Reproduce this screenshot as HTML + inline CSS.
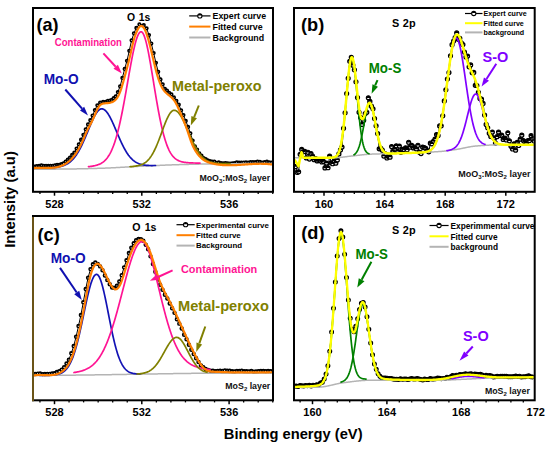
<!DOCTYPE html>
<html><head><meta charset="utf-8"><style>
html,body{margin:0;padding:0;background:#fff;width:550px;height:449px;overflow:hidden}
svg{display:block}
text{font-family:"Liberation Sans",sans-serif;font-weight:bold}
</style></head><body>
<svg width="550" height="449" viewBox="0 0 550 449">
<rect width="550" height="449" fill="#fff"/>
<clipPath id="ca"><rect x="34" y="9" width="238" height="181.8"/></clipPath>
<g clip-path="url(#ca)">
<path d="M34.35,166.69 L36.70,166.10 L39.07,165.92 L41.42,165.33 L43.73,165.85 L46.03,165.87 L48.29,165.97 L50.52,165.76 L52.73,165.80 L54.92,165.42 L57.08,164.77 L59.22,164.85 L61.36,164.06 L63.49,163.28 L65.63,161.48 L67.77,159.71 L69.94,157.65 L72.12,154.89 L74.33,152.67 L76.56,148.49 L78.80,144.30 L81.06,139.72 L83.36,134.86 L85.69,129.27 L88.02,124.42 L90.29,120.21 L92.56,115.57 L94.89,110.03 L97.34,105.32 L100.13,102.66 L103.07,101.88 L105.60,101.95 L107.85,100.77 L109.92,100.60 L111.85,99.88 L113.71,98.19 L115.70,96.28 L117.85,92.07 L120.09,86.30 L122.37,77.95 L124.66,68.89 L126.96,60.86 L129.25,50.81 L131.56,40.32 L133.92,33.29 L136.36,27.88 L139.41,24.26 L143.78,25.08 L146.60,28.31 L149.00,35.05 L151.34,43.60 L153.65,52.99 L155.95,62.82 L158.23,71.87 L160.50,79.47 L162.72,84.36 L164.88,88.79 L166.98,90.54 L169.13,92.82 L171.44,94.27 L173.91,97.46 L176.40,100.77 L178.80,104.66 L181.14,110.36 L183.45,115.07 L185.76,120.88 L188.09,126.89 L190.40,133.24 L192.68,140.51 L194.92,146.47 L197.12,149.61 L199.31,153.38 L201.47,155.57 L203.58,158.06 L205.68,159.12 L207.77,160.25 L209.90,161.04 L212.07,161.54 L214.29,161.55 L216.52,162.81 L218.75,162.32 L220.99,163.06 L223.23,163.36 L225.48,163.04 L227.73,163.40 L229.99,163.71 L232.25,163.32 L234.52,162.99 L236.80,162.27 L239.08,162.72 L241.37,162.69 L243.67,162.55 L245.97,162.25 L248.27,162.49 L250.58,162.06 L252.90,162.06 L255.22,162.19 L257.55,161.65 L259.89,161.78 L262.23,162.53 L264.57,162.20 L266.93,161.68 L269.28,162.23 L271.61,162.69" fill="none" stroke="#000" stroke-width="1.0" stroke-linejoin="round" stroke-linecap="round" />
<g fill="#fff" stroke="#000" stroke-width="1.6"><circle cx="34.35" cy="166.69" r="1.3"/><circle cx="36.70" cy="166.10" r="1.3"/><circle cx="39.07" cy="165.92" r="1.3"/><circle cx="41.42" cy="165.33" r="1.3"/><circle cx="43.73" cy="165.85" r="1.3"/><circle cx="46.03" cy="165.87" r="1.3"/><circle cx="48.29" cy="165.97" r="1.3"/><circle cx="50.52" cy="165.76" r="1.3"/><circle cx="52.73" cy="165.80" r="1.3"/><circle cx="54.92" cy="165.42" r="1.3"/><circle cx="57.08" cy="164.77" r="1.3"/><circle cx="59.22" cy="164.85" r="1.3"/><circle cx="61.36" cy="164.06" r="1.3"/><circle cx="63.49" cy="163.28" r="1.3"/><circle cx="65.63" cy="161.48" r="1.3"/><circle cx="67.77" cy="159.71" r="1.3"/><circle cx="69.94" cy="157.65" r="1.3"/><circle cx="72.12" cy="154.89" r="1.3"/><circle cx="74.33" cy="152.67" r="1.3"/><circle cx="76.56" cy="148.49" r="1.3"/><circle cx="78.80" cy="144.30" r="1.3"/><circle cx="81.06" cy="139.72" r="1.3"/><circle cx="83.36" cy="134.86" r="1.3"/><circle cx="85.69" cy="129.27" r="1.3"/><circle cx="88.02" cy="124.42" r="1.3"/><circle cx="90.29" cy="120.21" r="1.3"/><circle cx="92.56" cy="115.57" r="1.3"/><circle cx="94.89" cy="110.03" r="1.3"/><circle cx="97.34" cy="105.32" r="1.3"/><circle cx="100.13" cy="102.66" r="1.3"/><circle cx="103.07" cy="101.88" r="1.3"/><circle cx="105.60" cy="101.95" r="1.3"/><circle cx="107.85" cy="100.77" r="1.3"/><circle cx="109.92" cy="100.60" r="1.3"/><circle cx="111.85" cy="99.88" r="1.3"/><circle cx="113.71" cy="98.19" r="1.3"/><circle cx="115.70" cy="96.28" r="1.3"/><circle cx="117.85" cy="92.07" r="1.3"/><circle cx="120.09" cy="86.30" r="1.3"/><circle cx="122.37" cy="77.95" r="1.3"/><circle cx="124.66" cy="68.89" r="1.3"/><circle cx="126.96" cy="60.86" r="1.3"/><circle cx="129.25" cy="50.81" r="1.3"/><circle cx="131.56" cy="40.32" r="1.3"/><circle cx="133.92" cy="33.29" r="1.3"/><circle cx="136.36" cy="27.88" r="1.3"/><circle cx="139.41" cy="24.26" r="1.3"/><circle cx="143.78" cy="25.08" r="1.3"/><circle cx="146.60" cy="28.31" r="1.3"/><circle cx="149.00" cy="35.05" r="1.3"/><circle cx="151.34" cy="43.60" r="1.3"/><circle cx="153.65" cy="52.99" r="1.3"/><circle cx="155.95" cy="62.82" r="1.3"/><circle cx="158.23" cy="71.87" r="1.3"/><circle cx="160.50" cy="79.47" r="1.3"/><circle cx="162.72" cy="84.36" r="1.3"/><circle cx="164.88" cy="88.79" r="1.3"/><circle cx="166.98" cy="90.54" r="1.3"/><circle cx="169.13" cy="92.82" r="1.3"/><circle cx="171.44" cy="94.27" r="1.3"/><circle cx="173.91" cy="97.46" r="1.3"/><circle cx="176.40" cy="100.77" r="1.3"/><circle cx="178.80" cy="104.66" r="1.3"/><circle cx="181.14" cy="110.36" r="1.3"/><circle cx="183.45" cy="115.07" r="1.3"/><circle cx="185.76" cy="120.88" r="1.3"/><circle cx="188.09" cy="126.89" r="1.3"/><circle cx="190.40" cy="133.24" r="1.3"/><circle cx="192.68" cy="140.51" r="1.3"/><circle cx="194.92" cy="146.47" r="1.3"/><circle cx="197.12" cy="149.61" r="1.3"/><circle cx="199.31" cy="153.38" r="1.3"/><circle cx="201.47" cy="155.57" r="1.3"/><circle cx="203.58" cy="158.06" r="1.3"/><circle cx="205.68" cy="159.12" r="1.3"/><circle cx="207.77" cy="160.25" r="1.3"/><circle cx="209.90" cy="161.04" r="1.3"/><circle cx="212.07" cy="161.54" r="1.3"/><circle cx="214.29" cy="161.55" r="1.3"/><circle cx="216.52" cy="162.81" r="1.3"/><circle cx="218.75" cy="162.32" r="1.3"/><circle cx="220.99" cy="163.06" r="1.3"/><circle cx="223.23" cy="163.36" r="1.3"/><circle cx="225.48" cy="163.04" r="1.3"/><circle cx="227.73" cy="163.40" r="1.3"/><circle cx="229.99" cy="163.71" r="1.3"/><circle cx="232.25" cy="163.32" r="1.3"/><circle cx="234.52" cy="162.99" r="1.3"/><circle cx="236.80" cy="162.27" r="1.3"/><circle cx="239.08" cy="162.72" r="1.3"/><circle cx="241.37" cy="162.69" r="1.3"/><circle cx="243.67" cy="162.55" r="1.3"/><circle cx="245.97" cy="162.25" r="1.3"/><circle cx="248.27" cy="162.49" r="1.3"/><circle cx="250.58" cy="162.06" r="1.3"/><circle cx="252.90" cy="162.06" r="1.3"/><circle cx="255.22" cy="162.19" r="1.3"/><circle cx="257.55" cy="161.65" r="1.3"/><circle cx="259.89" cy="161.78" r="1.3"/><circle cx="262.23" cy="162.53" r="1.3"/><circle cx="264.57" cy="162.20" r="1.3"/><circle cx="266.93" cy="161.68" r="1.3"/><circle cx="269.28" cy="162.23" r="1.3"/><circle cx="271.61" cy="162.69" r="1.3"/></g>
<g fill="#000"><path d="M33.09,166.39 A1.3,1.3 0 0 1 35.62,166.39 Z"/><path d="M35.43,165.80 A1.3,1.3 0 0 1 37.96,165.80 Z"/><path d="M37.81,165.62 A1.3,1.3 0 0 1 40.34,165.62 Z"/><path d="M40.15,165.03 A1.3,1.3 0 0 1 42.68,165.03 Z"/><path d="M42.47,165.55 A1.3,1.3 0 0 1 45.00,165.55 Z"/><path d="M44.76,165.57 A1.3,1.3 0 0 1 47.29,165.57 Z"/><path d="M47.02,165.67 A1.3,1.3 0 0 1 49.55,165.67 Z"/><path d="M49.26,165.46 A1.3,1.3 0 0 1 51.79,165.46 Z"/><path d="M51.47,165.50 A1.3,1.3 0 0 1 54.00,165.50 Z"/><path d="M53.65,165.12 A1.3,1.3 0 0 1 56.18,165.12 Z"/><path d="M55.81,164.47 A1.3,1.3 0 0 1 58.34,164.47 Z"/><path d="M57.96,164.55 A1.3,1.3 0 0 1 60.49,164.55 Z"/><path d="M60.09,163.76 A1.3,1.3 0 0 1 62.62,163.76 Z"/><path d="M62.22,162.98 A1.3,1.3 0 0 1 64.75,162.98 Z"/><path d="M64.36,161.18 A1.3,1.3 0 0 1 66.89,161.18 Z"/><path d="M66.51,159.41 A1.3,1.3 0 0 1 69.04,159.41 Z"/><path d="M68.67,157.35 A1.3,1.3 0 0 1 71.20,157.35 Z"/><path d="M70.86,154.59 A1.3,1.3 0 0 1 73.39,154.59 Z"/><path d="M73.06,152.37 A1.3,1.3 0 0 1 75.59,152.37 Z"/><path d="M75.29,148.19 A1.3,1.3 0 0 1 77.82,148.19 Z"/><path d="M77.53,144.00 A1.3,1.3 0 0 1 80.06,144.00 Z"/><path d="M79.80,139.42 A1.3,1.3 0 0 1 82.33,139.42 Z"/><path d="M82.09,134.56 A1.3,1.3 0 0 1 84.62,134.56 Z"/><path d="M84.42,128.97 A1.3,1.3 0 0 1 86.95,128.97 Z"/><path d="M86.75,124.12 A1.3,1.3 0 0 1 89.28,124.12 Z"/><path d="M89.03,119.91 A1.3,1.3 0 0 1 91.56,119.91 Z"/><path d="M91.30,115.27 A1.3,1.3 0 0 1 93.83,115.27 Z"/><path d="M93.62,109.73 A1.3,1.3 0 0 1 96.15,109.73 Z"/><path d="M96.08,105.02 A1.3,1.3 0 0 1 98.61,105.02 Z"/><path d="M98.87,102.36 A1.3,1.3 0 0 1 101.40,102.36 Z"/><path d="M101.81,101.58 A1.3,1.3 0 0 1 104.34,101.58 Z"/><path d="M104.34,101.65 A1.3,1.3 0 0 1 106.87,101.65 Z"/><path d="M106.58,100.47 A1.3,1.3 0 0 1 109.11,100.47 Z"/><path d="M108.65,100.30 A1.3,1.3 0 0 1 111.18,100.30 Z"/><path d="M110.58,99.58 A1.3,1.3 0 0 1 113.11,99.58 Z"/><path d="M112.45,97.89 A1.3,1.3 0 0 1 114.98,97.89 Z"/><path d="M114.43,95.98 A1.3,1.3 0 0 1 116.96,95.98 Z"/><path d="M116.58,91.77 A1.3,1.3 0 0 1 119.11,91.77 Z"/><path d="M118.82,86.00 A1.3,1.3 0 0 1 121.35,86.00 Z"/><path d="M121.10,77.65 A1.3,1.3 0 0 1 123.63,77.65 Z"/><path d="M123.40,68.59 A1.3,1.3 0 0 1 125.93,68.59 Z"/><path d="M125.69,60.56 A1.3,1.3 0 0 1 128.22,60.56 Z"/><path d="M127.98,50.51 A1.3,1.3 0 0 1 130.51,50.51 Z"/><path d="M130.30,40.02 A1.3,1.3 0 0 1 132.83,40.02 Z"/><path d="M132.65,32.99 A1.3,1.3 0 0 1 135.18,32.99 Z"/><path d="M135.09,27.58 A1.3,1.3 0 0 1 137.62,27.58 Z"/><path d="M138.14,23.96 A1.3,1.3 0 0 1 140.67,23.96 Z"/><path d="M142.51,24.78 A1.3,1.3 0 0 1 145.04,24.78 Z"/><path d="M145.33,28.01 A1.3,1.3 0 0 1 147.86,28.01 Z"/><path d="M147.74,34.75 A1.3,1.3 0 0 1 150.27,34.75 Z"/><path d="M150.07,43.30 A1.3,1.3 0 0 1 152.60,43.30 Z"/><path d="M152.38,52.69 A1.3,1.3 0 0 1 154.91,52.69 Z"/><path d="M154.68,62.52 A1.3,1.3 0 0 1 157.21,62.52 Z"/><path d="M156.97,71.57 A1.3,1.3 0 0 1 159.50,71.57 Z"/><path d="M159.23,79.17 A1.3,1.3 0 0 1 161.76,79.17 Z"/><path d="M161.46,84.06 A1.3,1.3 0 0 1 163.99,84.06 Z"/><path d="M163.62,88.49 A1.3,1.3 0 0 1 166.15,88.49 Z"/><path d="M165.72,90.24 A1.3,1.3 0 0 1 168.25,90.24 Z"/><path d="M167.86,92.52 A1.3,1.3 0 0 1 170.39,92.52 Z"/><path d="M170.18,93.97 A1.3,1.3 0 0 1 172.70,93.97 Z"/><path d="M172.65,97.16 A1.3,1.3 0 0 1 175.18,97.16 Z"/><path d="M175.13,100.47 A1.3,1.3 0 0 1 177.66,100.47 Z"/><path d="M177.53,104.36 A1.3,1.3 0 0 1 180.06,104.36 Z"/><path d="M179.87,110.06 A1.3,1.3 0 0 1 182.40,110.06 Z"/><path d="M182.19,114.77 A1.3,1.3 0 0 1 184.72,114.77 Z"/><path d="M184.50,120.58 A1.3,1.3 0 0 1 187.03,120.58 Z"/><path d="M186.82,126.59 A1.3,1.3 0 0 1 189.35,126.59 Z"/><path d="M189.13,132.94 A1.3,1.3 0 0 1 191.66,132.94 Z"/><path d="M191.42,140.21 A1.3,1.3 0 0 1 193.95,140.21 Z"/><path d="M193.66,146.17 A1.3,1.3 0 0 1 196.19,146.17 Z"/><path d="M195.86,149.31 A1.3,1.3 0 0 1 198.39,149.31 Z"/><path d="M198.05,153.08 A1.3,1.3 0 0 1 200.58,153.08 Z"/><path d="M200.20,155.27 A1.3,1.3 0 0 1 202.73,155.27 Z"/><path d="M202.32,157.76 A1.3,1.3 0 0 1 204.85,157.76 Z"/><path d="M204.41,158.82 A1.3,1.3 0 0 1 206.94,158.82 Z"/><path d="M206.51,159.95 A1.3,1.3 0 0 1 209.04,159.95 Z"/><path d="M208.63,160.74 A1.3,1.3 0 0 1 211.16,160.74 Z"/><path d="M210.81,161.24 A1.3,1.3 0 0 1 213.34,161.24 Z"/><path d="M213.02,161.25 A1.3,1.3 0 0 1 215.55,161.25 Z"/><path d="M215.25,162.51 A1.3,1.3 0 0 1 217.78,162.51 Z"/><path d="M217.48,162.02 A1.3,1.3 0 0 1 220.01,162.02 Z"/><path d="M219.72,162.76 A1.3,1.3 0 0 1 222.25,162.76 Z"/><path d="M221.96,163.06 A1.3,1.3 0 0 1 224.49,163.06 Z"/><path d="M224.21,162.74 A1.3,1.3 0 0 1 226.74,162.74 Z"/><path d="M226.47,163.10 A1.3,1.3 0 0 1 228.99,163.10 Z"/><path d="M228.72,163.41 A1.3,1.3 0 0 1 231.25,163.41 Z"/><path d="M230.99,163.02 A1.3,1.3 0 0 1 233.52,163.02 Z"/><path d="M233.26,162.69 A1.3,1.3 0 0 1 235.79,162.69 Z"/><path d="M235.54,161.97 A1.3,1.3 0 0 1 238.07,161.97 Z"/><path d="M237.82,162.42 A1.3,1.3 0 0 1 240.35,162.42 Z"/><path d="M240.11,162.39 A1.3,1.3 0 0 1 242.64,162.39 Z"/><path d="M242.40,162.25 A1.3,1.3 0 0 1 244.93,162.25 Z"/><path d="M244.70,161.95 A1.3,1.3 0 0 1 247.23,161.95 Z"/><path d="M247.01,162.19 A1.3,1.3 0 0 1 249.54,162.19 Z"/><path d="M249.32,161.76 A1.3,1.3 0 0 1 251.85,161.76 Z"/><path d="M251.64,161.76 A1.3,1.3 0 0 1 254.17,161.76 Z"/><path d="M253.96,161.89 A1.3,1.3 0 0 1 256.49,161.89 Z"/><path d="M256.29,161.35 A1.3,1.3 0 0 1 258.82,161.35 Z"/><path d="M258.62,161.48 A1.3,1.3 0 0 1 261.15,161.48 Z"/><path d="M260.96,162.23 A1.3,1.3 0 0 1 263.49,162.23 Z"/><path d="M263.31,161.90 A1.3,1.3 0 0 1 265.84,161.90 Z"/><path d="M265.66,161.38 A1.3,1.3 0 0 1 268.19,161.38 Z"/><path d="M268.02,161.93 A1.3,1.3 0 0 1 270.55,161.93 Z"/><path d="M270.35,162.39 A1.3,1.3 0 0 1 272.88,162.39 Z"/></g>
<path d="M34.00,169.20 L34.50,169.20 L35.00,169.20 L35.50,169.20 L36.00,169.20 L36.50,169.20 L37.00,169.20 L37.50,169.20 L38.00,169.20 L38.50,169.19 L39.00,169.19 L39.50,169.19 L40.00,169.19 L40.50,169.19 L41.00,169.19 L41.50,169.19 L42.00,169.19 L42.50,169.18 L43.00,169.18 L43.50,169.18 L44.00,169.18 L44.50,169.18 L45.00,169.18 L45.50,169.17 L46.00,169.17 L46.50,169.17 L47.00,169.17 L47.50,169.17 L48.00,169.16 L48.50,169.16 L49.00,169.16 L49.50,169.16 L50.00,169.15 L50.50,169.15 L51.00,169.15 L51.50,169.15 L52.00,169.14 L52.50,169.14 L53.00,169.14 L53.50,169.14 L54.00,169.13 L54.50,169.13 L55.00,169.13 L55.50,169.13 L56.00,169.12 L56.50,169.12 L57.00,169.12 L57.50,169.11 L58.00,169.11 L58.50,169.11 L59.00,169.11 L59.50,169.10 L60.00,169.10 L60.50,169.10 L61.00,169.09 L61.50,169.09 L62.00,169.09 L62.50,169.08 L63.00,169.08 L63.50,169.07 L64.00,169.07 L64.50,169.06 L65.00,169.06 L65.50,169.05 L66.00,169.05 L66.50,169.04 L67.00,169.04 L67.50,169.03 L68.00,169.02 L68.50,169.02 L69.00,169.01 L69.50,169.00 L70.00,168.99 L70.50,168.99 L71.00,168.98 L71.50,168.97 L72.00,168.96 L72.50,168.96 L73.00,168.95 L73.50,168.94 L74.00,168.93 L74.50,168.92 L75.00,168.91 L75.50,168.90 L76.00,168.89 L76.50,168.88 L77.00,168.87 L77.50,168.86 L78.00,168.85 L78.50,168.84 L79.00,168.83 L79.50,168.82 L80.00,168.81 L80.50,168.80 L81.00,168.79 L81.50,168.78 L82.00,168.77 L82.50,168.76 L83.00,168.75 L83.50,168.73 L84.00,168.72 L84.50,168.71 L85.00,168.70 L85.50,168.69 L86.00,168.68 L86.50,168.66 L87.00,168.65 L87.50,168.64 L88.00,168.63 L88.50,168.61 L89.00,168.60 L89.50,168.59 L90.00,168.57 L90.50,168.56 L91.00,168.55 L91.50,168.54 L92.00,168.52 L92.50,168.51 L93.00,168.50 L93.50,168.48 L94.00,168.47 L94.50,168.45 L95.00,168.44 L95.50,168.43 L96.00,168.41 L96.50,168.40 L97.00,168.38 L97.50,168.37 L98.00,168.36 L98.50,168.34 L99.00,168.33 L99.50,168.31 L100.00,168.30 L100.50,168.29 L101.00,168.27 L101.50,168.25 L102.00,168.24 L102.50,168.22 L103.00,168.20 L103.50,168.19 L104.00,168.17 L104.50,168.15 L105.00,168.13 L105.50,168.11 L106.00,168.09 L106.50,168.07 L107.00,168.05 L107.50,168.03 L108.00,168.00 L108.50,167.98 L109.00,167.96 L109.50,167.94 L110.00,167.91 L110.50,167.89 L111.00,167.87 L111.50,167.84 L112.00,167.82 L112.50,167.79 L113.00,167.77 L113.50,167.74 L114.00,167.71 L114.50,167.69 L115.00,167.66 L115.50,167.63 L116.00,167.61 L116.50,167.58 L117.00,167.55 L117.50,167.53 L118.00,167.50 L118.50,167.47 L119.00,167.44 L119.50,167.42 L120.00,167.39 L120.50,167.36 L121.00,167.33 L121.50,167.30 L122.00,167.27 L122.50,167.24 L123.00,167.22 L123.50,167.19 L124.00,167.16 L124.50,167.13 L125.00,167.10 L125.50,167.07 L126.00,167.04 L126.50,167.02 L127.00,166.99 L127.50,166.96 L128.00,166.93 L128.50,166.90 L129.00,166.87 L129.50,166.85 L130.00,166.82 L130.50,166.79 L131.00,166.76 L131.50,166.73 L132.00,166.71 L132.50,166.68 L133.00,166.65 L133.50,166.63 L134.00,166.60 L134.50,166.57 L135.00,166.55 L135.50,166.52 L136.00,166.49 L136.50,166.47 L137.00,166.44 L137.50,166.42 L138.00,166.39 L138.50,166.37 L139.00,166.35 L139.50,166.32 L140.00,166.30 L140.50,166.28 L141.00,166.25 L141.50,166.23 L142.00,166.21 L142.50,166.18 L143.00,166.16 L143.50,166.14 L144.00,166.11 L144.50,166.09 L145.00,166.07 L145.50,166.04 L146.00,166.02 L146.50,165.99 L147.00,165.97 L147.50,165.95 L148.00,165.92 L148.50,165.90 L149.00,165.87 L149.50,165.85 L150.00,165.83 L150.50,165.80 L151.00,165.78 L151.50,165.76 L152.00,165.73 L152.50,165.71 L153.00,165.68 L153.50,165.66 L154.00,165.64 L154.50,165.61 L155.00,165.59 L155.50,165.56 L156.00,165.54 L156.50,165.52 L157.00,165.49 L157.50,165.47 L158.00,165.45 L158.50,165.42 L159.00,165.40 L159.50,165.38 L160.00,165.36 L160.50,165.33 L161.00,165.31 L161.50,165.29 L162.00,165.27 L162.50,165.24 L163.00,165.22 L163.50,165.20 L164.00,165.18 L164.50,165.16 L165.00,165.14 L165.50,165.11 L166.00,165.09 L166.50,165.07 L167.00,165.05 L167.50,165.03 L168.00,165.01 L168.50,164.99 L169.00,164.97 L169.50,164.95 L170.00,164.93 L170.50,164.91 L171.00,164.89 L171.50,164.88 L172.00,164.86 L172.50,164.84 L173.00,164.82 L173.50,164.80 L174.00,164.79 L174.50,164.77 L175.00,164.75 L175.50,164.74 L176.00,164.72 L176.50,164.70 L177.00,164.69 L177.50,164.67 L178.00,164.66 L178.50,164.64 L179.00,164.63 L179.50,164.61 L180.00,164.60 L180.50,164.59 L181.00,164.57 L181.50,164.56 L182.00,164.55 L182.50,164.53 L183.00,164.52 L183.50,164.51 L184.00,164.49 L184.50,164.48 L185.00,164.47 L185.50,164.45 L186.00,164.44 L186.50,164.43 L187.00,164.41 L187.50,164.40 L188.00,164.39 L188.50,164.38 L189.00,164.36 L189.50,164.35 L190.00,164.34 L190.50,164.33 L191.00,164.31 L191.50,164.30 L192.00,164.29 L192.50,164.28 L193.00,164.27 L193.50,164.25 L194.00,164.24 L194.50,164.23 L195.00,164.22 L195.50,164.21 L196.00,164.20 L196.50,164.18 L197.00,164.17 L197.50,164.16 L198.00,164.15 L198.50,164.14 L199.00,164.13 L199.50,164.12 L200.00,164.11 L200.50,164.10 L201.00,164.09 L201.50,164.08 L202.00,164.07 L202.50,164.06 L203.00,164.05 L203.50,164.04 L204.00,164.03 L204.50,164.02 L205.00,164.01 L205.50,164.00 L206.00,163.99 L206.50,163.98 L207.00,163.97 L207.50,163.97 L208.00,163.96 L208.50,163.95 L209.00,163.94 L209.50,163.93 L210.00,163.92 L210.50,163.92 L211.00,163.91 L211.50,163.90 L212.00,163.89 L212.50,163.89 L213.00,163.88 L213.50,163.87 L214.00,163.87 L214.50,163.86 L215.00,163.85 L215.50,163.85 L216.00,163.84 L216.50,163.84 L217.00,163.83 L217.50,163.82 L218.00,163.82 L218.50,163.81 L219.00,163.81 L219.50,163.80 L220.00,163.80 L220.50,163.80 L221.00,163.79 L221.50,163.79 L222.00,163.78 L222.50,163.78 L223.00,163.77 L223.50,163.77 L224.00,163.76 L224.50,163.76 L225.00,163.76 L225.50,163.75 L226.00,163.75 L226.50,163.74 L227.00,163.74 L227.50,163.73 L228.00,163.73 L228.50,163.73 L229.00,163.72 L229.50,163.72 L230.00,163.71 L230.50,163.71 L231.00,163.71 L231.50,163.70 L232.00,163.70 L232.50,163.69 L233.00,163.69 L233.50,163.69 L234.00,163.68 L234.50,163.68 L235.00,163.67 L235.50,163.67 L236.00,163.67 L236.50,163.66 L237.00,163.66 L237.50,163.65 L238.00,163.65 L238.50,163.65 L239.00,163.64 L239.50,163.64 L240.00,163.64 L240.50,163.63 L241.00,163.63 L241.50,163.63 L242.00,163.62 L242.50,163.62 L243.00,163.62 L243.50,163.61 L244.00,163.61 L244.50,163.61 L245.00,163.60 L245.50,163.60 L246.00,163.60 L246.50,163.59 L247.00,163.59 L247.50,163.59 L248.00,163.58 L248.50,163.58 L249.00,163.58 L249.50,163.57 L250.00,163.57 L250.50,163.57 L251.00,163.57 L251.50,163.56 L252.00,163.56 L252.50,163.56 L253.00,163.56 L253.50,163.55 L254.00,163.55 L254.50,163.55 L255.00,163.55 L255.50,163.54 L256.00,163.54 L256.50,163.54 L257.00,163.54 L257.50,163.54 L258.00,163.53 L258.50,163.53 L259.00,163.53 L259.50,163.53 L260.00,163.53 L260.50,163.52 L261.00,163.52 L261.50,163.52 L262.00,163.52 L262.50,163.52 L263.00,163.52 L263.50,163.51 L264.00,163.51 L264.50,163.51 L265.00,163.51 L265.50,163.51 L266.00,163.51 L266.50,163.51 L267.00,163.51 L267.50,163.51 L268.00,163.50 L268.50,163.50 L269.00,163.50 L269.50,163.50 L270.00,163.50 L270.50,163.50 L271.00,163.50 L271.50,163.50 L272.00,163.50 L272.50,163.50" fill="none" stroke="#b4b4b4" stroke-width="1.5" stroke-linejoin="round" stroke-linecap="round" />
<path d="M46.00,168.13 L46.50,168.10 L47.00,168.08 L47.50,168.06 L48.00,168.03 L48.50,168.00 L49.00,167.97 L49.50,167.94 L50.00,167.91 L50.50,167.88 L51.00,167.84 L51.50,167.81 L52.00,167.77 L52.50,167.72 L53.00,167.68 L53.50,167.63 L54.00,167.58 L54.50,167.53 L55.00,167.47 L55.50,167.41 L56.00,167.35 L56.50,167.28 L57.00,167.21 L57.50,167.13 L58.00,167.05 L58.50,166.96 L59.00,166.86 L59.50,166.76 L60.00,166.65 L60.50,166.53 L61.00,166.41 L61.50,166.28 L62.00,166.13 L62.50,165.98 L63.00,165.81 L63.50,165.64 L64.00,165.45 L64.50,165.25 L65.00,165.04 L65.50,164.81 L66.00,164.57 L66.50,164.31 L67.00,164.03 L67.50,163.74 L68.00,163.43 L68.50,163.10 L69.00,162.76 L69.50,162.39 L70.00,162.00 L70.50,161.58 L71.00,161.15 L71.50,160.69 L72.00,160.21 L72.50,159.70 L73.00,159.16 L73.50,158.60 L74.00,158.02 L74.50,157.40 L75.00,156.76 L75.50,156.09 L76.00,155.39 L76.50,154.66 L77.00,153.90 L77.50,153.12 L78.00,152.30 L78.50,151.46 L79.00,150.58 L79.50,149.68 L80.00,148.75 L80.50,147.79 L81.00,146.81 L81.50,145.79 L82.00,144.76 L82.50,143.70 L83.00,142.61 L83.50,141.51 L84.00,140.38 L84.50,139.24 L85.00,138.08 L85.50,136.90 L86.00,135.72 L86.50,134.52 L87.00,133.31 L87.50,132.10 L88.00,130.89 L88.50,129.67 L89.00,128.46 L89.50,127.25 L90.00,126.06 L90.50,124.87 L91.00,123.70 L91.50,122.55 L92.00,121.42 L92.50,120.31 L93.00,119.24 L93.50,118.20 L94.00,117.19 L94.50,116.23 L95.00,115.31 L95.50,114.44 L96.00,113.62 L96.50,112.85 L97.00,112.15 L97.50,111.50 L98.00,110.92 L98.50,110.41 L99.00,109.96 L99.50,109.59 L100.00,109.30 L100.50,109.07 L101.00,108.93 L101.50,108.86 L102.00,108.86 L102.50,108.93 L103.00,109.06 L103.50,109.26 L104.00,109.53 L104.50,109.86 L105.00,110.25 L105.50,110.70 L106.00,111.21 L106.50,111.78 L107.00,112.40 L107.50,113.08 L108.00,113.81 L108.50,114.59 L109.00,115.41 L109.50,116.28 L110.00,117.19 L110.50,118.14 L111.00,119.12 L111.50,120.14 L112.00,121.18 L112.50,122.26 L113.00,123.35 L113.50,124.47 L114.00,125.61 L114.50,126.76 L115.00,127.92 L115.50,129.08 L116.00,130.26 L116.50,131.44 L117.00,132.61 L117.50,133.79 L118.00,134.96 L118.50,136.12 L119.00,137.27 L119.50,138.41 L120.00,139.54 L120.50,140.65 L121.00,141.74 L121.50,142.81 L122.00,143.87 L122.50,144.89 L123.00,145.90 L123.50,146.88 L124.00,147.83 L124.50,148.76 L125.00,149.66 L125.50,150.53 L126.00,151.37 L126.50,152.18 L127.00,152.97 L127.50,153.72 L128.00,154.44 L128.50,155.14 L129.00,155.80 L129.50,156.44 L130.00,157.05 L130.50,157.62 L131.00,158.18 L131.50,158.70 L132.00,159.20 L132.50,159.67 L133.00,160.11 L133.50,160.53 L134.00,160.93 L134.50,161.30 L135.00,161.65 L135.50,161.98 L136.00,162.29 L136.50,162.58 L137.00,162.85 L137.50,163.10 L138.00,163.33 L138.50,163.55 L139.00,163.75 L139.50,163.94 L140.00,164.11 L140.50,164.27 L141.00,164.41 L141.50,164.55 L142.00,164.67 L142.50,164.78 L143.00,164.88 L143.50,164.97 L144.00,165.05 L144.50,165.12 L145.00,165.19 L145.50,165.25 L146.00,165.30 L146.50,165.34 L147.00,165.38 L147.50,165.41 L148.00,165.44 L148.50,165.47 L149.00,165.49 L149.50,165.50 L150.00,165.51 L150.50,165.52 L151.00,165.53 L151.50,165.53 L152.00,165.53 L152.50,165.53 L153.00,165.52 L153.50,165.52 L154.00,165.51 L154.50,165.50 L155.00,165.49 L155.50,165.48" fill="none" stroke="#1212b4" stroke-width="1.7" stroke-linejoin="round" stroke-linecap="round" />
<path d="M88.50,166.70 L89.00,166.64 L89.50,166.58 L90.00,166.51 L90.50,166.44 L91.00,166.37 L91.50,166.29 L92.00,166.21 L92.50,166.13 L93.00,166.04 L93.50,165.94 L94.00,165.84 L94.50,165.73 L95.00,165.62 L95.50,165.49 L96.00,165.36 L96.50,165.22 L97.00,165.07 L97.50,164.91 L98.00,164.74 L98.50,164.55 L99.00,164.35 L99.50,164.14 L100.00,163.91 L100.50,163.66 L101.00,163.39 L101.50,163.10 L102.00,162.80 L102.50,162.47 L103.00,162.11 L103.50,161.73 L104.00,161.32 L104.50,160.88 L105.00,160.41 L105.50,159.91 L106.00,159.37 L106.50,158.79 L107.00,158.18 L107.50,157.52 L108.00,156.82 L108.50,156.08 L109.00,155.29 L109.50,154.45 L110.00,153.56 L110.50,152.62 L111.00,151.62 L111.50,150.56 L112.00,149.45 L112.50,148.27 L113.00,147.03 L113.50,145.73 L114.00,144.36 L114.50,142.92 L115.00,141.42 L115.50,139.85 L116.00,138.20 L116.50,136.49 L117.00,134.70 L117.50,132.84 L118.00,130.91 L118.50,128.91 L119.00,126.84 L119.50,124.70 L120.00,122.49 L120.50,120.21 L121.00,117.87 L121.50,115.46 L122.00,113.00 L122.50,110.48 L123.00,107.90 L123.50,105.27 L124.00,102.60 L124.50,99.88 L125.00,97.13 L125.50,94.34 L126.00,91.53 L126.50,88.70 L127.00,85.85 L127.50,82.99 L128.00,80.13 L128.50,77.28 L129.00,74.44 L129.50,71.63 L130.00,68.84 L130.50,66.08 L131.00,63.38 L131.50,60.73 L132.00,58.14 L132.50,55.62 L133.00,53.18 L133.50,50.83 L134.00,48.58 L134.50,46.44 L135.00,44.42 L135.50,42.51 L136.00,40.74 L136.50,39.11 L137.00,37.63 L137.50,36.30 L138.00,35.13 L138.50,34.13 L139.00,33.30 L139.50,32.64 L140.00,32.16 L140.50,31.87 L141.00,31.75 L141.50,31.84 L142.00,32.13 L142.50,32.64 L143.00,33.35 L143.50,34.26 L144.00,35.37 L144.50,36.67 L145.00,38.16 L145.50,39.82 L146.00,41.65 L146.50,43.63 L147.00,45.76 L147.50,48.03 L148.00,50.43 L148.50,52.94 L149.00,55.55 L149.50,58.26 L150.00,61.05 L150.50,63.91 L151.00,66.83 L151.50,69.80 L152.00,72.81 L152.50,75.85 L153.00,78.90 L153.50,81.96 L154.00,85.03 L154.50,88.08 L155.00,91.12 L155.50,94.13 L156.00,97.10 L156.50,100.04 L157.00,102.93 L157.50,105.76 L158.00,108.54 L158.50,111.26 L159.00,113.91 L159.50,116.48 L160.00,118.99 L160.50,121.41 L161.00,123.75 L161.50,126.02 L162.00,128.20 L162.50,130.29 L163.00,132.30 L163.50,134.23 L164.00,136.06 L164.50,137.82 L165.00,139.49 L165.50,141.08 L166.00,142.59 L166.50,144.02 L167.00,145.37 L167.50,146.64 L168.00,147.84 L168.50,148.97 L169.00,150.03 L169.50,151.03 L170.00,151.96 L170.50,152.83 L171.00,153.64 L171.50,154.40 L172.00,155.11 L172.50,155.76 L173.00,156.37 L173.50,156.93 L174.00,157.45 L174.50,157.93 L175.00,158.37 L175.50,158.78 L176.00,159.16 L176.50,159.50 L177.00,159.82 L177.50,160.11 L178.00,160.38 L178.50,160.62 L179.00,160.85 L179.50,161.05 L180.00,161.24 L180.50,161.41 L181.00,161.56 L181.50,161.70 L182.00,161.83 L182.50,161.95 L183.00,162.05 L183.50,162.15 L184.00,162.24 L184.50,162.32 L185.00,162.39 L185.50,162.46 L186.00,162.52 L186.50,162.57 L187.00,162.62 L187.50,162.66 L188.00,162.70 L188.50,162.74 L189.00,162.77 L189.50,162.81 L190.00,162.83 L190.50,162.86 L191.00,162.88 L191.50,162.90 L192.00,162.92 L192.50,162.94 L193.00,162.96 L193.50,162.98 L194.00,162.99 L194.50,163.00 L195.00,163.02 L195.50,163.03 L196.00,163.04 L196.50,163.05 L197.00,163.06 L197.50,163.07 L198.00,163.07 L198.50,163.08 L199.00,163.09 L199.50,163.09 L200.00,163.10" fill="none" stroke="#ff1493" stroke-width="1.7" stroke-linejoin="round" stroke-linecap="round" />
<path d="M130.00,166.73 L130.50,166.69 L131.00,166.64 L131.50,166.60 L132.00,166.55 L132.50,166.50 L133.00,166.44 L133.50,166.39 L134.00,166.33 L134.50,166.26 L135.00,166.19 L135.50,166.12 L136.00,166.04 L136.50,165.95 L137.00,165.86 L137.50,165.76 L138.00,165.65 L138.50,165.54 L139.00,165.41 L139.50,165.27 L140.00,165.12 L140.50,164.96 L141.00,164.78 L141.50,164.59 L142.00,164.38 L142.50,164.16 L143.00,163.91 L143.50,163.65 L144.00,163.36 L144.50,163.06 L145.00,162.72 L145.50,162.37 L146.00,161.98 L146.50,161.57 L147.00,161.13 L147.50,160.66 L148.00,160.15 L148.50,159.62 L149.00,159.05 L149.50,158.44 L150.00,157.80 L150.50,157.11 L151.00,156.40 L151.50,155.64 L152.00,154.84 L152.50,154.00 L153.00,153.12 L153.50,152.21 L154.00,151.25 L154.50,150.25 L155.00,149.22 L155.50,148.14 L156.00,147.03 L156.50,145.89 L157.00,144.71 L157.50,143.50 L158.00,142.26 L158.50,140.99 L159.00,139.70 L159.50,138.39 L160.00,137.06 L160.50,135.71 L161.00,134.36 L161.50,133.00 L162.00,131.63 L162.50,130.27 L163.00,128.92 L163.50,127.57 L164.00,126.24 L164.50,124.94 L165.00,123.66 L165.50,122.41 L166.00,121.19 L166.50,120.02 L167.00,118.90 L167.50,117.82 L168.00,116.80 L168.50,115.84 L169.00,114.95 L169.50,114.12 L170.00,113.37 L170.50,112.69 L171.00,112.09 L171.50,111.58 L172.00,111.14 L172.50,110.80 L173.00,110.54 L173.50,110.37 L174.00,110.29 L174.50,110.29 L175.00,110.36 L175.50,110.51 L176.00,110.72 L176.50,111.00 L177.00,111.34 L177.50,111.75 L178.00,112.23 L178.50,112.76 L179.00,113.36 L179.50,114.01 L180.00,114.72 L180.50,115.48 L181.00,116.29 L181.50,117.15 L182.00,118.05 L182.50,118.99 L183.00,119.97 L183.50,120.99 L184.00,122.03 L184.50,123.10 L185.00,124.19 L185.50,125.31 L186.00,126.44 L186.50,127.58 L187.00,128.74 L187.50,129.90 L188.00,131.06 L188.50,132.23 L189.00,133.40 L189.50,134.55 L190.00,135.71 L190.50,136.85 L191.00,137.98 L191.50,139.09 L192.00,140.18 L192.50,141.26 L193.00,142.32 L193.50,143.35 L194.00,144.36 L194.50,145.34 L195.00,146.30 L195.50,147.22 L196.00,148.12 L196.50,148.99 L197.00,149.83 L197.50,150.64 L198.00,151.42 L198.50,152.17 L199.00,152.89 L199.50,153.57 L200.00,154.23 L200.50,154.86 L201.00,155.45 L201.50,156.02 L202.00,156.56 L202.50,157.07 L203.00,157.55 L203.50,158.00 L204.00,158.43 L204.50,158.84 L205.00,159.22 L205.50,159.57 L206.00,159.91 L206.50,160.22 L207.00,160.51 L207.50,160.78 L208.00,161.03 L208.50,161.27 L209.00,161.49 L209.50,161.69 L210.00,161.88 L210.50,162.05 L211.00,162.21 L211.50,162.35 L212.00,162.49 L212.50,162.61 L213.00,162.72 L213.50,162.83 L214.00,162.92 L214.50,163.01 L215.00,163.08 L215.50,163.15 L216.00,163.22 L216.50,163.28 L217.00,163.33 L217.50,163.37 L218.00,163.42 L218.50,163.45 L219.00,163.49 L219.50,163.52 L220.00,163.54 L220.50,163.57 L221.00,163.59 L221.50,163.61 L222.00,163.62 L222.50,163.64 L223.00,163.65 L223.50,163.66 L224.00,163.67 L224.50,163.68 L225.00,163.68 L225.50,163.69 L226.00,163.69 L226.50,163.69 L227.00,163.69 L227.50,163.70 L228.00,163.70 L228.50,163.70 L229.00,163.70 L229.50,163.70 L230.00,163.69" fill="none" stroke="#808000" stroke-width="1.7" stroke-linejoin="round" stroke-linecap="round" />
<path d="M34.00,168.10 L34.50,168.04 L35.00,167.99 L35.50,167.95 L36.00,167.91 L36.50,167.88 L37.00,167.86 L37.50,167.83 L38.00,167.82 L38.50,167.80 L39.00,167.79 L39.50,167.79 L40.00,167.79 L40.50,167.79 L41.00,167.79 L41.50,167.79 L42.00,167.80 L42.50,167.81 L43.00,167.82 L43.50,167.83 L44.00,167.84 L44.50,167.85 L45.00,167.86 L45.50,167.87 L46.00,167.88 L46.50,167.88 L47.00,167.89 L47.50,167.89 L48.00,167.89 L48.50,167.89 L49.00,167.89 L49.50,167.88 L50.00,167.87 L50.50,167.85 L51.00,167.83 L51.50,167.81 L52.00,167.78 L52.50,167.74 L53.00,167.70 L53.50,167.65 L54.00,167.60 L54.50,167.54 L55.00,167.47 L55.50,167.40 L56.00,167.32 L56.50,167.22 L57.00,167.13 L57.50,167.02 L58.00,166.90 L58.50,166.77 L59.00,166.64 L59.50,166.49 L60.00,166.33 L60.50,166.16 L61.00,165.98 L61.50,165.79 L62.00,165.59 L62.50,165.37 L63.00,165.15 L63.50,164.91 L64.00,164.65 L64.50,164.38 L65.00,164.10 L65.50,163.81 L66.00,163.49 L66.50,163.17 L67.00,162.83 L67.50,162.47 L68.00,162.09 L68.50,161.70 L69.00,161.29 L69.50,160.86 L70.00,160.41 L70.50,159.94 L71.00,159.45 L71.50,158.93 L72.00,158.40 L72.50,157.85 L73.00,157.27 L73.50,156.67 L74.00,156.04 L74.50,155.39 L75.00,154.72 L75.50,154.02 L76.00,153.29 L76.50,152.54 L77.00,151.76 L77.50,150.96 L78.00,150.12 L78.50,149.26 L79.00,148.36 L79.50,147.44 L80.00,146.49 L80.50,145.50 L81.00,144.48 L81.50,143.44 L82.00,142.35 L82.50,141.24 L83.00,140.10 L83.50,138.94 L84.00,137.76 L84.50,136.58 L85.00,135.41 L85.50,134.24 L86.00,133.09 L86.50,131.96 L87.00,130.87 L87.50,129.81 L88.00,128.80 L88.50,127.83 L89.00,126.89 L89.50,125.97 L90.00,125.06 L90.50,124.14 L91.00,123.21 L91.50,122.25 L92.00,121.25 L92.50,120.21 L93.00,119.13 L93.50,118.00 L94.00,116.85 L94.50,115.69 L95.00,114.52 L95.50,113.36 L96.00,112.22 L96.50,111.12 L97.00,110.06 L97.50,109.05 L98.00,108.11 L98.50,107.25 L99.00,106.48 L99.50,105.81 L100.00,105.25 L100.50,104.79 L101.00,104.42 L101.50,104.13 L102.00,103.90 L102.50,103.73 L103.00,103.61 L103.50,103.51 L104.00,103.44 L104.50,103.37 L105.00,103.32 L105.50,103.27 L106.00,103.23 L106.50,103.18 L107.00,103.14 L107.50,103.09 L108.00,103.04 L108.50,102.97 L109.00,102.90 L109.50,102.82 L110.00,102.72 L110.50,102.60 L111.00,102.46 L111.50,102.31 L112.00,102.12 L112.50,101.91 L113.00,101.67 L113.50,101.40 L114.00,101.08 L114.50,100.72 L115.00,100.31 L115.50,99.84 L116.00,99.31 L116.50,98.71 L117.00,98.03 L117.50,97.28 L118.00,96.44 L118.50,95.51 L119.00,94.48 L119.50,93.35 L120.00,92.11 L120.50,90.77 L121.00,89.34 L121.50,87.82 L122.00,86.22 L122.50,84.55 L123.00,82.82 L123.50,81.05 L124.00,79.23 L124.50,77.39 L125.00,75.52 L125.50,73.63 L126.00,71.75 L126.50,69.87 L127.00,67.99 L127.50,66.12 L128.00,64.22 L128.50,62.30 L129.00,60.33 L129.50,58.31 L130.00,56.22 L130.50,54.05 L131.00,51.80 L131.50,49.52 L132.00,47.26 L132.50,45.04 L133.00,42.92 L133.50,40.94 L134.00,39.13 L134.50,37.50 L135.00,36.01 L135.50,34.64 L136.00,33.38 L136.50,32.19 L137.00,31.07 L137.50,30.00 L138.00,29.01 L138.50,28.13 L139.00,27.38 L139.50,26.79 L140.00,26.36 L140.50,26.09 L141.00,25.96 L141.50,25.99 L142.00,26.16 L142.50,26.47 L143.00,26.92 L143.50,27.50 L144.00,28.22 L144.50,29.06 L145.00,30.03 L145.50,31.13 L146.00,32.34 L146.50,33.67 L147.00,35.11 L147.50,36.66 L148.00,38.31 L148.50,40.05 L149.00,41.88 L149.50,43.78 L150.00,45.74 L150.50,47.75 L151.00,49.81 L151.50,51.91 L152.00,54.02 L152.50,56.15 L153.00,58.29 L153.50,60.41 L154.00,62.52 L154.50,64.60 L155.00,66.64 L155.50,68.63 L156.00,70.56 L156.50,72.41 L157.00,74.19 L157.50,75.89 L158.00,77.51 L158.50,79.05 L159.00,80.51 L159.50,81.89 L160.00,83.18 L160.50,84.38 L161.00,85.50 L161.50,86.53 L162.00,87.47 L162.50,88.34 L163.00,89.15 L163.50,89.88 L164.00,90.56 L164.50,91.19 L165.00,91.77 L165.50,92.30 L166.00,92.80 L166.50,93.27 L167.00,93.71 L167.50,94.13 L168.00,94.53 L168.50,94.93 L169.00,95.32 L169.50,95.72 L170.00,96.12 L170.50,96.53 L171.00,96.96 L171.50,97.41 L172.00,97.90 L172.50,98.42 L173.00,98.97 L173.50,99.58 L174.00,100.23 L174.50,100.94 L175.00,101.71 L175.50,102.54 L176.00,103.43 L176.50,104.37 L177.00,105.36 L177.50,106.39 L178.00,107.45 L178.50,108.55 L179.00,109.67 L179.50,110.82 L180.00,111.98 L180.50,113.16 L181.00,114.34 L181.50,115.53 L182.00,116.72 L182.50,117.91 L183.00,119.11 L183.50,120.32 L184.00,121.54 L184.50,122.79 L185.00,124.05 L185.50,125.35 L186.00,126.67 L186.50,128.03 L187.00,129.43 L187.50,130.88 L188.00,132.36 L188.50,133.87 L189.00,135.39 L189.50,136.92 L190.00,138.42 L190.50,139.89 L191.00,141.32 L191.50,142.68 L192.00,143.96 L192.50,145.16 L193.00,146.27 L193.50,147.31 L194.00,148.29 L194.50,149.20 L195.00,150.08 L195.50,150.91 L196.00,151.70 L196.50,152.46 L197.00,153.18 L197.50,153.87 L198.00,154.53 L198.50,155.15 L199.00,155.74 L199.50,156.31 L200.00,156.84 L200.50,157.34 L201.00,157.82 L201.50,158.27 L202.00,158.70 L202.50,159.10 L203.00,159.48 L203.50,159.83 L204.00,160.17 L204.50,160.48 L205.00,160.78 L205.50,161.05 L206.00,161.31 L206.50,161.55 L207.00,161.78 L207.50,161.99 L208.00,162.19 L208.50,162.37 L209.00,162.55 L209.50,162.71 L210.00,162.87 L210.50,163.01 L211.00,163.15 L211.50,163.28 L212.00,163.40 L212.50,163.52 L213.00,163.64 L213.50,163.75 L214.00,163.85 L214.50,163.96 L215.00,164.05 L215.50,164.15 L216.00,164.23 L216.50,164.32 L217.00,164.40 L217.50,164.47 L218.00,164.55 L218.50,164.61 L219.00,164.68 L219.50,164.74 L220.00,164.79 L220.50,164.85 L221.00,164.90 L221.50,164.94 L222.00,164.99 L222.50,165.03 L223.00,165.06 L223.50,165.09 L224.00,165.12 L224.50,165.15 L225.00,165.17 L225.50,165.19 L226.00,165.21 L226.50,165.23 L227.00,165.24 L227.50,165.25 L228.00,165.26 L228.50,165.26 L229.00,165.27 L229.50,165.27 L230.00,165.26 L230.50,165.26 L231.00,165.25 L231.50,165.24 L232.00,165.23 L232.50,165.22 L233.00,165.21 L233.50,165.19 L234.00,165.17 L234.50,165.16 L235.00,165.13 L235.50,165.11 L236.00,165.09 L236.50,165.06 L237.00,165.04 L237.50,165.01 L238.00,164.98 L238.50,164.95 L239.00,164.92 L239.50,164.89 L240.00,164.86 L240.50,164.83 L241.00,164.80 L241.50,164.76 L242.00,164.73 L242.50,164.69 L243.00,164.66 L243.50,164.62 L244.00,164.59 L244.50,164.55 L245.00,164.52 L245.50,164.48 L246.00,164.44 L246.50,164.41 L247.00,164.37 L247.50,164.34 L248.00,164.30 L248.50,164.27 L249.00,164.24 L249.50,164.20 L250.00,164.17 L250.50,164.14 L251.00,164.11 L251.50,164.08 L252.00,164.05 L252.50,164.02 L253.00,163.99 L253.50,163.97 L254.00,163.94 L254.50,163.92 L255.00,163.90 L255.50,163.88 L256.00,163.86 L256.50,163.84 L257.00,163.82 L257.50,163.81 L258.00,163.80 L258.50,163.79 L259.00,163.78 L259.50,163.77 L260.00,163.77 L260.50,163.77 L261.00,163.77 L261.50,163.77 L262.00,163.78 L262.50,163.78 L263.00,163.79 L263.50,163.81 L264.00,163.82 L264.50,163.84 L265.00,163.86 L265.50,163.88 L266.00,163.91 L266.50,163.94 L267.00,163.97 L267.50,164.01 L268.00,164.05 L268.50,164.09 L269.00,164.14 L269.50,164.19 L270.00,164.24 L270.50,164.30 L271.00,164.36 L271.50,164.42 L272.00,164.49 L272.50,164.56" fill="none" stroke="#ff7f00" stroke-width="2.2" stroke-linejoin="round" stroke-linecap="round" />
</g>
<rect x="33.0" y="8.0" width="240" height="183.8" fill="none" stroke="#000" stroke-width="2"/>
<line x1="39.95" y1="191.8" x2="39.95" y2="193.9" stroke="#000" stroke-width="1.3"/>
<line x1="54.50" y1="191.8" x2="54.50" y2="195.70000000000002" stroke="#000" stroke-width="1.5"/>
<line x1="69.05" y1="191.8" x2="69.05" y2="193.9" stroke="#000" stroke-width="1.3"/>
<line x1="83.60" y1="191.8" x2="83.60" y2="193.9" stroke="#000" stroke-width="1.3"/>
<line x1="98.15" y1="191.8" x2="98.15" y2="193.9" stroke="#000" stroke-width="1.3"/>
<line x1="112.70" y1="191.8" x2="112.70" y2="193.9" stroke="#000" stroke-width="1.3"/>
<line x1="127.25" y1="191.8" x2="127.25" y2="193.9" stroke="#000" stroke-width="1.3"/>
<line x1="141.80" y1="191.8" x2="141.80" y2="195.70000000000002" stroke="#000" stroke-width="1.5"/>
<line x1="156.35" y1="191.8" x2="156.35" y2="193.9" stroke="#000" stroke-width="1.3"/>
<line x1="170.90" y1="191.8" x2="170.90" y2="193.9" stroke="#000" stroke-width="1.3"/>
<line x1="185.45" y1="191.8" x2="185.45" y2="193.9" stroke="#000" stroke-width="1.3"/>
<line x1="200.00" y1="191.8" x2="200.00" y2="193.9" stroke="#000" stroke-width="1.3"/>
<line x1="214.55" y1="191.8" x2="214.55" y2="193.9" stroke="#000" stroke-width="1.3"/>
<line x1="229.10" y1="191.8" x2="229.10" y2="195.70000000000002" stroke="#000" stroke-width="1.5"/>
<line x1="243.65" y1="191.8" x2="243.65" y2="193.9" stroke="#000" stroke-width="1.3"/>
<line x1="258.20" y1="191.8" x2="258.20" y2="193.9" stroke="#000" stroke-width="1.3"/>
<line x1="272.75" y1="191.8" x2="272.75" y2="193.9" stroke="#000" stroke-width="1.3"/>
<text x="54.5" y="207.5" font-size="11" fill="#000" text-anchor="middle" >528</text>
<text x="141.8" y="207.5" font-size="11" fill="#000" text-anchor="middle" >532</text>
<text x="229.1" y="207.5" font-size="11" fill="#000" text-anchor="middle" >536</text>
<clipPath id="cc"><rect x="34" y="217" width="238" height="182.3"/></clipPath>
<g clip-path="url(#cc)">
<path d="M32.90,374.49 L35.30,373.90 L37.70,373.61 L40.10,373.59 L42.50,374.10 L44.90,374.09 L47.30,373.87 L49.70,373.87 L52.10,373.51 L54.50,373.32 L56.90,372.04 L59.30,371.17 L61.70,369.60 L64.10,367.14 L66.50,363.49 L68.90,359.71 L71.30,353.23 L73.70,346.08 L76.10,336.73 L78.50,326.03 L80.90,314.96 L83.30,302.20 L85.70,289.05 L88.10,277.68 L90.50,269.12 L92.90,264.19 L95.30,262.49 L97.70,263.87 L100.10,266.38 L102.50,270.19 L104.90,275.43 L107.30,280.04 L109.70,284.28 L112.10,287.53 L114.50,287.93 L116.90,285.77 L119.30,281.57 L121.70,275.13 L124.10,267.35 L126.50,260.24 L128.90,253.02 L131.30,247.82 L133.70,243.32 L136.10,240.14 L138.50,239.03 L140.90,239.17 L143.30,240.66 L145.70,244.78 L148.10,249.28 L150.50,256.36 L152.90,263.93 L155.30,271.78 L157.70,278.54 L160.10,284.72 L162.50,289.77 L164.90,294.67 L167.30,298.56 L169.70,303.43 L172.10,308.15 L174.50,312.85 L176.90,319.20 L179.30,323.64 L181.70,328.52 L184.10,334.68 L186.50,339.15 L188.90,344.68 L191.30,349.73 L193.70,353.93 L196.10,358.29 L198.50,362.06 L200.90,365.36 L203.30,367.32 L205.70,368.96 L208.10,370.07 L210.50,370.75 L212.90,370.76 L215.30,371.20 L217.70,370.99 L220.10,370.71 L222.50,370.91 L224.90,370.41 L227.30,370.79 L229.70,370.82 L232.10,371.25 L234.50,371.40 L236.90,371.06 L239.30,371.07 L241.70,370.80 L244.10,371.23 L246.50,371.34 L248.90,371.39 L251.30,371.01 L253.70,371.83 L256.10,371.57 L258.50,371.16 L260.90,371.00 L263.30,371.04 L265.70,371.15 L268.10,371.06 L270.50,371.17" fill="none" stroke="#000" stroke-width="1.0" stroke-linejoin="round" stroke-linecap="round" />
<g fill="#fff" stroke="#000" stroke-width="1.45"><circle cx="32.90" cy="374.49" r="1.5"/><circle cx="35.30" cy="373.90" r="1.5"/><circle cx="37.70" cy="373.61" r="1.5"/><circle cx="40.10" cy="373.59" r="1.5"/><circle cx="42.50" cy="374.10" r="1.5"/><circle cx="44.90" cy="374.09" r="1.5"/><circle cx="47.30" cy="373.87" r="1.5"/><circle cx="49.70" cy="373.87" r="1.5"/><circle cx="52.10" cy="373.51" r="1.5"/><circle cx="54.50" cy="373.32" r="1.5"/><circle cx="56.90" cy="372.04" r="1.5"/><circle cx="59.30" cy="371.17" r="1.5"/><circle cx="61.70" cy="369.60" r="1.5"/><circle cx="64.10" cy="367.14" r="1.5"/><circle cx="66.50" cy="363.49" r="1.5"/><circle cx="68.90" cy="359.71" r="1.5"/><circle cx="71.30" cy="353.23" r="1.5"/><circle cx="73.70" cy="346.08" r="1.5"/><circle cx="76.10" cy="336.73" r="1.5"/><circle cx="78.50" cy="326.03" r="1.5"/><circle cx="80.90" cy="314.96" r="1.5"/><circle cx="83.30" cy="302.20" r="1.5"/><circle cx="85.70" cy="289.05" r="1.5"/><circle cx="88.10" cy="277.68" r="1.5"/><circle cx="90.50" cy="269.12" r="1.5"/><circle cx="92.90" cy="264.19" r="1.5"/><circle cx="95.30" cy="262.49" r="1.5"/><circle cx="97.70" cy="263.87" r="1.5"/><circle cx="100.10" cy="266.38" r="1.5"/><circle cx="102.50" cy="270.19" r="1.5"/><circle cx="104.90" cy="275.43" r="1.5"/><circle cx="107.30" cy="280.04" r="1.5"/><circle cx="109.70" cy="284.28" r="1.5"/><circle cx="112.10" cy="287.53" r="1.5"/><circle cx="114.50" cy="287.93" r="1.5"/><circle cx="116.90" cy="285.77" r="1.5"/><circle cx="119.30" cy="281.57" r="1.5"/><circle cx="121.70" cy="275.13" r="1.5"/><circle cx="124.10" cy="267.35" r="1.5"/><circle cx="126.50" cy="260.24" r="1.5"/><circle cx="128.90" cy="253.02" r="1.5"/><circle cx="131.30" cy="247.82" r="1.5"/><circle cx="133.70" cy="243.32" r="1.5"/><circle cx="136.10" cy="240.14" r="1.5"/><circle cx="138.50" cy="239.03" r="1.5"/><circle cx="140.90" cy="239.17" r="1.5"/><circle cx="143.30" cy="240.66" r="1.5"/><circle cx="145.70" cy="244.78" r="1.5"/><circle cx="148.10" cy="249.28" r="1.5"/><circle cx="150.50" cy="256.36" r="1.5"/><circle cx="152.90" cy="263.93" r="1.5"/><circle cx="155.30" cy="271.78" r="1.5"/><circle cx="157.70" cy="278.54" r="1.5"/><circle cx="160.10" cy="284.72" r="1.5"/><circle cx="162.50" cy="289.77" r="1.5"/><circle cx="164.90" cy="294.67" r="1.5"/><circle cx="167.30" cy="298.56" r="1.5"/><circle cx="169.70" cy="303.43" r="1.5"/><circle cx="172.10" cy="308.15" r="1.5"/><circle cx="174.50" cy="312.85" r="1.5"/><circle cx="176.90" cy="319.20" r="1.5"/><circle cx="179.30" cy="323.64" r="1.5"/><circle cx="181.70" cy="328.52" r="1.5"/><circle cx="184.10" cy="334.68" r="1.5"/><circle cx="186.50" cy="339.15" r="1.5"/><circle cx="188.90" cy="344.68" r="1.5"/><circle cx="191.30" cy="349.73" r="1.5"/><circle cx="193.70" cy="353.93" r="1.5"/><circle cx="196.10" cy="358.29" r="1.5"/><circle cx="198.50" cy="362.06" r="1.5"/><circle cx="200.90" cy="365.36" r="1.5"/><circle cx="203.30" cy="367.32" r="1.5"/><circle cx="205.70" cy="368.96" r="1.5"/><circle cx="208.10" cy="370.07" r="1.5"/><circle cx="210.50" cy="370.75" r="1.5"/><circle cx="212.90" cy="370.76" r="1.5"/><circle cx="215.30" cy="371.20" r="1.5"/><circle cx="217.70" cy="370.99" r="1.5"/><circle cx="220.10" cy="370.71" r="1.5"/><circle cx="222.50" cy="370.91" r="1.5"/><circle cx="224.90" cy="370.41" r="1.5"/><circle cx="227.30" cy="370.79" r="1.5"/><circle cx="229.70" cy="370.82" r="1.5"/><circle cx="232.10" cy="371.25" r="1.5"/><circle cx="234.50" cy="371.40" r="1.5"/><circle cx="236.90" cy="371.06" r="1.5"/><circle cx="239.30" cy="371.07" r="1.5"/><circle cx="241.70" cy="370.80" r="1.5"/><circle cx="244.10" cy="371.23" r="1.5"/><circle cx="246.50" cy="371.34" r="1.5"/><circle cx="248.90" cy="371.39" r="1.5"/><circle cx="251.30" cy="371.01" r="1.5"/><circle cx="253.70" cy="371.83" r="1.5"/><circle cx="256.10" cy="371.57" r="1.5"/><circle cx="258.50" cy="371.16" r="1.5"/><circle cx="260.90" cy="371.00" r="1.5"/><circle cx="263.30" cy="371.04" r="1.5"/><circle cx="265.70" cy="371.15" r="1.5"/><circle cx="268.10" cy="371.06" r="1.5"/><circle cx="270.50" cy="371.17" r="1.5"/></g>
<g fill="#000"><path d="M31.43,374.19 A1.5,1.5 0 0 1 34.37,374.19 Z"/><path d="M33.83,373.60 A1.5,1.5 0 0 1 36.77,373.60 Z"/><path d="M36.23,373.31 A1.5,1.5 0 0 1 39.17,373.31 Z"/><path d="M38.63,373.29 A1.5,1.5 0 0 1 41.57,373.29 Z"/><path d="M41.03,373.80 A1.5,1.5 0 0 1 43.97,373.80 Z"/><path d="M43.43,373.79 A1.5,1.5 0 0 1 46.37,373.79 Z"/><path d="M45.83,373.57 A1.5,1.5 0 0 1 48.77,373.57 Z"/><path d="M48.23,373.57 A1.5,1.5 0 0 1 51.17,373.57 Z"/><path d="M50.63,373.21 A1.5,1.5 0 0 1 53.57,373.21 Z"/><path d="M53.03,373.02 A1.5,1.5 0 0 1 55.97,373.02 Z"/><path d="M55.43,371.74 A1.5,1.5 0 0 1 58.37,371.74 Z"/><path d="M57.83,370.87 A1.5,1.5 0 0 1 60.77,370.87 Z"/><path d="M60.23,369.30 A1.5,1.5 0 0 1 63.17,369.30 Z"/><path d="M62.63,366.84 A1.5,1.5 0 0 1 65.57,366.84 Z"/><path d="M65.03,363.19 A1.5,1.5 0 0 1 67.97,363.19 Z"/><path d="M67.43,359.41 A1.5,1.5 0 0 1 70.37,359.41 Z"/><path d="M69.83,352.93 A1.5,1.5 0 0 1 72.77,352.93 Z"/><path d="M72.23,345.78 A1.5,1.5 0 0 1 75.17,345.78 Z"/><path d="M74.63,336.43 A1.5,1.5 0 0 1 77.57,336.43 Z"/><path d="M77.03,325.73 A1.5,1.5 0 0 1 79.97,325.73 Z"/><path d="M79.43,314.66 A1.5,1.5 0 0 1 82.37,314.66 Z"/><path d="M81.83,301.90 A1.5,1.5 0 0 1 84.77,301.90 Z"/><path d="M84.23,288.75 A1.5,1.5 0 0 1 87.17,288.75 Z"/><path d="M86.63,277.38 A1.5,1.5 0 0 1 89.57,277.38 Z"/><path d="M89.03,268.82 A1.5,1.5 0 0 1 91.97,268.82 Z"/><path d="M91.43,263.89 A1.5,1.5 0 0 1 94.37,263.89 Z"/><path d="M93.83,262.19 A1.5,1.5 0 0 1 96.77,262.19 Z"/><path d="M96.23,263.57 A1.5,1.5 0 0 1 99.17,263.57 Z"/><path d="M98.63,266.08 A1.5,1.5 0 0 1 101.57,266.08 Z"/><path d="M101.03,269.89 A1.5,1.5 0 0 1 103.97,269.89 Z"/><path d="M103.43,275.13 A1.5,1.5 0 0 1 106.37,275.13 Z"/><path d="M105.83,279.74 A1.5,1.5 0 0 1 108.77,279.74 Z"/><path d="M108.23,283.98 A1.5,1.5 0 0 1 111.17,283.98 Z"/><path d="M110.63,287.23 A1.5,1.5 0 0 1 113.57,287.23 Z"/><path d="M113.03,287.63 A1.5,1.5 0 0 1 115.97,287.63 Z"/><path d="M115.43,285.47 A1.5,1.5 0 0 1 118.37,285.47 Z"/><path d="M117.83,281.27 A1.5,1.5 0 0 1 120.77,281.27 Z"/><path d="M120.23,274.83 A1.5,1.5 0 0 1 123.17,274.83 Z"/><path d="M122.63,267.05 A1.5,1.5 0 0 1 125.57,267.05 Z"/><path d="M125.03,259.94 A1.5,1.5 0 0 1 127.97,259.94 Z"/><path d="M127.43,252.72 A1.5,1.5 0 0 1 130.37,252.72 Z"/><path d="M129.83,247.52 A1.5,1.5 0 0 1 132.77,247.52 Z"/><path d="M132.23,243.02 A1.5,1.5 0 0 1 135.17,243.02 Z"/><path d="M134.63,239.84 A1.5,1.5 0 0 1 137.57,239.84 Z"/><path d="M137.03,238.73 A1.5,1.5 0 0 1 139.97,238.73 Z"/><path d="M139.43,238.87 A1.5,1.5 0 0 1 142.37,238.87 Z"/><path d="M141.83,240.36 A1.5,1.5 0 0 1 144.77,240.36 Z"/><path d="M144.23,244.48 A1.5,1.5 0 0 1 147.17,244.48 Z"/><path d="M146.63,248.98 A1.5,1.5 0 0 1 149.57,248.98 Z"/><path d="M149.03,256.06 A1.5,1.5 0 0 1 151.97,256.06 Z"/><path d="M151.43,263.63 A1.5,1.5 0 0 1 154.37,263.63 Z"/><path d="M153.83,271.48 A1.5,1.5 0 0 1 156.77,271.48 Z"/><path d="M156.23,278.24 A1.5,1.5 0 0 1 159.17,278.24 Z"/><path d="M158.63,284.42 A1.5,1.5 0 0 1 161.57,284.42 Z"/><path d="M161.03,289.47 A1.5,1.5 0 0 1 163.97,289.47 Z"/><path d="M163.43,294.37 A1.5,1.5 0 0 1 166.37,294.37 Z"/><path d="M165.83,298.26 A1.5,1.5 0 0 1 168.77,298.26 Z"/><path d="M168.23,303.13 A1.5,1.5 0 0 1 171.17,303.13 Z"/><path d="M170.63,307.85 A1.5,1.5 0 0 1 173.57,307.85 Z"/><path d="M173.03,312.55 A1.5,1.5 0 0 1 175.97,312.55 Z"/><path d="M175.43,318.90 A1.5,1.5 0 0 1 178.37,318.90 Z"/><path d="M177.83,323.34 A1.5,1.5 0 0 1 180.77,323.34 Z"/><path d="M180.23,328.22 A1.5,1.5 0 0 1 183.17,328.22 Z"/><path d="M182.63,334.38 A1.5,1.5 0 0 1 185.57,334.38 Z"/><path d="M185.03,338.85 A1.5,1.5 0 0 1 187.97,338.85 Z"/><path d="M187.43,344.38 A1.5,1.5 0 0 1 190.37,344.38 Z"/><path d="M189.83,349.43 A1.5,1.5 0 0 1 192.77,349.43 Z"/><path d="M192.23,353.63 A1.5,1.5 0 0 1 195.17,353.63 Z"/><path d="M194.63,357.99 A1.5,1.5 0 0 1 197.57,357.99 Z"/><path d="M197.03,361.76 A1.5,1.5 0 0 1 199.97,361.76 Z"/><path d="M199.43,365.06 A1.5,1.5 0 0 1 202.37,365.06 Z"/><path d="M201.83,367.02 A1.5,1.5 0 0 1 204.77,367.02 Z"/><path d="M204.23,368.66 A1.5,1.5 0 0 1 207.17,368.66 Z"/><path d="M206.63,369.77 A1.5,1.5 0 0 1 209.57,369.77 Z"/><path d="M209.03,370.45 A1.5,1.5 0 0 1 211.97,370.45 Z"/><path d="M211.43,370.46 A1.5,1.5 0 0 1 214.37,370.46 Z"/><path d="M213.83,370.90 A1.5,1.5 0 0 1 216.77,370.90 Z"/><path d="M216.23,370.69 A1.5,1.5 0 0 1 219.17,370.69 Z"/><path d="M218.63,370.41 A1.5,1.5 0 0 1 221.57,370.41 Z"/><path d="M221.03,370.61 A1.5,1.5 0 0 1 223.97,370.61 Z"/><path d="M223.43,370.11 A1.5,1.5 0 0 1 226.37,370.11 Z"/><path d="M225.83,370.49 A1.5,1.5 0 0 1 228.77,370.49 Z"/><path d="M228.23,370.52 A1.5,1.5 0 0 1 231.17,370.52 Z"/><path d="M230.63,370.95 A1.5,1.5 0 0 1 233.57,370.95 Z"/><path d="M233.03,371.10 A1.5,1.5 0 0 1 235.97,371.10 Z"/><path d="M235.43,370.76 A1.5,1.5 0 0 1 238.37,370.76 Z"/><path d="M237.83,370.77 A1.5,1.5 0 0 1 240.77,370.77 Z"/><path d="M240.23,370.50 A1.5,1.5 0 0 1 243.17,370.50 Z"/><path d="M242.63,370.93 A1.5,1.5 0 0 1 245.57,370.93 Z"/><path d="M245.03,371.04 A1.5,1.5 0 0 1 247.97,371.04 Z"/><path d="M247.43,371.09 A1.5,1.5 0 0 1 250.37,371.09 Z"/><path d="M249.83,370.71 A1.5,1.5 0 0 1 252.77,370.71 Z"/><path d="M252.23,371.53 A1.5,1.5 0 0 1 255.17,371.53 Z"/><path d="M254.63,371.27 A1.5,1.5 0 0 1 257.57,371.27 Z"/><path d="M257.03,370.86 A1.5,1.5 0 0 1 259.97,370.86 Z"/><path d="M259.43,370.70 A1.5,1.5 0 0 1 262.37,370.70 Z"/><path d="M261.83,370.74 A1.5,1.5 0 0 1 264.77,370.74 Z"/><path d="M264.23,370.85 A1.5,1.5 0 0 1 267.17,370.85 Z"/><path d="M266.63,370.76 A1.5,1.5 0 0 1 269.57,370.76 Z"/><path d="M269.03,370.87 A1.5,1.5 0 0 1 271.97,370.87 Z"/></g>
<path d="M34.00,375.49 L34.50,375.49 L35.00,375.49 L35.50,375.49 L36.00,375.48 L36.50,375.48 L37.00,375.48 L37.50,375.47 L38.00,375.47 L38.50,375.47 L39.00,375.46 L39.50,375.46 L40.00,375.46 L40.50,375.46 L41.00,375.45 L41.50,375.45 L42.00,375.45 L42.50,375.44 L43.00,375.44 L43.50,375.43 L44.00,375.43 L44.50,375.43 L45.00,375.42 L45.50,375.42 L46.00,375.42 L46.50,375.41 L47.00,375.41 L47.50,375.41 L48.00,375.40 L48.50,375.40 L49.00,375.39 L49.50,375.39 L50.00,375.39 L50.50,375.38 L51.00,375.38 L51.50,375.37 L52.00,375.37 L52.50,375.37 L53.00,375.36 L53.50,375.36 L54.00,375.35 L54.50,375.35 L55.00,375.34 L55.50,375.34 L56.00,375.34 L56.50,375.33 L57.00,375.33 L57.50,375.32 L58.00,375.32 L58.50,375.31 L59.00,375.31 L59.50,375.30 L60.00,375.30 L60.50,375.30 L61.00,375.29 L61.50,375.29 L62.00,375.28 L62.50,375.28 L63.00,375.27 L63.50,375.27 L64.00,375.26 L64.50,375.26 L65.00,375.25 L65.50,375.25 L66.00,375.24 L66.50,375.24 L67.00,375.23 L67.50,375.22 L68.00,375.22 L68.50,375.21 L69.00,375.21 L69.50,375.20 L70.00,375.20 L70.50,375.19 L71.00,375.19 L71.50,375.18 L72.00,375.17 L72.50,375.17 L73.00,375.16 L73.50,375.16 L74.00,375.15 L74.50,375.14 L75.00,375.14 L75.50,375.13 L76.00,375.12 L76.50,375.12 L77.00,375.11 L77.50,375.11 L78.00,375.10 L78.50,375.09 L79.00,375.09 L79.50,375.08 L80.00,375.07 L80.50,375.07 L81.00,375.06 L81.50,375.05 L82.00,375.05 L82.50,375.04 L83.00,375.03 L83.50,375.03 L84.00,375.02 L84.50,375.01 L85.00,375.01 L85.50,375.00 L86.00,374.99 L86.50,374.99 L87.00,374.98 L87.50,374.97 L88.00,374.97 L88.50,374.96 L89.00,374.95 L89.50,374.95 L90.00,374.94 L90.50,374.93 L91.00,374.93 L91.50,374.92 L92.00,374.91 L92.50,374.90 L93.00,374.90 L93.50,374.89 L94.00,374.88 L94.50,374.88 L95.00,374.87 L95.50,374.86 L96.00,374.86 L96.50,374.85 L97.00,374.84 L97.50,374.83 L98.00,374.83 L98.50,374.82 L99.00,374.81 L99.50,374.81 L100.00,374.80 L100.50,374.79 L101.00,374.79 L101.50,374.78 L102.00,374.77 L102.50,374.76 L103.00,374.76 L103.50,374.75 L104.00,374.74 L104.50,374.74 L105.00,374.73 L105.50,374.72 L106.00,374.71 L106.50,374.71 L107.00,374.70 L107.50,374.69 L108.00,374.68 L108.50,374.67 L109.00,374.67 L109.50,374.66 L110.00,374.65 L110.50,374.64 L111.00,374.64 L111.50,374.63 L112.00,374.62 L112.50,374.61 L113.00,374.60 L113.50,374.60 L114.00,374.59 L114.50,374.58 L115.00,374.57 L115.50,374.56 L116.00,374.56 L116.50,374.55 L117.00,374.54 L117.50,374.53 L118.00,374.52 L118.50,374.51 L119.00,374.51 L119.50,374.50 L120.00,374.49 L120.50,374.48 L121.00,374.47 L121.50,374.46 L122.00,374.46 L122.50,374.45 L123.00,374.44 L123.50,374.43 L124.00,374.42 L124.50,374.41 L125.00,374.41 L125.50,374.40 L126.00,374.39 L126.50,374.38 L127.00,374.37 L127.50,374.36 L128.00,374.36 L128.50,374.35 L129.00,374.34 L129.50,374.33 L130.00,374.32 L130.50,374.31 L131.00,374.31 L131.50,374.30 L132.00,374.29 L132.50,374.28 L133.00,374.27 L133.50,374.26 L134.00,374.26 L134.50,374.25 L135.00,374.24 L135.50,374.23 L136.00,374.22 L136.50,374.21 L137.00,374.21 L137.50,374.20 L138.00,374.19 L138.50,374.18 L139.00,374.17 L139.50,374.16 L140.00,374.16 L140.50,374.15 L141.00,374.14 L141.50,374.13 L142.00,374.12 L142.50,374.12 L143.00,374.11 L143.50,374.10 L144.00,374.09 L144.50,374.08 L145.00,374.08 L145.50,374.07 L146.00,374.06 L146.50,374.05 L147.00,374.05 L147.50,374.04 L148.00,374.03 L148.50,374.02 L149.00,374.02 L149.50,374.01 L150.00,374.00 L150.50,373.99 L151.00,373.98 L151.50,373.98 L152.00,373.97 L152.50,373.96 L153.00,373.95 L153.50,373.95 L154.00,373.94 L154.50,373.93 L155.00,373.92 L155.50,373.91 L156.00,373.91 L156.50,373.90 L157.00,373.89 L157.50,373.88 L158.00,373.87 L158.50,373.87 L159.00,373.86 L159.50,373.85 L160.00,373.84 L160.50,373.83 L161.00,373.83 L161.50,373.82 L162.00,373.81 L162.50,373.80 L163.00,373.79 L163.50,373.78 L164.00,373.78 L164.50,373.77 L165.00,373.76 L165.50,373.75 L166.00,373.74 L166.50,373.73 L167.00,373.73 L167.50,373.72 L168.00,373.71 L168.50,373.70 L169.00,373.69 L169.50,373.69 L170.00,373.68 L170.50,373.67 L171.00,373.66 L171.50,373.65 L172.00,373.65 L172.50,373.64 L173.00,373.63 L173.50,373.62 L174.00,373.61 L174.50,373.61 L175.00,373.60 L175.50,373.59 L176.00,373.58 L176.50,373.57 L177.00,373.57 L177.50,373.56 L178.00,373.55 L178.50,373.54 L179.00,373.54 L179.50,373.53 L180.00,373.52 L180.50,373.51 L181.00,373.51 L181.50,373.50 L182.00,373.49 L182.50,373.49 L183.00,373.48 L183.50,373.47 L184.00,373.47 L184.50,373.46 L185.00,373.45 L185.50,373.45 L186.00,373.44 L186.50,373.43 L187.00,373.43 L187.50,373.42 L188.00,373.41 L188.50,373.41 L189.00,373.40 L189.50,373.40 L190.00,373.39 L190.50,373.39 L191.00,373.38 L191.50,373.37 L192.00,373.37 L192.50,373.36 L193.00,373.36 L193.50,373.35 L194.00,373.35 L194.50,373.34 L195.00,373.34 L195.50,373.33 L196.00,373.33 L196.50,373.33 L197.00,373.32 L197.50,373.32 L198.00,373.31 L198.50,373.31 L199.00,373.31 L199.50,373.30 L200.00,373.30 L200.50,373.30 L201.00,373.29 L201.50,373.29 L202.00,373.29 L202.50,373.28 L203.00,373.28 L203.50,373.28 L204.00,373.27 L204.50,373.27 L205.00,373.27 L205.50,373.26 L206.00,373.26 L206.50,373.26 L207.00,373.26 L207.50,373.25 L208.00,373.25 L208.50,373.25 L209.00,373.24 L209.50,373.24 L210.00,373.24 L210.50,373.23 L211.00,373.23 L211.50,373.23 L212.00,373.22 L212.50,373.22 L213.00,373.22 L213.50,373.21 L214.00,373.21 L214.50,373.21 L215.00,373.21 L215.50,373.20 L216.00,373.20 L216.50,373.20 L217.00,373.19 L217.50,373.19 L218.00,373.19 L218.50,373.19 L219.00,373.18 L219.50,373.18 L220.00,373.18 L220.50,373.17 L221.00,373.17 L221.50,373.17 L222.00,373.17 L222.50,373.16 L223.00,373.16 L223.50,373.16 L224.00,373.15 L224.50,373.15 L225.00,373.15 L225.50,373.15 L226.00,373.14 L226.50,373.14 L227.00,373.14 L227.50,373.14 L228.00,373.13 L228.50,373.13 L229.00,373.13 L229.50,373.13 L230.00,373.12 L230.50,373.12 L231.00,373.12 L231.50,373.12 L232.00,373.11 L232.50,373.11 L233.00,373.11 L233.50,373.11 L234.00,373.10 L234.50,373.10 L235.00,373.10 L235.50,373.10 L236.00,373.09 L236.50,373.09 L237.00,373.09 L237.50,373.09 L238.00,373.09 L238.50,373.08 L239.00,373.08 L239.50,373.08 L240.00,373.08 L240.50,373.07 L241.00,373.07 L241.50,373.07 L242.00,373.07 L242.50,373.07 L243.00,373.06 L243.50,373.06 L244.00,373.06 L244.50,373.06 L245.00,373.06 L245.50,373.06 L246.00,373.05 L246.50,373.05 L247.00,373.05 L247.50,373.05 L248.00,373.05 L248.50,373.04 L249.00,373.04 L249.50,373.04 L250.00,373.04 L250.50,373.04 L251.00,373.04 L251.50,373.04 L252.00,373.03 L252.50,373.03 L253.00,373.03 L253.50,373.03 L254.00,373.03 L254.50,373.03 L255.00,373.03 L255.50,373.02 L256.00,373.02 L256.50,373.02 L257.00,373.02 L257.50,373.02 L258.00,373.02 L258.50,373.02 L259.00,373.02 L259.50,373.02 L260.00,373.01 L260.50,373.01 L261.00,373.01 L261.50,373.01 L262.00,373.01 L262.50,373.01 L263.00,373.01 L263.50,373.01 L264.00,373.01 L264.50,373.01 L265.00,373.01 L265.50,373.01 L266.00,373.00 L266.50,373.00 L267.00,373.00 L267.50,373.00 L268.00,373.00 L268.50,373.00 L269.00,373.00 L269.50,373.00 L270.00,373.00 L270.50,373.00 L271.00,373.00 L271.50,373.00 L272.00,373.00 L272.50,373.00" fill="none" stroke="#b4b4b4" stroke-width="1.5" stroke-linejoin="round" stroke-linecap="round" />
<path d="M40.00,375.45 L40.50,375.45 L41.00,375.44 L41.50,375.44 L42.00,375.43 L42.50,375.43 L43.00,375.42 L43.50,375.42 L44.00,375.41 L44.50,375.40 L45.00,375.40 L45.50,375.39 L46.00,375.38 L46.50,375.37 L47.00,375.36 L47.50,375.34 L48.00,375.33 L48.50,375.31 L49.00,375.30 L49.50,375.28 L50.00,375.26 L50.50,375.23 L51.00,375.21 L51.50,375.18 L52.00,375.14 L52.50,375.11 L53.00,375.07 L53.50,375.02 L54.00,374.97 L54.50,374.91 L55.00,374.85 L55.50,374.77 L56.00,374.69 L56.50,374.60 L57.00,374.51 L57.50,374.40 L58.00,374.27 L58.50,374.14 L59.00,373.99 L59.50,373.82 L60.00,373.64 L60.50,373.44 L61.00,373.22 L61.50,372.98 L62.00,372.71 L62.50,372.42 L63.00,372.10 L63.50,371.76 L64.00,371.38 L64.50,370.97 L65.00,370.52 L65.50,370.04 L66.00,369.52 L66.50,368.95 L67.00,368.35 L67.50,367.69 L68.00,366.99 L68.50,366.23 L69.00,365.43 L69.50,364.57 L70.00,363.65 L70.50,362.67 L71.00,361.63 L71.50,360.52 L72.00,359.36 L72.50,358.13 L73.00,356.83 L73.50,355.46 L74.00,354.02 L74.50,352.52 L75.00,350.94 L75.50,349.30 L76.00,347.59 L76.50,345.81 L77.00,343.96 L77.50,342.06 L78.00,340.08 L78.50,338.05 L79.00,335.96 L79.50,333.82 L80.00,331.63 L80.50,329.39 L81.00,327.12 L81.50,324.80 L82.00,322.46 L82.50,320.10 L83.00,317.71 L83.50,315.32 L84.00,312.92 L84.50,310.52 L85.00,308.14 L85.50,305.77 L86.00,303.44 L86.50,301.13 L87.00,298.87 L87.50,296.67 L88.00,294.52 L88.50,292.44 L89.00,290.44 L89.50,288.53 L90.00,286.70 L90.50,284.98 L91.00,283.37 L91.50,281.87 L92.00,280.49 L92.50,279.24 L93.00,278.12 L93.50,277.14 L94.00,276.30 L94.50,275.61 L95.00,275.06 L95.50,274.67 L96.00,274.43 L96.50,274.35 L97.00,274.43 L97.50,274.69 L98.00,275.12 L98.50,275.73 L99.00,276.51 L99.50,277.46 L100.00,278.56 L100.50,279.82 L101.00,281.23 L101.50,282.78 L102.00,284.47 L102.50,286.28 L103.00,288.21 L103.50,290.24 L104.00,292.37 L104.50,294.59 L105.00,296.89 L105.50,299.25 L106.00,301.67 L106.50,304.14 L107.00,306.65 L107.50,309.18 L108.00,311.72 L108.50,314.28 L109.00,316.83 L109.50,319.37 L110.00,321.90 L110.50,324.39 L111.00,326.86 L111.50,329.28 L112.00,331.65 L112.50,333.97 L113.00,336.23 L113.50,338.43 L114.00,340.56 L114.50,342.62 L115.00,344.61 L115.50,346.53 L116.00,348.36 L116.50,350.12 L117.00,351.80 L117.50,353.40 L118.00,354.92 L118.50,356.37 L119.00,357.73 L119.50,359.02 L120.00,360.23 L120.50,361.37 L121.00,362.44 L121.50,363.44 L122.00,364.38 L122.50,365.25 L123.00,366.05 L123.50,366.80 L124.00,367.49 L124.50,368.13 L125.00,368.72 L125.50,369.26 L126.00,369.76 L126.50,370.21 L127.00,370.63 L127.50,371.01 L128.00,371.35 L128.50,371.66 L129.00,371.94 L129.50,372.19 L130.00,372.42 L130.50,372.63 L131.00,372.81 L131.50,372.98 L132.00,373.12 L132.50,373.25 L133.00,373.37 L133.50,373.47 L134.00,373.56 L134.50,373.64 L135.00,373.71 L135.50,373.77 L136.00,373.82 L136.50,373.86 L137.00,373.90 L137.50,373.93 L138.00,373.96 L138.50,373.98 L139.00,374.00 L139.50,374.02 L140.00,374.03" fill="none" stroke="#1212b4" stroke-width="1.7" stroke-linejoin="round" stroke-linecap="round" />
<path d="M74.00,372.52 L74.50,372.44 L75.00,372.37 L75.50,372.29 L76.00,372.21 L76.50,372.12 L77.00,372.03 L77.50,371.93 L78.00,371.83 L78.50,371.73 L79.00,371.62 L79.50,371.50 L80.00,371.38 L80.50,371.25 L81.00,371.12 L81.50,370.98 L82.00,370.83 L82.50,370.67 L83.00,370.51 L83.50,370.33 L84.00,370.15 L84.50,369.96 L85.00,369.76 L85.50,369.55 L86.00,369.32 L86.50,369.09 L87.00,368.85 L87.50,368.59 L88.00,368.32 L88.50,368.04 L89.00,367.74 L89.50,367.43 L90.00,367.10 L90.50,366.76 L91.00,366.40 L91.50,366.02 L92.00,365.63 L92.50,365.22 L93.00,364.79 L93.50,364.34 L94.00,363.87 L94.50,363.38 L95.00,362.87 L95.50,362.33 L96.00,361.78 L96.50,361.20 L97.00,360.59 L97.50,359.96 L98.00,359.31 L98.50,358.63 L99.00,357.92 L99.50,357.19 L100.00,356.43 L100.50,355.64 L101.00,354.82 L101.50,353.97 L102.00,353.09 L102.50,352.18 L103.00,351.24 L103.50,350.27 L104.00,349.26 L104.50,348.23 L105.00,347.16 L105.50,346.06 L106.00,344.92 L106.50,343.75 L107.00,342.55 L107.50,341.32 L108.00,340.05 L108.50,338.75 L109.00,337.42 L109.50,336.05 L110.00,334.65 L110.50,333.22 L111.00,331.76 L111.50,330.26 L112.00,328.73 L112.50,327.18 L113.00,325.59 L113.50,323.97 L114.00,322.33 L114.50,320.65 L115.00,318.96 L115.50,317.23 L116.00,315.48 L116.50,313.71 L117.00,311.92 L117.50,310.11 L118.00,308.27 L118.50,306.42 L119.00,304.56 L119.50,302.68 L120.00,300.78 L120.50,298.88 L121.00,296.97 L121.50,295.05 L122.00,293.13 L122.50,291.21 L123.00,289.28 L123.50,287.36 L124.00,285.44 L124.50,283.53 L125.00,281.63 L125.50,279.74 L126.00,277.87 L126.50,276.01 L127.00,274.17 L127.50,272.36 L128.00,270.57 L128.50,268.80 L129.00,267.07 L129.50,265.38 L130.00,263.72 L130.50,262.10 L131.00,260.52 L131.50,258.98 L132.00,257.50 L132.50,256.06 L133.00,254.68 L133.50,253.36 L134.00,252.09 L134.50,250.89 L135.00,249.75 L135.50,248.67 L136.00,247.67 L136.50,246.73 L137.00,245.87 L137.50,245.08 L138.00,244.37 L138.50,243.74 L139.00,243.19 L139.50,242.72 L140.00,242.33 L140.50,242.03 L141.00,241.81 L141.50,241.67 L142.00,241.62 L142.50,241.67 L143.00,241.83 L143.50,242.11 L144.00,242.49 L144.50,242.98 L145.00,243.58 L145.50,244.28 L146.00,245.09 L146.50,246.00 L147.00,247.00 L147.50,248.09 L148.00,249.28 L148.50,250.55 L149.00,251.90 L149.50,253.32 L150.00,254.82 L150.50,256.39 L151.00,258.02 L151.50,259.71 L152.00,261.45 L152.50,263.25 L153.00,265.09 L153.50,266.97 L154.00,268.89 L154.50,270.85 L155.00,272.83 L155.50,274.83 L156.00,276.86 L156.50,278.91 L157.00,280.97 L157.50,283.03 L158.00,285.11 L158.50,287.19 L159.00,289.27 L159.50,291.34 L160.00,293.41 L160.50,295.48 L161.00,297.53 L161.50,299.57 L162.00,301.59 L162.50,303.59 L163.00,305.57 L163.50,307.53 L164.00,309.47 L164.50,311.38 L165.00,313.26 L165.50,315.12 L166.00,316.94 L166.50,318.73 L167.00,320.49 L167.50,322.22 L168.00,323.91 L168.50,325.56 L169.00,327.18 L169.50,328.76 L170.00,330.31 L170.50,331.81 L171.00,333.28 L171.50,334.71 L172.00,336.10 L172.50,337.45 L173.00,338.77 L173.50,340.04 L174.00,341.28 L174.50,342.47 L175.00,343.63 L175.50,344.76 L176.00,345.84 L176.50,346.89 L177.00,347.90 L177.50,348.88 L178.00,349.82 L178.50,350.72 L179.00,351.60 L179.50,352.44 L180.00,353.24 L180.50,354.02 L181.00,354.76 L181.50,355.48 L182.00,356.16 L182.50,356.82 L183.00,357.45 L183.50,358.05 L184.00,358.63 L184.50,359.18 L185.00,359.71 L185.50,360.21 L186.00,360.69 L186.50,361.15 L187.00,361.59 L187.50,362.00 L188.00,362.40 L188.50,362.78 L189.00,363.14 L189.50,363.49 L190.00,363.82 L190.50,364.13 L191.00,364.43 L191.50,364.71 L192.00,364.98 L192.50,365.24 L193.00,365.48 L193.50,365.72 L194.00,365.94 L194.50,366.15 L195.00,366.35 L195.50,366.54 L196.00,366.72 L196.50,366.89 L197.00,367.06 L197.50,367.22 L198.00,367.37 L198.50,367.51 L199.00,367.65 L199.50,367.78 L200.00,367.90 L200.50,368.02 L201.00,368.13 L201.50,368.24 L202.00,368.34 L202.50,368.44 L203.00,368.54 L203.50,368.63 L204.00,368.72 L204.50,368.80 L205.00,368.88 L205.50,368.96 L206.00,369.03 L206.50,369.10 L207.00,369.17 L207.50,369.24 L208.00,369.30 L208.50,369.36 L209.00,369.42 L209.50,369.48 L210.00,369.53" fill="none" stroke="#ff1493" stroke-width="1.7" stroke-linejoin="round" stroke-linecap="round" />
<path d="M137.00,374.01 L137.50,373.98 L138.00,373.94 L138.50,373.90 L139.00,373.85 L139.50,373.80 L140.00,373.75 L140.50,373.68 L141.00,373.62 L141.50,373.54 L142.00,373.46 L142.50,373.37 L143.00,373.28 L143.50,373.17 L144.00,373.06 L144.50,372.93 L145.00,372.79 L145.50,372.64 L146.00,372.48 L146.50,372.30 L147.00,372.11 L147.50,371.90 L148.00,371.68 L148.50,371.44 L149.00,371.18 L149.50,370.90 L150.00,370.60 L150.50,370.28 L151.00,369.94 L151.50,369.57 L152.00,369.18 L152.50,368.77 L153.00,368.33 L153.50,367.86 L154.00,367.37 L154.50,366.86 L155.00,366.31 L155.50,365.74 L156.00,365.14 L156.50,364.52 L157.00,363.87 L157.50,363.19 L158.00,362.49 L158.50,361.76 L159.00,361.00 L159.50,360.23 L160.00,359.43 L160.50,358.61 L161.00,357.78 L161.50,356.92 L162.00,356.06 L162.50,355.18 L163.00,354.29 L163.50,353.39 L164.00,352.48 L164.50,351.58 L165.00,350.67 L165.50,349.77 L166.00,348.88 L166.50,347.99 L167.00,347.12 L167.50,346.27 L168.00,345.44 L168.50,344.63 L169.00,343.85 L169.50,343.10 L170.00,342.38 L170.50,341.70 L171.00,341.06 L171.50,340.47 L172.00,339.92 L172.50,339.42 L173.00,338.96 L173.50,338.57 L174.00,338.22 L174.50,337.93 L175.00,337.71 L175.50,337.54 L176.00,337.43 L176.50,337.38 L177.00,337.39 L177.50,337.47 L178.00,337.63 L178.50,337.85 L179.00,338.14 L179.50,338.50 L180.00,338.92 L180.50,339.41 L181.00,339.95 L181.50,340.55 L182.00,341.20 L182.50,341.90 L183.00,342.65 L183.50,343.43 L184.00,344.26 L184.50,345.11 L185.00,346.00 L185.50,346.91 L186.00,347.83 L186.50,348.78 L187.00,349.73 L187.50,350.69 L188.00,351.66 L188.50,352.62 L189.00,353.59 L189.50,354.54 L190.00,355.48 L190.50,356.41 L191.00,357.32 L191.50,358.21 L192.00,359.08 L192.50,359.92 L193.00,360.74 L193.50,361.53 L194.00,362.30 L194.50,363.03 L195.00,363.73 L195.50,364.41 L196.00,365.05 L196.50,365.66 L197.00,366.23 L197.50,366.78 L198.00,367.30 L198.50,367.78 L199.00,368.24 L199.50,368.67 L200.00,369.06 L200.50,369.44 L201.00,369.78 L201.50,370.10 L202.00,370.40 L202.50,370.67 L203.00,370.92 L203.50,371.15 L204.00,371.36 L204.50,371.56 L205.00,371.73 L205.50,371.89 L206.00,372.04 L206.50,372.17 L207.00,372.29" fill="none" stroke="#808000" stroke-width="1.7" stroke-linejoin="round" stroke-linecap="round" />
<path d="M34.00,375.41 L34.50,375.32 L35.00,375.25 L35.50,375.18 L36.00,375.13 L36.50,375.08 L37.00,375.05 L37.50,375.02 L38.00,375.00 L38.50,374.98 L39.00,374.97 L39.50,374.97 L40.00,374.97 L40.50,374.98 L41.00,374.99 L41.50,375.00 L42.00,375.02 L42.50,375.03 L43.00,375.06 L43.50,375.08 L44.00,375.10 L44.50,375.12 L45.00,375.14 L45.50,375.16 L46.00,375.18 L46.50,375.20 L47.00,375.21 L47.50,375.22 L48.00,375.23 L48.50,375.23 L49.00,375.22 L49.50,375.21 L50.00,375.20 L50.50,375.18 L51.00,375.15 L51.50,375.11 L52.00,375.06 L52.50,375.01 L53.00,374.95 L53.50,374.87 L54.00,374.79 L54.50,374.69 L55.00,374.58 L55.50,374.46 L56.00,374.33 L56.50,374.18 L57.00,374.02 L57.50,373.85 L58.00,373.66 L58.50,373.45 L59.00,373.23 L59.50,372.99 L60.00,372.73 L60.50,372.46 L61.00,372.17 L61.50,371.85 L62.00,371.52 L62.50,371.17 L63.00,370.79 L63.50,370.38 L64.00,369.94 L64.50,369.47 L65.00,368.97 L65.50,368.43 L66.00,367.85 L66.50,367.23 L67.00,366.57 L67.50,365.86 L68.00,365.10 L68.50,364.29 L69.00,363.43 L69.50,362.51 L70.00,361.54 L70.50,360.51 L71.00,359.41 L71.50,358.25 L72.00,357.02 L72.50,355.73 L73.00,354.36 L73.50,352.92 L74.00,351.41 L74.50,349.83 L75.00,348.18 L75.50,346.47 L76.00,344.69 L76.50,342.84 L77.00,340.93 L77.50,338.96 L78.00,336.93 L78.50,334.84 L79.00,332.69 L79.50,330.48 L80.00,328.22 L80.50,325.90 L81.00,323.53 L81.50,321.10 L82.00,318.62 L82.50,316.10 L83.00,313.52 L83.50,310.90 L84.00,308.22 L84.50,305.51 L85.00,302.77 L85.50,300.01 L86.00,297.26 L86.50,294.54 L87.00,291.85 L87.50,289.23 L88.00,286.67 L88.50,284.21 L89.00,281.86 L89.50,279.63 L90.00,277.55 L90.50,275.63 L91.00,273.86 L91.50,272.24 L92.00,270.78 L92.50,269.46 L93.00,268.29 L93.50,267.26 L94.00,266.37 L94.50,265.61 L95.00,264.98 L95.50,264.48 L96.00,264.10 L96.50,263.85 L97.00,263.71 L97.50,263.69 L98.00,263.78 L98.50,263.97 L99.00,264.27 L99.50,264.66 L100.00,265.13 L100.50,265.69 L101.00,266.32 L101.50,267.03 L102.00,267.79 L102.50,268.61 L103.00,269.48 L103.50,270.40 L104.00,271.35 L104.50,272.33 L105.00,273.34 L105.50,274.37 L106.00,275.41 L106.50,276.46 L107.00,277.51 L107.50,278.55 L108.00,279.58 L108.50,280.59 L109.00,281.58 L109.50,282.53 L110.00,283.45 L110.50,284.33 L111.00,285.15 L111.50,285.92 L112.00,286.63 L112.50,287.27 L113.00,287.83 L113.50,288.32 L114.00,288.72 L114.50,289.02 L115.00,289.22 L115.50,289.32 L116.00,289.31 L116.50,289.18 L117.00,288.93 L117.50,288.56 L118.00,288.07 L118.50,287.47 L119.00,286.76 L119.50,285.94 L120.00,285.00 L120.50,283.96 L121.00,282.81 L121.50,281.56 L122.00,280.20 L122.50,278.76 L123.00,277.25 L123.50,275.68 L124.00,274.07 L124.50,272.44 L125.00,270.79 L125.50,269.15 L126.00,267.54 L126.50,265.95 L127.00,264.39 L127.50,262.86 L128.00,261.36 L128.50,259.90 L129.00,258.47 L129.50,257.09 L130.00,255.74 L130.50,254.43 L131.00,253.17 L131.50,251.95 L132.00,250.78 L132.50,249.66 L133.00,248.59 L133.50,247.57 L134.00,246.61 L134.50,245.71 L135.00,244.86 L135.50,244.07 L136.00,243.35 L136.50,242.69 L137.00,242.10 L137.50,241.57 L138.00,241.11 L138.50,240.73 L139.00,240.41 L139.50,240.17 L140.00,240.00 L140.50,239.90 L141.00,239.88 L141.50,239.92 L142.00,240.04 L142.50,240.22 L143.00,240.48 L143.50,240.81 L144.00,241.21 L144.50,241.69 L145.00,242.23 L145.50,242.85 L146.00,243.53 L146.50,244.29 L147.00,245.12 L147.50,246.02 L148.00,247.00 L148.50,248.04 L149.00,249.16 L149.50,250.34 L150.00,251.60 L150.50,252.93 L151.00,254.31 L151.50,255.75 L152.00,257.24 L152.50,258.76 L153.00,260.32 L153.50,261.91 L154.00,263.51 L154.50,265.13 L155.00,266.75 L155.50,268.38 L156.00,269.99 L156.50,271.59 L157.00,273.17 L157.50,274.72 L158.00,276.24 L158.50,277.71 L159.00,279.14 L159.50,280.51 L160.00,281.82 L160.50,283.09 L161.00,284.31 L161.50,285.48 L162.00,286.61 L162.50,287.71 L163.00,288.78 L163.50,289.81 L164.00,290.82 L164.50,291.80 L165.00,292.76 L165.50,293.71 L166.00,294.65 L166.50,295.57 L167.00,296.50 L167.50,297.41 L168.00,298.33 L168.50,299.26 L169.00,300.19 L169.50,301.13 L170.00,302.08 L170.50,303.04 L171.00,304.02 L171.50,305.00 L172.00,305.99 L172.50,306.99 L173.00,308.00 L173.50,309.02 L174.00,310.04 L174.50,311.08 L175.00,312.12 L175.50,313.17 L176.00,314.23 L176.50,315.29 L177.00,316.36 L177.50,317.43 L178.00,318.52 L178.50,319.60 L179.00,320.69 L179.50,321.79 L180.00,322.88 L180.50,323.98 L181.00,325.09 L181.50,326.19 L182.00,327.29 L182.50,328.40 L183.00,329.51 L183.50,330.61 L184.00,331.72 L184.50,332.82 L185.00,333.92 L185.50,335.02 L186.00,336.12 L186.50,337.21 L187.00,338.30 L187.50,339.38 L188.00,340.46 L188.50,341.53 L189.00,342.60 L189.50,343.66 L190.00,344.72 L190.50,345.76 L191.00,346.80 L191.50,347.83 L192.00,348.85 L192.50,349.87 L193.00,350.87 L193.50,351.86 L194.00,352.84 L194.50,353.80 L195.00,354.76 L195.50,355.70 L196.00,356.62 L196.50,357.52 L197.00,358.41 L197.50,359.28 L198.00,360.12 L198.50,360.95 L199.00,361.75 L199.50,362.52 L200.00,363.28 L200.50,364.00 L201.00,364.69 L201.50,365.36 L202.00,365.99 L202.50,366.60 L203.00,367.17 L203.50,367.70 L204.00,368.20 L204.50,368.66 L205.00,369.09 L205.50,369.47 L206.00,369.82 L206.50,370.12 L207.00,370.39 L207.50,370.63 L208.00,370.83 L208.50,371.01 L209.00,371.15 L209.50,371.28 L210.00,371.38 L210.50,371.46 L211.00,371.53 L211.50,371.58 L212.00,371.63 L212.50,371.66 L213.00,371.69 L213.50,371.72 L214.00,371.74 L214.50,371.77 L215.00,371.79 L215.50,371.81 L216.00,371.84 L216.50,371.86 L217.00,371.88 L217.50,371.90 L218.00,371.93 L218.50,371.95 L219.00,371.97 L219.50,371.99 L220.00,372.01 L220.50,372.02 L221.00,372.04 L221.50,372.06 L222.00,372.08 L222.50,372.10 L223.00,372.11 L223.50,372.13 L224.00,372.14 L224.50,372.16 L225.00,372.17 L225.50,372.19 L226.00,372.20 L226.50,372.22 L227.00,372.23 L227.50,372.24 L228.00,372.25 L228.50,372.27 L229.00,372.28 L229.50,372.29 L230.00,372.30 L230.50,372.31 L231.00,372.32 L231.50,372.33 L232.00,372.34 L232.50,372.35 L233.00,372.36 L233.50,372.37 L234.00,372.37 L234.50,372.38 L235.00,372.39 L235.50,372.39 L236.00,372.40 L236.50,372.41 L237.00,372.41 L237.50,372.42 L238.00,372.42 L238.50,372.43 L239.00,372.43 L239.50,372.44 L240.00,372.44 L240.50,372.45 L241.00,372.45 L241.50,372.45 L242.00,372.45 L242.50,372.46 L243.00,372.46 L243.50,372.46 L244.00,372.46 L244.50,372.46 L245.00,372.46 L245.50,372.47 L246.00,372.47 L246.50,372.47 L247.00,372.47 L247.50,372.47 L248.00,372.47 L248.50,372.46 L249.00,372.46 L249.50,372.46 L250.00,372.46 L250.50,372.46 L251.00,372.46 L251.50,372.46 L252.00,372.45 L252.50,372.45 L253.00,372.45 L253.50,372.45 L254.00,372.44 L254.50,372.44 L255.00,372.44 L255.50,372.43 L256.00,372.43 L256.50,372.42 L257.00,372.42 L257.50,372.41 L258.00,372.41 L258.50,372.41 L259.00,372.40 L259.50,372.40 L260.00,372.39 L260.50,372.39 L261.00,372.38 L261.50,372.37 L262.00,372.37 L262.50,372.36 L263.00,372.36 L263.50,372.35 L264.00,372.34 L264.50,372.34 L265.00,372.33 L265.50,372.32 L266.00,372.32 L266.50,372.31 L267.00,372.30 L267.50,372.30 L268.00,372.29 L268.50,372.28 L269.00,372.28 L269.50,372.27 L270.00,372.26 L270.50,372.25 L271.00,372.25 L271.50,372.24 L272.00,372.23 L272.50,372.22" fill="none" stroke="#ff7f00" stroke-width="2.2" stroke-linejoin="round" stroke-linecap="round" />
</g>
<rect x="33.0" y="216.0" width="240" height="184.3" fill="none" stroke="#000" stroke-width="2"/>
<line x1="33.0" y1="217" x2="33.0" y2="401.3" stroke="#6b5418" stroke-width="2"/>
<line x1="39.95" y1="400.3" x2="39.95" y2="402.40000000000003" stroke="#000" stroke-width="1.3"/>
<line x1="54.50" y1="400.3" x2="54.50" y2="404.2" stroke="#000" stroke-width="1.5"/>
<line x1="69.05" y1="400.3" x2="69.05" y2="402.40000000000003" stroke="#000" stroke-width="1.3"/>
<line x1="83.60" y1="400.3" x2="83.60" y2="402.40000000000003" stroke="#000" stroke-width="1.3"/>
<line x1="98.15" y1="400.3" x2="98.15" y2="402.40000000000003" stroke="#000" stroke-width="1.3"/>
<line x1="112.70" y1="400.3" x2="112.70" y2="402.40000000000003" stroke="#000" stroke-width="1.3"/>
<line x1="127.25" y1="400.3" x2="127.25" y2="402.40000000000003" stroke="#000" stroke-width="1.3"/>
<line x1="141.80" y1="400.3" x2="141.80" y2="404.2" stroke="#000" stroke-width="1.5"/>
<line x1="156.35" y1="400.3" x2="156.35" y2="402.40000000000003" stroke="#000" stroke-width="1.3"/>
<line x1="170.90" y1="400.3" x2="170.90" y2="402.40000000000003" stroke="#000" stroke-width="1.3"/>
<line x1="185.45" y1="400.3" x2="185.45" y2="402.40000000000003" stroke="#000" stroke-width="1.3"/>
<line x1="200.00" y1="400.3" x2="200.00" y2="402.40000000000003" stroke="#000" stroke-width="1.3"/>
<line x1="214.55" y1="400.3" x2="214.55" y2="402.40000000000003" stroke="#000" stroke-width="1.3"/>
<line x1="229.10" y1="400.3" x2="229.10" y2="404.2" stroke="#000" stroke-width="1.5"/>
<line x1="243.65" y1="400.3" x2="243.65" y2="402.40000000000003" stroke="#000" stroke-width="1.3"/>
<line x1="258.20" y1="400.3" x2="258.20" y2="402.40000000000003" stroke="#000" stroke-width="1.3"/>
<line x1="272.75" y1="400.3" x2="272.75" y2="402.40000000000003" stroke="#000" stroke-width="1.3"/>
<text x="54.5" y="415.5" font-size="11" fill="#000" text-anchor="middle" >528</text>
<text x="141.8" y="415.5" font-size="11" fill="#000" text-anchor="middle" >532</text>
<text x="229.1" y="415.5" font-size="11" fill="#000" text-anchor="middle" >536</text>
<clipPath id="cb"><rect x="295" y="9" width="238.70000000000005" height="181.8"/></clipPath>
<g clip-path="url(#cb)">
<path d="M295.50,166.64 L297.05,172.41 L298.60,171.81 L300.15,154.27 L301.70,149.40 L303.25,151.87 L304.80,151.47 L306.35,157.88 L307.90,152.23 L309.45,159.11 L311.00,153.54 L312.55,155.99 L314.10,159.71 L315.65,158.49 L317.20,160.99 L318.75,160.46 L320.30,160.51 L321.85,161.98 L323.40,161.38 L324.95,167.97 L326.50,163.09 L328.05,167.77 L329.60,156.07 L331.15,162.83 L332.70,163.77 L334.25,160.73 L335.80,163.13 L337.35,159.92 L338.90,153.96 L340.45,149.89 L342.00,147.12 L343.55,128.27 L345.10,112.84 L346.65,93.49 L348.20,78.23 L349.75,61.34 L351.30,57.33 L352.85,65.19 L354.40,69.78 L355.95,81.79 L357.50,97.62 L359.05,112.34 L360.60,117.38 L362.15,124.42 L363.70,120.36 L365.25,113.56 L366.80,112.34 L368.35,97.82 L369.90,101.46 L371.45,106.15 L373.00,108.78 L374.55,118.53 L376.10,125.73 L377.65,133.56 L379.20,148.79 L380.75,148.34 L382.30,150.15 L383.85,156.04 L385.40,153.80 L386.95,158.02 L388.50,156.50 L390.05,157.17 L391.60,146.53 L393.15,151.33 L394.70,149.42 L396.25,145.85 L397.80,151.39 L399.35,146.11 L400.90,152.36 L402.45,149.28 L404.00,149.55 L405.55,147.75 L407.10,149.68 L408.65,142.27 L410.20,147.15 L411.75,145.42 L413.30,147.89 L414.85,147.13 L416.40,148.95 L417.95,145.26 L419.50,152.29 L421.05,153.60 L422.60,147.07 L424.15,147.56 L425.70,148.26 L427.25,150.60 L428.80,151.85 L430.35,143.17 L431.90,143.86 L433.45,141.30 L435.00,139.03 L436.55,134.54 L438.10,135.48 L439.65,125.96 L441.20,125.86 L442.75,115.82 L444.30,100.95 L445.85,89.86 L447.40,79.11 L448.95,72.58 L450.50,55.75 L452.05,44.63 L453.60,41.10 L455.15,37.51 L456.70,32.90 L458.25,39.33 L459.80,38.31 L461.35,42.96 L462.90,44.59 L464.45,52.07 L466.00,56.94 L467.55,56.09 L469.10,66.78 L470.65,64.89 L472.20,72.76 L473.75,72.40 L475.30,85.34 L476.85,85.50 L478.40,92.24 L479.95,98.44 L481.50,99.16 L483.05,103.42 L484.60,115.09 L486.15,124.40 L487.70,127.73 L489.25,133.36 L490.80,136.51 L492.35,132.11 L493.90,137.99 L495.45,143.06 L497.00,136.69 L498.55,131.99 L500.10,135.52 L501.65,135.08 L503.20,139.45 L504.75,138.05 L506.30,139.98 L507.85,132.84 L509.40,140.86 L510.95,146.26 L512.50,148.99 L514.05,143.85 L515.60,150.16 L517.15,142.44 L518.70,145.51 L520.25,139.18 L521.80,135.13 L523.35,140.54 L524.90,141.94 L526.45,143.42 L528.00,140.53 L529.55,140.59 L531.10,135.69 L532.65,138.51 L534.20,141.06" fill="none" stroke="#000" stroke-width="1.0" stroke-linejoin="round" stroke-linecap="round" />
<g fill="#fff" stroke="#000" stroke-width="1.2"><circle cx="295.50" cy="166.64" r="2.0"/><circle cx="297.05" cy="172.41" r="2.0"/><circle cx="298.60" cy="171.81" r="2.0"/><circle cx="300.15" cy="154.27" r="2.0"/><circle cx="301.70" cy="149.40" r="2.0"/><circle cx="303.25" cy="151.87" r="2.0"/><circle cx="304.80" cy="151.47" r="2.0"/><circle cx="306.35" cy="157.88" r="2.0"/><circle cx="307.90" cy="152.23" r="2.0"/><circle cx="309.45" cy="159.11" r="2.0"/><circle cx="311.00" cy="153.54" r="2.0"/><circle cx="312.55" cy="155.99" r="2.0"/><circle cx="314.10" cy="159.71" r="2.0"/><circle cx="315.65" cy="158.49" r="2.0"/><circle cx="317.20" cy="160.99" r="2.0"/><circle cx="318.75" cy="160.46" r="2.0"/><circle cx="320.30" cy="160.51" r="2.0"/><circle cx="321.85" cy="161.98" r="2.0"/><circle cx="323.40" cy="161.38" r="2.0"/><circle cx="324.95" cy="167.97" r="2.0"/><circle cx="326.50" cy="163.09" r="2.0"/><circle cx="328.05" cy="167.77" r="2.0"/><circle cx="329.60" cy="156.07" r="2.0"/><circle cx="331.15" cy="162.83" r="2.0"/><circle cx="332.70" cy="163.77" r="2.0"/><circle cx="334.25" cy="160.73" r="2.0"/><circle cx="335.80" cy="163.13" r="2.0"/><circle cx="337.35" cy="159.92" r="2.0"/><circle cx="338.90" cy="153.96" r="2.0"/><circle cx="340.45" cy="149.89" r="2.0"/><circle cx="342.00" cy="147.12" r="2.0"/><circle cx="343.55" cy="128.27" r="2.0"/><circle cx="345.10" cy="112.84" r="2.0"/><circle cx="346.65" cy="93.49" r="2.0"/><circle cx="348.20" cy="78.23" r="2.0"/><circle cx="349.75" cy="61.34" r="2.0"/><circle cx="351.30" cy="57.33" r="2.0"/><circle cx="352.85" cy="65.19" r="2.0"/><circle cx="354.40" cy="69.78" r="2.0"/><circle cx="355.95" cy="81.79" r="2.0"/><circle cx="357.50" cy="97.62" r="2.0"/><circle cx="359.05" cy="112.34" r="2.0"/><circle cx="360.60" cy="117.38" r="2.0"/><circle cx="362.15" cy="124.42" r="2.0"/><circle cx="363.70" cy="120.36" r="2.0"/><circle cx="365.25" cy="113.56" r="2.0"/><circle cx="366.80" cy="112.34" r="2.0"/><circle cx="368.35" cy="97.82" r="2.0"/><circle cx="369.90" cy="101.46" r="2.0"/><circle cx="371.45" cy="106.15" r="2.0"/><circle cx="373.00" cy="108.78" r="2.0"/><circle cx="374.55" cy="118.53" r="2.0"/><circle cx="376.10" cy="125.73" r="2.0"/><circle cx="377.65" cy="133.56" r="2.0"/><circle cx="379.20" cy="148.79" r="2.0"/><circle cx="380.75" cy="148.34" r="2.0"/><circle cx="382.30" cy="150.15" r="2.0"/><circle cx="383.85" cy="156.04" r="2.0"/><circle cx="385.40" cy="153.80" r="2.0"/><circle cx="386.95" cy="158.02" r="2.0"/><circle cx="388.50" cy="156.50" r="2.0"/><circle cx="390.05" cy="157.17" r="2.0"/><circle cx="391.60" cy="146.53" r="2.0"/><circle cx="393.15" cy="151.33" r="2.0"/><circle cx="394.70" cy="149.42" r="2.0"/><circle cx="396.25" cy="145.85" r="2.0"/><circle cx="397.80" cy="151.39" r="2.0"/><circle cx="399.35" cy="146.11" r="2.0"/><circle cx="400.90" cy="152.36" r="2.0"/><circle cx="402.45" cy="149.28" r="2.0"/><circle cx="404.00" cy="149.55" r="2.0"/><circle cx="405.55" cy="147.75" r="2.0"/><circle cx="407.10" cy="149.68" r="2.0"/><circle cx="408.65" cy="142.27" r="2.0"/><circle cx="410.20" cy="147.15" r="2.0"/><circle cx="411.75" cy="145.42" r="2.0"/><circle cx="413.30" cy="147.89" r="2.0"/><circle cx="414.85" cy="147.13" r="2.0"/><circle cx="416.40" cy="148.95" r="2.0"/><circle cx="417.95" cy="145.26" r="2.0"/><circle cx="419.50" cy="152.29" r="2.0"/><circle cx="421.05" cy="153.60" r="2.0"/><circle cx="422.60" cy="147.07" r="2.0"/><circle cx="424.15" cy="147.56" r="2.0"/><circle cx="425.70" cy="148.26" r="2.0"/><circle cx="427.25" cy="150.60" r="2.0"/><circle cx="428.80" cy="151.85" r="2.0"/><circle cx="430.35" cy="143.17" r="2.0"/><circle cx="431.90" cy="143.86" r="2.0"/><circle cx="433.45" cy="141.30" r="2.0"/><circle cx="435.00" cy="139.03" r="2.0"/><circle cx="436.55" cy="134.54" r="2.0"/><circle cx="438.10" cy="135.48" r="2.0"/><circle cx="439.65" cy="125.96" r="2.0"/><circle cx="441.20" cy="125.86" r="2.0"/><circle cx="442.75" cy="115.82" r="2.0"/><circle cx="444.30" cy="100.95" r="2.0"/><circle cx="445.85" cy="89.86" r="2.0"/><circle cx="447.40" cy="79.11" r="2.0"/><circle cx="448.95" cy="72.58" r="2.0"/><circle cx="450.50" cy="55.75" r="2.0"/><circle cx="452.05" cy="44.63" r="2.0"/><circle cx="453.60" cy="41.10" r="2.0"/><circle cx="455.15" cy="37.51" r="2.0"/><circle cx="456.70" cy="32.90" r="2.0"/><circle cx="458.25" cy="39.33" r="2.0"/><circle cx="459.80" cy="38.31" r="2.0"/><circle cx="461.35" cy="42.96" r="2.0"/><circle cx="462.90" cy="44.59" r="2.0"/><circle cx="464.45" cy="52.07" r="2.0"/><circle cx="466.00" cy="56.94" r="2.0"/><circle cx="467.55" cy="56.09" r="2.0"/><circle cx="469.10" cy="66.78" r="2.0"/><circle cx="470.65" cy="64.89" r="2.0"/><circle cx="472.20" cy="72.76" r="2.0"/><circle cx="473.75" cy="72.40" r="2.0"/><circle cx="475.30" cy="85.34" r="2.0"/><circle cx="476.85" cy="85.50" r="2.0"/><circle cx="478.40" cy="92.24" r="2.0"/><circle cx="479.95" cy="98.44" r="2.0"/><circle cx="481.50" cy="99.16" r="2.0"/><circle cx="483.05" cy="103.42" r="2.0"/><circle cx="484.60" cy="115.09" r="2.0"/><circle cx="486.15" cy="124.40" r="2.0"/><circle cx="487.70" cy="127.73" r="2.0"/><circle cx="489.25" cy="133.36" r="2.0"/><circle cx="490.80" cy="136.51" r="2.0"/><circle cx="492.35" cy="132.11" r="2.0"/><circle cx="493.90" cy="137.99" r="2.0"/><circle cx="495.45" cy="143.06" r="2.0"/><circle cx="497.00" cy="136.69" r="2.0"/><circle cx="498.55" cy="131.99" r="2.0"/><circle cx="500.10" cy="135.52" r="2.0"/><circle cx="501.65" cy="135.08" r="2.0"/><circle cx="503.20" cy="139.45" r="2.0"/><circle cx="504.75" cy="138.05" r="2.0"/><circle cx="506.30" cy="139.98" r="2.0"/><circle cx="507.85" cy="132.84" r="2.0"/><circle cx="509.40" cy="140.86" r="2.0"/><circle cx="510.95" cy="146.26" r="2.0"/><circle cx="512.50" cy="148.99" r="2.0"/><circle cx="514.05" cy="143.85" r="2.0"/><circle cx="515.60" cy="150.16" r="2.0"/><circle cx="517.15" cy="142.44" r="2.0"/><circle cx="518.70" cy="145.51" r="2.0"/><circle cx="520.25" cy="139.18" r="2.0"/><circle cx="521.80" cy="135.13" r="2.0"/><circle cx="523.35" cy="140.54" r="2.0"/><circle cx="524.90" cy="141.94" r="2.0"/><circle cx="526.45" cy="143.42" r="2.0"/><circle cx="528.00" cy="140.53" r="2.0"/><circle cx="529.55" cy="140.59" r="2.0"/><circle cx="531.10" cy="135.69" r="2.0"/><circle cx="532.65" cy="138.51" r="2.0"/><circle cx="534.20" cy="141.06" r="2.0"/></g>
<g fill="#000"><path d="M293.51,166.84 A2.0,2.0 0 1 1 297.49,166.84 Z"/><path d="M295.06,172.61 A2.0,2.0 0 1 1 299.04,172.61 Z"/><path d="M296.61,172.01 A2.0,2.0 0 1 1 300.59,172.01 Z"/><path d="M298.16,154.47 A2.0,2.0 0 1 1 302.14,154.47 Z"/><path d="M299.71,149.60 A2.0,2.0 0 1 1 303.69,149.60 Z"/><path d="M301.26,152.07 A2.0,2.0 0 1 1 305.24,152.07 Z"/><path d="M302.81,151.67 A2.0,2.0 0 1 1 306.79,151.67 Z"/><path d="M304.36,158.08 A2.0,2.0 0 1 1 308.34,158.08 Z"/><path d="M305.91,152.43 A2.0,2.0 0 1 1 309.89,152.43 Z"/><path d="M307.46,159.31 A2.0,2.0 0 1 1 311.44,159.31 Z"/><path d="M309.01,153.74 A2.0,2.0 0 1 1 312.99,153.74 Z"/><path d="M310.56,156.19 A2.0,2.0 0 1 1 314.54,156.19 Z"/><path d="M312.11,159.91 A2.0,2.0 0 1 1 316.09,159.91 Z"/><path d="M313.66,158.69 A2.0,2.0 0 1 1 317.64,158.69 Z"/><path d="M315.21,161.19 A2.0,2.0 0 1 1 319.19,161.19 Z"/><path d="M316.76,160.66 A2.0,2.0 0 1 1 320.74,160.66 Z"/><path d="M318.31,160.71 A2.0,2.0 0 1 1 322.29,160.71 Z"/><path d="M319.86,162.18 A2.0,2.0 0 1 1 323.84,162.18 Z"/><path d="M321.41,161.58 A2.0,2.0 0 1 1 325.39,161.58 Z"/><path d="M322.96,168.17 A2.0,2.0 0 1 1 326.94,168.17 Z"/><path d="M324.51,163.29 A2.0,2.0 0 1 1 328.49,163.29 Z"/><path d="M326.06,167.97 A2.0,2.0 0 1 1 330.04,167.97 Z"/><path d="M327.61,156.27 A2.0,2.0 0 1 1 331.59,156.27 Z"/><path d="M329.16,163.03 A2.0,2.0 0 1 1 333.14,163.03 Z"/><path d="M330.71,163.97 A2.0,2.0 0 1 1 334.69,163.97 Z"/><path d="M332.26,160.93 A2.0,2.0 0 1 1 336.24,160.93 Z"/><path d="M333.81,163.33 A2.0,2.0 0 1 1 337.79,163.33 Z"/><path d="M335.36,160.12 A2.0,2.0 0 1 1 339.34,160.12 Z"/><path d="M336.91,154.16 A2.0,2.0 0 1 1 340.89,154.16 Z"/><path d="M338.46,150.09 A2.0,2.0 0 1 1 342.44,150.09 Z"/><path d="M340.01,147.32 A2.0,2.0 0 1 1 343.99,147.32 Z"/><path d="M341.56,128.47 A2.0,2.0 0 1 1 345.54,128.47 Z"/><path d="M343.11,113.04 A2.0,2.0 0 1 1 347.09,113.04 Z"/><path d="M344.66,93.69 A2.0,2.0 0 1 1 348.64,93.69 Z"/><path d="M346.21,78.43 A2.0,2.0 0 1 1 350.19,78.43 Z"/><path d="M347.76,61.54 A2.0,2.0 0 1 1 351.74,61.54 Z"/><path d="M349.31,57.53 A2.0,2.0 0 1 1 353.29,57.53 Z"/><path d="M350.86,65.39 A2.0,2.0 0 1 1 354.84,65.39 Z"/><path d="M352.41,69.98 A2.0,2.0 0 1 1 356.39,69.98 Z"/><path d="M353.96,81.99 A2.0,2.0 0 1 1 357.94,81.99 Z"/><path d="M355.51,97.82 A2.0,2.0 0 1 1 359.49,97.82 Z"/><path d="M357.06,112.54 A2.0,2.0 0 1 1 361.04,112.54 Z"/><path d="M358.61,117.58 A2.0,2.0 0 1 1 362.59,117.58 Z"/><path d="M360.16,124.62 A2.0,2.0 0 1 1 364.14,124.62 Z"/><path d="M361.71,120.56 A2.0,2.0 0 1 1 365.69,120.56 Z"/><path d="M363.26,113.76 A2.0,2.0 0 1 1 367.24,113.76 Z"/><path d="M364.81,112.54 A2.0,2.0 0 1 1 368.79,112.54 Z"/><path d="M366.36,98.02 A2.0,2.0 0 1 1 370.34,98.02 Z"/><path d="M367.91,101.66 A2.0,2.0 0 1 1 371.89,101.66 Z"/><path d="M369.46,106.35 A2.0,2.0 0 1 1 373.44,106.35 Z"/><path d="M371.01,108.98 A2.0,2.0 0 1 1 374.99,108.98 Z"/><path d="M372.56,118.73 A2.0,2.0 0 1 1 376.54,118.73 Z"/><path d="M374.11,125.93 A2.0,2.0 0 1 1 378.09,125.93 Z"/><path d="M375.66,133.76 A2.0,2.0 0 1 1 379.64,133.76 Z"/><path d="M377.21,148.99 A2.0,2.0 0 1 1 381.19,148.99 Z"/><path d="M378.76,148.54 A2.0,2.0 0 1 1 382.74,148.54 Z"/><path d="M380.31,150.35 A2.0,2.0 0 1 1 384.29,150.35 Z"/><path d="M381.86,156.24 A2.0,2.0 0 1 1 385.84,156.24 Z"/><path d="M383.41,154.00 A2.0,2.0 0 1 1 387.39,154.00 Z"/><path d="M384.96,158.22 A2.0,2.0 0 1 1 388.94,158.22 Z"/><path d="M386.51,156.70 A2.0,2.0 0 1 1 390.49,156.70 Z"/><path d="M388.06,157.37 A2.0,2.0 0 1 1 392.04,157.37 Z"/><path d="M389.61,146.73 A2.0,2.0 0 1 1 393.59,146.73 Z"/><path d="M391.16,151.53 A2.0,2.0 0 1 1 395.14,151.53 Z"/><path d="M392.71,149.62 A2.0,2.0 0 1 1 396.69,149.62 Z"/><path d="M394.26,146.05 A2.0,2.0 0 1 1 398.24,146.05 Z"/><path d="M395.81,151.59 A2.0,2.0 0 1 1 399.79,151.59 Z"/><path d="M397.36,146.31 A2.0,2.0 0 1 1 401.34,146.31 Z"/><path d="M398.91,152.56 A2.0,2.0 0 1 1 402.89,152.56 Z"/><path d="M400.46,149.48 A2.0,2.0 0 1 1 404.44,149.48 Z"/><path d="M402.01,149.75 A2.0,2.0 0 1 1 405.99,149.75 Z"/><path d="M403.56,147.95 A2.0,2.0 0 1 1 407.54,147.95 Z"/><path d="M405.11,149.88 A2.0,2.0 0 1 1 409.09,149.88 Z"/><path d="M406.66,142.47 A2.0,2.0 0 1 1 410.64,142.47 Z"/><path d="M408.21,147.35 A2.0,2.0 0 1 1 412.19,147.35 Z"/><path d="M409.76,145.62 A2.0,2.0 0 1 1 413.74,145.62 Z"/><path d="M411.31,148.09 A2.0,2.0 0 1 1 415.29,148.09 Z"/><path d="M412.86,147.33 A2.0,2.0 0 1 1 416.84,147.33 Z"/><path d="M414.41,149.15 A2.0,2.0 0 1 1 418.39,149.15 Z"/><path d="M415.96,145.46 A2.0,2.0 0 1 1 419.94,145.46 Z"/><path d="M417.51,152.49 A2.0,2.0 0 1 1 421.49,152.49 Z"/><path d="M419.06,153.80 A2.0,2.0 0 1 1 423.04,153.80 Z"/><path d="M420.61,147.27 A2.0,2.0 0 1 1 424.59,147.27 Z"/><path d="M422.16,147.76 A2.0,2.0 0 1 1 426.14,147.76 Z"/><path d="M423.71,148.46 A2.0,2.0 0 1 1 427.69,148.46 Z"/><path d="M425.26,150.80 A2.0,2.0 0 1 1 429.24,150.80 Z"/><path d="M426.81,152.05 A2.0,2.0 0 1 1 430.79,152.05 Z"/><path d="M428.36,143.37 A2.0,2.0 0 1 1 432.34,143.37 Z"/><path d="M429.91,144.06 A2.0,2.0 0 1 1 433.89,144.06 Z"/><path d="M431.46,141.50 A2.0,2.0 0 1 1 435.44,141.50 Z"/><path d="M433.01,139.23 A2.0,2.0 0 1 1 436.99,139.23 Z"/><path d="M434.56,134.74 A2.0,2.0 0 1 1 438.54,134.74 Z"/><path d="M436.11,135.68 A2.0,2.0 0 1 1 440.09,135.68 Z"/><path d="M437.66,126.16 A2.0,2.0 0 1 1 441.64,126.16 Z"/><path d="M439.21,126.06 A2.0,2.0 0 1 1 443.19,126.06 Z"/><path d="M440.76,116.02 A2.0,2.0 0 1 1 444.74,116.02 Z"/><path d="M442.31,101.15 A2.0,2.0 0 1 1 446.29,101.15 Z"/><path d="M443.86,90.06 A2.0,2.0 0 1 1 447.84,90.06 Z"/><path d="M445.41,79.31 A2.0,2.0 0 1 1 449.39,79.31 Z"/><path d="M446.96,72.78 A2.0,2.0 0 1 1 450.94,72.78 Z"/><path d="M448.51,55.95 A2.0,2.0 0 1 1 452.49,55.95 Z"/><path d="M450.06,44.83 A2.0,2.0 0 1 1 454.04,44.83 Z"/><path d="M451.61,41.30 A2.0,2.0 0 1 1 455.59,41.30 Z"/><path d="M453.16,37.71 A2.0,2.0 0 1 1 457.14,37.71 Z"/><path d="M454.71,33.10 A2.0,2.0 0 1 1 458.69,33.10 Z"/><path d="M456.26,39.53 A2.0,2.0 0 1 1 460.24,39.53 Z"/><path d="M457.81,38.51 A2.0,2.0 0 1 1 461.79,38.51 Z"/><path d="M459.36,43.16 A2.0,2.0 0 1 1 463.34,43.16 Z"/><path d="M460.91,44.79 A2.0,2.0 0 1 1 464.89,44.79 Z"/><path d="M462.46,52.27 A2.0,2.0 0 1 1 466.44,52.27 Z"/><path d="M464.01,57.14 A2.0,2.0 0 1 1 467.99,57.14 Z"/><path d="M465.56,56.29 A2.0,2.0 0 1 1 469.54,56.29 Z"/><path d="M467.11,66.98 A2.0,2.0 0 1 1 471.09,66.98 Z"/><path d="M468.66,65.09 A2.0,2.0 0 1 1 472.64,65.09 Z"/><path d="M470.21,72.96 A2.0,2.0 0 1 1 474.19,72.96 Z"/><path d="M471.76,72.60 A2.0,2.0 0 1 1 475.74,72.60 Z"/><path d="M473.31,85.54 A2.0,2.0 0 1 1 477.29,85.54 Z"/><path d="M474.86,85.70 A2.0,2.0 0 1 1 478.84,85.70 Z"/><path d="M476.41,92.44 A2.0,2.0 0 1 1 480.39,92.44 Z"/><path d="M477.96,98.64 A2.0,2.0 0 1 1 481.94,98.64 Z"/><path d="M479.51,99.36 A2.0,2.0 0 1 1 483.49,99.36 Z"/><path d="M481.06,103.62 A2.0,2.0 0 1 1 485.04,103.62 Z"/><path d="M482.61,115.29 A2.0,2.0 0 1 1 486.59,115.29 Z"/><path d="M484.16,124.60 A2.0,2.0 0 1 1 488.14,124.60 Z"/><path d="M485.71,127.93 A2.0,2.0 0 1 1 489.69,127.93 Z"/><path d="M487.26,133.56 A2.0,2.0 0 1 1 491.24,133.56 Z"/><path d="M488.81,136.71 A2.0,2.0 0 1 1 492.79,136.71 Z"/><path d="M490.36,132.31 A2.0,2.0 0 1 1 494.34,132.31 Z"/><path d="M491.91,138.19 A2.0,2.0 0 1 1 495.89,138.19 Z"/><path d="M493.46,143.26 A2.0,2.0 0 1 1 497.44,143.26 Z"/><path d="M495.01,136.89 A2.0,2.0 0 1 1 498.99,136.89 Z"/><path d="M496.56,132.19 A2.0,2.0 0 1 1 500.54,132.19 Z"/><path d="M498.11,135.72 A2.0,2.0 0 1 1 502.09,135.72 Z"/><path d="M499.66,135.28 A2.0,2.0 0 1 1 503.64,135.28 Z"/><path d="M501.21,139.65 A2.0,2.0 0 1 1 505.19,139.65 Z"/><path d="M502.76,138.25 A2.0,2.0 0 1 1 506.74,138.25 Z"/><path d="M504.31,140.18 A2.0,2.0 0 1 1 508.29,140.18 Z"/><path d="M505.86,133.04 A2.0,2.0 0 1 1 509.84,133.04 Z"/><path d="M507.41,141.06 A2.0,2.0 0 1 1 511.39,141.06 Z"/><path d="M508.96,146.46 A2.0,2.0 0 1 1 512.94,146.46 Z"/><path d="M510.51,149.19 A2.0,2.0 0 1 1 514.49,149.19 Z"/><path d="M512.06,144.05 A2.0,2.0 0 1 1 516.04,144.05 Z"/><path d="M513.61,150.36 A2.0,2.0 0 1 1 517.59,150.36 Z"/><path d="M515.16,142.64 A2.0,2.0 0 1 1 519.14,142.64 Z"/><path d="M516.71,145.71 A2.0,2.0 0 1 1 520.69,145.71 Z"/><path d="M518.26,139.38 A2.0,2.0 0 1 1 522.24,139.38 Z"/><path d="M519.81,135.33 A2.0,2.0 0 1 1 523.79,135.33 Z"/><path d="M521.36,140.74 A2.0,2.0 0 1 1 525.34,140.74 Z"/><path d="M522.91,142.14 A2.0,2.0 0 1 1 526.89,142.14 Z"/><path d="M524.46,143.62 A2.0,2.0 0 1 1 528.44,143.62 Z"/><path d="M526.01,140.73 A2.0,2.0 0 1 1 529.99,140.73 Z"/><path d="M527.56,140.79 A2.0,2.0 0 1 1 531.54,140.79 Z"/><path d="M529.11,135.89 A2.0,2.0 0 1 1 533.09,135.89 Z"/><path d="M530.66,138.71 A2.0,2.0 0 1 1 534.64,138.71 Z"/><path d="M532.21,141.26 A2.0,2.0 0 1 1 536.19,141.26 Z"/></g>
<path d="M295.00,157.80 L295.50,157.80 L296.00,157.80 L296.50,157.80 L297.00,157.80 L297.50,157.80 L298.00,157.80 L298.50,157.80 L299.00,157.80 L299.50,157.80 L300.00,157.80 L300.50,157.80 L301.00,157.80 L301.50,157.80 L302.00,157.80 L302.50,157.80 L303.00,157.80 L303.50,157.80 L304.00,157.80 L304.50,157.79 L305.00,157.79 L305.50,157.79 L306.00,157.79 L306.50,157.79 L307.00,157.79 L307.50,157.79 L308.00,157.79 L308.50,157.79 L309.00,157.79 L309.50,157.79 L310.00,157.79 L310.50,157.79 L311.00,157.79 L311.50,157.78 L312.00,157.78 L312.50,157.78 L313.00,157.78 L313.50,157.78 L314.00,157.78 L314.50,157.78 L315.00,157.78 L315.50,157.78 L316.00,157.77 L316.50,157.77 L317.00,157.77 L317.50,157.77 L318.00,157.77 L318.50,157.77 L319.00,157.77 L319.50,157.77 L320.00,157.76 L320.50,157.76 L321.00,157.76 L321.50,157.76 L322.00,157.76 L322.50,157.76 L323.00,157.75 L323.50,157.75 L324.00,157.75 L324.50,157.75 L325.00,157.75 L325.50,157.74 L326.00,157.74 L326.50,157.74 L327.00,157.74 L327.50,157.74 L328.00,157.73 L328.50,157.73 L329.00,157.73 L329.50,157.73 L330.00,157.73 L330.50,157.72 L331.00,157.72 L331.50,157.72 L332.00,157.72 L332.50,157.71 L333.00,157.71 L333.50,157.71 L334.00,157.71 L334.50,157.70 L335.00,157.70 L335.50,157.69 L336.00,157.68 L336.50,157.67 L337.00,157.65 L337.50,157.62 L338.00,157.59 L338.50,157.56 L339.00,157.52 L339.50,157.47 L340.00,157.43 L340.50,157.38 L341.00,157.33 L341.50,157.27 L342.00,157.22 L342.50,157.16 L343.00,157.10 L343.50,157.04 L344.00,156.97 L344.50,156.91 L345.00,156.84 L345.50,156.78 L346.00,156.71 L346.50,156.64 L347.00,156.58 L347.50,156.51 L348.00,156.45 L348.50,156.38 L349.00,156.32 L349.50,156.26 L350.00,156.20 L350.50,156.14 L351.00,156.08 L351.50,156.03 L352.00,155.98 L352.50,155.93 L353.00,155.88 L353.50,155.82 L354.00,155.77 L354.50,155.71 L355.00,155.66 L355.50,155.60 L356.00,155.54 L356.50,155.48 L357.00,155.43 L357.50,155.37 L358.00,155.31 L358.50,155.25 L359.00,155.19 L359.50,155.14 L360.00,155.08 L360.50,155.02 L361.00,154.97 L361.50,154.91 L362.00,154.86 L362.50,154.80 L363.00,154.75 L363.50,154.70 L364.00,154.65 L364.50,154.60 L365.00,154.56 L365.50,154.51 L366.00,154.47 L366.50,154.43 L367.00,154.39 L367.50,154.35 L368.00,154.31 L368.50,154.28 L369.00,154.25 L369.50,154.22 L370.00,154.20 L370.50,154.18 L371.00,154.16 L371.50,154.13 L372.00,154.11 L372.50,154.09 L373.00,154.08 L373.50,154.06 L374.00,154.04 L374.50,154.02 L375.00,154.01 L375.50,153.99 L376.00,153.98 L376.50,153.96 L377.00,153.95 L377.50,153.93 L378.00,153.92 L378.50,153.91 L379.00,153.89 L379.50,153.88 L380.00,153.87 L380.50,153.86 L381.00,153.84 L381.50,153.83 L382.00,153.82 L382.50,153.81 L383.00,153.80 L383.50,153.78 L384.00,153.77 L384.50,153.76 L385.00,153.75 L385.50,153.73 L386.00,153.72 L386.50,153.71 L387.00,153.69 L387.50,153.68 L388.00,153.66 L388.50,153.65 L389.00,153.63 L389.50,153.62 L390.00,153.60 L390.50,153.58 L391.00,153.57 L391.50,153.55 L392.00,153.53 L392.50,153.52 L393.00,153.50 L393.50,153.48 L394.00,153.47 L394.50,153.45 L395.00,153.43 L395.50,153.42 L396.00,153.40 L396.50,153.39 L397.00,153.37 L397.50,153.35 L398.00,153.34 L398.50,153.32 L399.00,153.30 L399.50,153.29 L400.00,153.27 L400.50,153.26 L401.00,153.24 L401.50,153.22 L402.00,153.21 L402.50,153.19 L403.00,153.18 L403.50,153.16 L404.00,153.14 L404.50,153.13 L405.00,153.11 L405.50,153.10 L406.00,153.08 L406.50,153.06 L407.00,153.05 L407.50,153.03 L408.00,153.01 L408.50,153.00 L409.00,152.98 L409.50,152.96 L410.00,152.94 L410.50,152.93 L411.00,152.91 L411.50,152.89 L412.00,152.87 L412.50,152.86 L413.00,152.84 L413.50,152.82 L414.00,152.80 L414.50,152.78 L415.00,152.77 L415.50,152.75 L416.00,152.73 L416.50,152.71 L417.00,152.69 L417.50,152.67 L418.00,152.65 L418.50,152.63 L419.00,152.61 L419.50,152.59 L420.00,152.57 L420.50,152.55 L421.00,152.53 L421.50,152.51 L422.00,152.49 L422.50,152.46 L423.00,152.44 L423.50,152.42 L424.00,152.40 L424.50,152.37 L425.00,152.35 L425.50,152.33 L426.00,152.30 L426.50,152.28 L427.00,152.26 L427.50,152.23 L428.00,152.21 L428.50,152.18 L429.00,152.16 L429.50,152.13 L430.00,152.10 L430.50,152.08 L431.00,152.05 L431.50,152.02 L432.00,152.00 L432.50,151.97 L433.00,151.94 L433.50,151.91 L434.00,151.88 L434.50,151.85 L435.00,151.82 L435.50,151.79 L436.00,151.76 L436.50,151.73 L437.00,151.70 L437.50,151.67 L438.00,151.63 L438.50,151.60 L439.00,151.57 L439.50,151.53 L440.00,151.50 L440.50,151.46 L441.00,151.43 L441.50,151.38 L442.00,151.34 L442.50,151.29 L443.00,151.25 L443.50,151.19 L444.00,151.14 L444.50,151.09 L445.00,151.03 L445.50,150.97 L446.00,150.91 L446.50,150.85 L447.00,150.78 L447.50,150.72 L448.00,150.65 L448.50,150.58 L449.00,150.52 L449.50,150.45 L450.00,150.38 L450.50,150.30 L451.00,150.23 L451.50,150.16 L452.00,150.09 L452.50,150.01 L453.00,149.94 L453.50,149.87 L454.00,149.79 L454.50,149.72 L455.00,149.65 L455.50,149.57 L456.00,149.50 L456.50,149.43 L457.00,149.35 L457.50,149.27 L458.00,149.18 L458.50,149.09 L459.00,149.00 L459.50,148.91 L460.00,148.82 L460.50,148.72 L461.00,148.62 L461.50,148.52 L462.00,148.42 L462.50,148.31 L463.00,148.21 L463.50,148.11 L464.00,148.00 L464.50,147.90 L465.00,147.79 L465.50,147.69 L466.00,147.59 L466.50,147.48 L467.00,147.38 L467.50,147.28 L468.00,147.18 L468.50,147.08 L469.00,146.99 L469.50,146.90 L470.00,146.81 L470.50,146.72 L471.00,146.63 L471.50,146.55 L472.00,146.47 L472.50,146.40 L473.00,146.33 L473.50,146.26 L474.00,146.20 L474.50,146.14 L475.00,146.09 L475.50,146.04 L476.00,146.00 L476.50,145.96 L477.00,145.92 L477.50,145.88 L478.00,145.84 L478.50,145.81 L479.00,145.77 L479.50,145.73 L480.00,145.69 L480.50,145.66 L481.00,145.62 L481.50,145.59 L482.00,145.55 L482.50,145.52 L483.00,145.48 L483.50,145.45 L484.00,145.42 L484.50,145.39 L485.00,145.35 L485.50,145.32 L486.00,145.29 L486.50,145.26 L487.00,145.24 L487.50,145.21 L488.00,145.18 L488.50,145.15 L489.00,145.13 L489.50,145.10 L490.00,145.08 L490.50,145.06 L491.00,145.03 L491.50,145.01 L492.00,144.99 L492.50,144.97 L493.00,144.95 L493.50,144.93 L494.00,144.92 L494.50,144.90 L495.00,144.89 L495.50,144.87 L496.00,144.86 L496.50,144.85 L497.00,144.84 L497.50,144.83 L498.00,144.82 L498.50,144.81 L499.00,144.81 L499.50,144.80 L500.00,144.80 L500.50,144.80 L501.00,144.79 L501.50,144.79 L502.00,144.79 L502.50,144.79 L503.00,144.78 L503.50,144.78 L504.00,144.78 L504.50,144.78 L505.00,144.77 L505.50,144.77 L506.00,144.77 L506.50,144.77 L507.00,144.76 L507.50,144.76 L508.00,144.76 L508.50,144.76 L509.00,144.76 L509.50,144.75 L510.00,144.75 L510.50,144.75 L511.00,144.75 L511.50,144.75 L512.00,144.74 L512.50,144.74 L513.00,144.74 L513.50,144.74 L514.00,144.74 L514.50,144.73 L515.00,144.73 L515.50,144.73 L516.00,144.73 L516.50,144.73 L517.00,144.73 L517.50,144.72 L518.00,144.72 L518.50,144.72 L519.00,144.72 L519.50,144.72 L520.00,144.72 L520.50,144.72 L521.00,144.72 L521.50,144.71 L522.00,144.71 L522.50,144.71 L523.00,144.71 L523.50,144.71 L524.00,144.71 L524.50,144.71 L525.00,144.71 L525.50,144.71 L526.00,144.71 L526.50,144.71 L527.00,144.71 L527.50,144.70 L528.00,144.70 L528.50,144.70 L529.00,144.70 L529.50,144.70 L530.00,144.70 L530.50,144.70 L531.00,144.70 L531.50,144.70 L532.00,144.70 L532.50,144.70 L533.00,144.70 L533.50,144.70 L534.00,144.70 L534.50,144.70" fill="none" stroke="#b4b4b4" stroke-width="1.5" stroke-linejoin="round" stroke-linecap="round" />
<path d="M330.00,157.70 L330.50,157.69 L331.00,157.67 L331.50,157.64 L332.00,157.61 L332.50,157.57 L333.00,157.51 L333.50,157.42 L334.00,157.32 L334.50,157.17 L335.00,156.99 L335.50,156.74 L336.00,156.42 L336.50,156.02 L337.00,155.50 L337.50,154.85 L338.00,154.05 L338.50,153.07 L339.00,151.88 L339.50,150.46 L340.00,148.77 L340.50,146.79 L341.00,144.48 L341.50,141.83 L342.00,138.81 L342.50,135.41 L343.00,131.62 L343.50,127.46 L344.00,122.93 L344.50,118.07 L345.00,112.92 L345.50,107.53 L346.00,101.97 L346.50,96.33 L347.00,90.71 L347.50,85.19 L348.00,79.90 L348.50,74.94 L349.00,70.42 L349.50,66.45 L350.00,63.12 L350.50,60.50 L351.00,58.68 L351.50,57.69 L352.00,57.55 L352.50,58.27 L353.00,59.82 L353.50,62.17 L354.00,65.25 L354.50,68.99 L355.00,73.29 L355.50,78.05 L356.00,83.16 L356.50,88.51 L357.00,94.00 L357.50,99.52 L358.00,104.97 L358.50,110.28 L359.00,115.36 L359.50,120.16 L360.00,124.64 L360.50,128.76 L361.00,132.50 L361.50,135.87 L362.00,138.85 L362.50,141.47 L363.00,143.74 L363.50,145.68 L364.00,147.33 L364.50,148.71 L365.00,149.86 L365.50,150.80 L366.00,151.56 L366.50,152.16 L367.00,152.64 L367.50,153.02 L368.00,153.31 L368.50,153.53 L369.00,153.69" fill="none" stroke="#008000" stroke-width="1.7" stroke-linejoin="round" stroke-linecap="round" />
<path d="M354.00,154.76 L354.50,154.42 L355.00,154.02 L355.50,153.54 L356.00,152.97 L356.50,152.30 L357.00,151.51 L357.50,150.59 L358.00,149.54 L358.50,148.32 L359.00,146.95 L359.50,145.40 L360.00,143.67 L360.50,141.76 L361.00,139.67 L361.50,137.42 L362.00,135.00 L362.50,132.45 L363.00,129.79 L363.50,127.04 L364.00,124.24 L364.50,121.44 L365.00,118.67 L365.50,115.99 L366.00,113.45 L366.50,111.09 L367.00,108.97 L367.50,107.13 L368.00,105.61 L368.50,104.44 L369.00,103.65 L369.50,103.26 L370.00,103.27 L370.50,103.69 L371.00,104.51 L371.50,105.70 L372.00,107.23 L372.50,109.08 L373.00,111.19 L373.50,113.53 L374.00,116.04 L374.50,118.68 L375.00,121.39 L375.50,124.13 L376.00,126.86 L376.50,129.53 L377.00,132.11 L377.50,134.56 L378.00,136.88 L378.50,139.03 L379.00,141.02 L379.50,142.82 L380.00,144.44 L380.50,145.89 L381.00,147.16 L381.50,148.27 L382.00,149.23 L382.50,150.05 L383.00,150.74 L383.50,151.32 L384.00,151.80 L384.50,152.20 L385.00,152.52 L385.50,152.77 L386.00,152.98 L386.50,153.14 L387.00,153.26 L387.50,153.35 L388.00,153.42 L388.50,153.46 L389.00,153.50 L389.50,153.52 L390.00,153.53 L390.50,153.53 L391.00,153.53 L391.50,153.52 L392.00,153.51" fill="none" stroke="#008000" stroke-width="1.7" stroke-linejoin="round" stroke-linecap="round" />
<path d="M425.00,152.07 L425.50,151.98 L426.00,151.89 L426.50,151.78 L427.00,151.66 L427.50,151.51 L428.00,151.35 L428.50,151.17 L429.00,150.95 L429.50,150.71 L430.00,150.44 L430.50,150.12 L431.00,149.76 L431.50,149.36 L432.00,148.90 L432.50,148.38 L433.00,147.79 L433.50,147.14 L434.00,146.40 L434.50,145.58 L435.00,144.67 L435.50,143.66 L436.00,142.54 L436.50,141.31 L437.00,139.95 L437.50,138.47 L438.00,136.86 L438.50,135.11 L439.00,133.21 L439.50,131.16 L440.00,128.97 L440.50,126.62 L441.00,124.11 L441.50,121.45 L442.00,118.63 L442.50,115.67 L443.00,112.56 L443.50,109.32 L444.00,105.95 L444.50,102.47 L445.00,98.89 L445.50,95.22 L446.00,91.48 L446.50,87.70 L447.00,83.89 L447.50,80.07 L448.00,76.27 L448.50,72.51 L449.00,68.82 L449.50,65.22 L450.00,61.75 L450.50,58.42 L451.00,55.26 L451.50,52.30 L452.00,49.57 L452.50,47.08 L453.00,44.86 L453.50,42.92 L454.00,41.29 L454.50,39.97 L455.00,38.98 L455.50,38.32 L456.00,38.01 L456.50,38.03 L457.00,38.35 L457.50,38.99 L458.00,39.92 L458.50,41.15 L459.00,42.66 L459.50,44.43 L460.00,46.46 L460.50,48.72 L461.00,51.21 L461.50,53.89 L462.00,56.75 L462.50,59.76 L463.00,62.91 L463.50,66.17 L464.00,69.52 L464.50,72.93 L465.00,76.39 L465.50,79.86 L466.00,83.34 L466.50,86.81 L467.00,90.23 L467.50,93.61 L468.00,96.91 L468.50,100.14 L469.00,103.27 L469.50,106.29 L470.00,109.20 L470.50,111.99 L471.00,114.66 L471.50,117.19 L472.00,119.58 L472.50,121.84 L473.00,123.97 L473.50,125.96 L474.00,127.82 L474.50,129.54 L475.00,131.14 L475.50,132.62 L476.00,133.98 L476.50,135.23 L477.00,136.37 L477.50,137.40 L478.00,138.34 L478.50,139.18 L479.00,139.93 L479.50,140.61 L480.00,141.21 L480.50,141.74 L481.00,142.21 L481.50,142.63 L482.00,142.99 L482.50,143.31 L483.00,143.58 L483.50,143.82 L484.00,144.02 L484.50,144.19 L485.00,144.34" fill="none" stroke="#8000ff" stroke-width="1.7" stroke-linejoin="round" stroke-linecap="round" />
<path d="M447.00,150.67 L447.50,150.58 L448.00,150.48 L448.50,150.38 L449.00,150.26 L449.50,150.14 L450.00,150.00 L450.50,149.85 L451.00,149.68 L451.50,149.50 L452.00,149.30 L452.50,149.07 L453.00,148.82 L453.50,148.55 L454.00,148.24 L454.50,147.89 L455.00,147.51 L455.50,147.08 L456.00,146.61 L456.50,146.08 L457.00,145.49 L457.50,144.84 L458.00,144.12 L458.50,143.33 L459.00,142.46 L459.50,141.51 L460.00,140.48 L460.50,139.36 L461.00,138.15 L461.50,136.86 L462.00,135.48 L462.50,134.01 L463.00,132.46 L463.50,130.82 L464.00,129.10 L464.50,127.31 L465.00,125.46 L465.50,123.55 L466.00,121.59 L466.50,119.59 L467.00,117.57 L467.50,115.53 L468.00,113.50 L468.50,111.49 L469.00,109.52 L469.50,107.59 L470.00,105.73 L470.50,103.96 L471.00,102.28 L471.50,100.73 L472.00,99.30 L472.50,98.03 L473.00,96.91 L473.50,95.96 L474.00,95.19 L474.50,94.61 L475.00,94.23 L475.50,94.05 L476.00,94.06 L476.50,94.28 L477.00,94.68 L477.50,95.28 L478.00,96.05 L478.50,96.99 L479.00,98.10 L479.50,99.35 L480.00,100.74 L480.50,102.25 L481.00,103.86 L481.50,105.56 L482.00,107.34 L482.50,109.17 L483.00,111.04 L483.50,112.93 L484.00,114.83 L484.50,116.73 L485.00,118.60 L485.50,120.44 L486.00,122.24 L486.50,123.99 L487.00,125.67 L487.50,127.28 L488.00,128.82 L488.50,130.28 L489.00,131.65 L489.50,132.94 L490.00,134.15 L490.50,135.26 L491.00,136.30 L491.50,137.24 L492.00,138.11 L492.50,138.90 L493.00,139.62 L493.50,140.26 L494.00,140.84 L494.50,141.36 L495.00,141.82 L495.50,142.23 L496.00,142.59 L496.50,142.90 L497.00,143.18 L497.50,143.42 L498.00,143.63 L498.50,143.81 L499.00,143.96 L499.50,144.10 L500.00,144.21" fill="none" stroke="#8000ff" stroke-width="1.7" stroke-linejoin="round" stroke-linecap="round" />
<path d="M295.00,160.41 L295.50,161.14 L296.00,162.00 L296.50,162.86 L297.00,163.72 L297.50,164.58 L298.00,165.44 L298.50,166.30 L299.00,163.96 L299.50,161.62 L300.00,159.28 L300.50,156.94 L301.00,154.60 L301.50,152.27 L302.00,153.30 L302.50,155.17 L303.00,157.05 L303.50,157.80 L304.00,157.80 L304.50,157.79 L305.00,157.79 L305.50,157.79 L306.00,157.79 L306.50,157.79 L307.00,157.79 L307.50,157.79 L308.00,157.79 L308.50,157.79 L309.00,157.79 L309.50,157.79 L310.00,157.79 L310.50,157.79 L311.00,157.79 L311.50,157.78 L312.00,157.78 L312.50,157.78 L313.00,157.78 L313.50,157.78 L314.00,157.78 L314.50,157.78 L315.00,157.78 L315.50,157.78 L316.00,157.77 L316.50,157.77 L317.00,157.77 L317.50,157.77 L318.00,157.77 L318.50,157.77 L319.00,157.77 L319.50,157.77 L320.00,157.76 L320.50,157.76 L321.00,157.76 L321.50,157.76 L322.00,157.76 L322.50,157.76 L323.00,157.75 L323.50,157.75 L324.00,157.75 L324.50,157.75 L325.00,157.75 L325.50,157.74 L326.00,157.74 L326.50,157.74 L327.00,157.74 L327.50,157.73 L328.00,157.73 L328.50,157.72 L329.00,157.72 L329.50,157.71 L330.00,157.70 L330.50,157.69 L331.00,157.67 L331.50,157.64 L332.00,157.61 L332.50,157.57 L333.00,157.51 L333.50,157.42 L334.00,157.32 L334.50,157.17 L335.00,156.99 L335.50,156.74 L336.00,156.42 L336.50,156.02 L337.00,155.50 L337.50,154.85 L338.00,154.05 L338.50,153.07 L339.00,151.88 L339.50,150.46 L340.00,148.77 L340.50,146.79 L341.00,144.48 L341.50,141.83 L342.00,138.81 L342.50,135.41 L343.00,131.62 L343.50,127.46 L344.00,122.93 L344.50,118.07 L345.00,112.91 L345.50,107.52 L346.00,101.96 L346.50,96.32 L347.00,90.69 L347.50,85.17 L348.00,79.87 L348.50,74.90 L349.00,70.37 L349.50,66.37 L350.00,63.01 L350.50,60.36 L351.00,58.48 L351.50,57.42 L352.00,57.20 L352.50,57.81 L353.00,59.22 L353.50,61.39 L354.00,64.24 L354.50,67.70 L355.00,71.65 L355.50,75.98 L356.00,80.58 L356.50,85.33 L357.00,90.08 L357.50,94.74 L358.00,99.20 L358.50,103.35 L359.00,107.11 L359.50,110.42 L360.00,113.23 L360.50,115.50 L361.00,117.21 L361.50,118.37 L362.00,119.00 L362.50,119.11 L363.00,118.77 L363.50,118.02 L364.00,116.92 L364.50,115.55 L365.00,113.97 L365.50,112.28 L366.00,110.54 L366.50,108.83 L367.00,107.23 L367.50,105.80 L368.00,104.60 L368.50,103.68 L369.00,103.09 L369.50,102.84 L370.00,102.97 L370.50,103.47 L371.00,104.35 L371.50,105.58 L372.00,107.15 L372.50,109.02 L373.00,111.15 L373.50,113.50 L374.00,116.02 L374.50,118.67 L375.00,121.38 L375.50,124.13 L376.00,126.85 L376.50,129.52 L377.00,132.10 L377.50,134.56 L378.00,136.88 L378.50,139.03 L379.00,141.02 L379.50,142.82 L380.00,144.44 L380.50,145.89 L381.00,147.16 L381.50,148.27 L382.00,149.23 L382.50,150.05 L383.00,150.74 L383.50,151.32 L384.00,151.80 L384.50,152.20 L385.00,152.52 L385.50,152.77 L386.00,152.98 L386.50,153.14 L387.00,153.26 L387.50,153.35 L388.00,153.42 L388.50,153.46 L389.00,153.50 L389.50,153.52 L390.00,153.53 L390.50,153.53 L391.00,153.53 L391.50,153.52 L392.00,153.51 L392.50,153.50 L393.00,153.49 L393.50,153.48 L394.00,153.46 L394.50,153.45 L395.00,153.43 L395.50,153.42 L396.00,153.40 L396.50,153.38 L397.00,153.37 L397.50,153.35 L398.00,153.34 L398.50,153.32 L399.00,153.30 L399.50,153.29 L400.00,153.27 L400.50,153.26 L401.00,153.24 L401.50,153.22 L402.00,153.21 L402.50,153.19 L403.00,153.18 L403.50,153.16 L404.00,153.14 L404.50,153.13 L405.00,153.11 L405.50,153.10 L406.00,153.08 L406.50,153.06 L407.00,153.05 L407.50,153.03 L408.00,153.01 L408.50,153.00 L409.00,152.98 L409.50,152.96 L410.00,152.94 L410.50,152.93 L411.00,152.91 L411.50,152.89 L412.00,152.87 L412.50,152.86 L413.00,152.84 L413.50,152.82 L414.00,152.80 L414.50,152.78 L415.00,152.76 L415.50,152.74 L416.00,152.72 L416.50,152.70 L417.00,152.68 L417.50,152.66 L418.00,152.64 L418.50,152.61 L419.00,152.59 L419.50,152.56 L420.00,152.53 L420.50,152.50 L421.00,152.47 L421.50,152.44 L422.00,152.40 L422.50,152.36 L423.00,152.31 L423.50,152.26 L424.00,152.20 L424.50,152.14 L425.00,152.07 L425.50,151.98 L426.00,151.89 L426.50,151.78 L427.00,151.66 L427.50,151.51 L428.00,151.35 L428.50,151.17 L429.00,150.95 L429.50,150.71 L430.00,150.44 L430.50,150.12 L431.00,149.76 L431.50,149.36 L432.00,148.90 L432.50,148.38 L433.00,147.79 L433.50,147.14 L434.00,146.40 L434.50,145.58 L435.00,144.67 L435.50,143.66 L436.00,142.54 L436.50,141.30 L437.00,139.95 L437.50,138.47 L438.00,136.86 L438.50,135.10 L439.00,133.21 L439.50,131.16 L440.00,128.96 L440.50,126.61 L441.00,124.10 L441.50,121.44 L442.00,118.62 L442.50,115.66 L443.00,112.55 L443.50,109.30 L444.00,105.93 L444.50,102.44 L445.00,98.84 L445.50,95.16 L446.00,91.41 L446.50,87.61 L447.00,83.78 L447.50,79.93 L448.00,76.10 L448.50,72.30 L449.00,68.56 L449.50,64.91 L450.00,61.37 L450.50,57.96 L451.00,54.71 L451.50,51.65 L452.00,48.78 L452.50,46.14 L453.00,43.74 L453.50,41.60 L454.00,39.73 L454.50,38.14 L455.00,36.84 L455.50,35.83 L456.00,35.11 L456.50,34.68 L457.00,34.50 L457.50,34.56 L458.00,34.86 L458.50,35.38 L459.00,36.11 L459.50,37.03 L460.00,38.12 L460.50,39.37 L461.00,40.74 L461.50,42.23 L462.00,43.81 L462.50,45.46 L463.00,47.15 L463.50,48.88 L464.00,50.62 L464.50,52.34 L465.00,54.05 L465.50,55.72 L466.00,57.34 L466.50,58.91 L467.00,60.42 L467.50,61.86 L468.00,63.24 L468.50,64.55 L469.00,65.79 L469.50,66.99 L470.00,68.13 L470.50,69.23 L471.00,70.31 L471.50,71.36 L472.00,72.41 L472.50,73.47 L473.00,74.55 L473.50,75.66 L474.00,76.81 L474.50,78.01 L475.00,79.28 L475.50,80.63 L476.00,82.05 L476.50,83.55 L477.00,85.13 L477.50,86.80 L478.00,88.54 L478.50,90.37 L479.00,92.26 L479.50,94.23 L480.00,96.26 L480.50,98.33 L481.00,100.46 L481.50,102.61 L482.00,104.78 L482.50,106.96 L483.00,109.14 L483.50,111.30 L484.00,113.43 L484.50,115.53 L485.00,117.58 L485.50,119.58 L486.00,121.51 L486.50,123.37 L487.00,125.15 L487.50,126.85 L488.00,128.46 L488.50,129.98 L489.00,131.40 L489.50,132.73 L490.00,133.97 L490.50,135.12 L491.00,136.18 L491.50,137.15 L492.00,138.03 L492.50,138.84 L493.00,139.57 L493.50,140.22 L494.00,140.81 L494.50,141.33 L495.00,141.80 L495.50,142.21 L496.00,142.57 L496.50,142.89 L497.00,143.17 L497.50,143.41 L498.00,143.62 L498.50,143.80 L499.00,143.96 L499.50,144.09 L500.00,144.21 L500.50,144.30 L501.00,144.39 L501.50,144.46 L502.00,144.51 L502.50,144.56 L503.00,144.60 L503.50,144.63 L504.00,144.66 L504.50,144.68 L505.00,144.70 L505.50,144.71 L506.00,144.72 L506.50,144.73 L507.00,144.73 L507.50,144.74 L508.00,144.74 L508.50,144.74 L509.00,144.74 L509.50,144.74 L510.00,144.74 L510.50,144.74 L511.00,144.74 L511.50,144.74 L512.00,144.74 L512.50,144.74 L513.00,144.74 L513.50,144.74 L514.00,144.74 L514.50,144.73 L515.00,144.73 L515.50,144.73 L516.00,144.73 L516.50,144.73 L517.00,144.73 L517.50,144.72 L518.00,144.72 L518.50,144.72 L519.00,144.72 L519.50,144.72 L520.00,144.72 L520.50,144.72 L521.00,144.72 L521.50,144.71 L522.00,144.71 L522.50,144.71 L523.00,144.71 L523.50,144.71 L524.00,144.71 L524.50,144.71 L525.00,144.71 L525.50,144.71 L526.00,144.71 L526.50,144.71 L527.00,144.71 L527.50,144.70 L528.00,144.70 L528.50,144.70 L529.00,144.70 L529.50,144.70 L530.00,144.70 L530.50,144.70 L531.00,144.70 L531.50,144.70 L532.00,144.70 L532.50,144.70 L533.00,144.70 L533.50,144.70 L534.00,144.70 L534.50,144.70" fill="none" stroke="#ffff00" stroke-width="2.5" stroke-linejoin="round" stroke-linecap="round" />
</g>
<rect x="294.0" y="8.0" width="240.70000000000005" height="183.8" fill="none" stroke="#000" stroke-width="2"/>
<line x1="303.80" y1="191.8" x2="303.80" y2="193.9" stroke="#000" stroke-width="1.3"/>
<line x1="313.90" y1="191.8" x2="313.90" y2="193.9" stroke="#000" stroke-width="1.3"/>
<line x1="324.00" y1="191.8" x2="324.00" y2="195.70000000000002" stroke="#000" stroke-width="1.5"/>
<line x1="334.10" y1="191.8" x2="334.10" y2="193.9" stroke="#000" stroke-width="1.3"/>
<line x1="344.20" y1="191.8" x2="344.20" y2="193.9" stroke="#000" stroke-width="1.3"/>
<line x1="354.30" y1="191.8" x2="354.30" y2="193.9" stroke="#000" stroke-width="1.3"/>
<line x1="364.40" y1="191.8" x2="364.40" y2="193.9" stroke="#000" stroke-width="1.3"/>
<line x1="374.50" y1="191.8" x2="374.50" y2="193.9" stroke="#000" stroke-width="1.3"/>
<line x1="384.60" y1="191.8" x2="384.60" y2="195.70000000000002" stroke="#000" stroke-width="1.5"/>
<line x1="394.70" y1="191.8" x2="394.70" y2="193.9" stroke="#000" stroke-width="1.3"/>
<line x1="404.80" y1="191.8" x2="404.80" y2="193.9" stroke="#000" stroke-width="1.3"/>
<line x1="414.90" y1="191.8" x2="414.90" y2="193.9" stroke="#000" stroke-width="1.3"/>
<line x1="425.00" y1="191.8" x2="425.00" y2="193.9" stroke="#000" stroke-width="1.3"/>
<line x1="435.10" y1="191.8" x2="435.10" y2="193.9" stroke="#000" stroke-width="1.3"/>
<line x1="445.20" y1="191.8" x2="445.20" y2="195.70000000000002" stroke="#000" stroke-width="1.5"/>
<line x1="455.30" y1="191.8" x2="455.30" y2="193.9" stroke="#000" stroke-width="1.3"/>
<line x1="465.40" y1="191.8" x2="465.40" y2="193.9" stroke="#000" stroke-width="1.3"/>
<line x1="475.50" y1="191.8" x2="475.50" y2="193.9" stroke="#000" stroke-width="1.3"/>
<line x1="485.60" y1="191.8" x2="485.60" y2="193.9" stroke="#000" stroke-width="1.3"/>
<line x1="495.70" y1="191.8" x2="495.70" y2="193.9" stroke="#000" stroke-width="1.3"/>
<line x1="505.80" y1="191.8" x2="505.80" y2="195.70000000000002" stroke="#000" stroke-width="1.5"/>
<line x1="515.90" y1="191.8" x2="515.90" y2="193.9" stroke="#000" stroke-width="1.3"/>
<line x1="526.00" y1="191.8" x2="526.00" y2="193.9" stroke="#000" stroke-width="1.3"/>
<text x="324.0" y="207.5" font-size="11" fill="#000" text-anchor="middle" >160</text>
<text x="384.6" y="207.5" font-size="11" fill="#000" text-anchor="middle" >164</text>
<text x="445.2" y="207.5" font-size="11" fill="#000" text-anchor="middle" >168</text>
<text x="505.8" y="207.5" font-size="11" fill="#000" text-anchor="middle" >172</text>
<clipPath id="cd"><rect x="295" y="217" width="238.70000000000005" height="182.3"/></clipPath>
<g clip-path="url(#cd)">
<path d="M294.42,386.15 L296.28,386.00 L298.14,386.56 L300.00,385.56 L301.86,385.76 L303.72,385.89 L305.58,385.62 L307.44,385.83 L309.30,385.30 L311.16,385.98 L313.02,385.14 L314.88,385.54 L316.74,384.83 L318.60,385.03 L320.46,383.08 L322.32,382.28 L324.18,378.99 L326.04,374.06 L327.90,365.67 L329.76,351.18 L331.62,332.07 L333.48,308.21 L335.34,282.07 L337.20,256.09 L339.06,238.40 L340.92,230.76 L342.78,236.95 L344.64,254.26 L346.50,277.38 L348.36,299.88 L350.22,318.18 L352.08,329.18 L353.94,331.69 L355.80,326.37 L357.66,318.68 L359.52,309.48 L361.38,303.25 L363.24,302.43 L365.10,306.93 L366.96,316.86 L368.82,329.36 L370.68,342.93 L372.54,354.76 L374.40,363.90 L376.26,369.29 L378.12,373.71 L379.98,376.26 L381.84,377.94 L383.70,377.97 L385.56,378.02 L387.42,378.16 L389.28,378.43 L391.14,378.42 L393.00,379.09 L394.86,379.25 L396.72,379.17 L398.58,379.41 L400.44,378.80 L402.30,379.17 L404.16,378.90 L406.02,379.10 L407.88,379.60 L409.74,379.12 L411.60,378.41 L413.46,379.07 L415.32,378.91 L417.18,378.60 L419.04,378.89 L420.90,379.60 L422.76,379.88 L424.62,379.00 L426.48,379.57 L428.34,379.60 L430.20,378.61 L432.06,378.99 L433.92,378.89 L435.78,378.85 L437.64,377.99 L439.50,378.31 L441.36,378.65 L443.22,378.47 L445.08,378.39 L446.94,377.17 L448.80,377.68 L450.66,376.79 L452.52,375.56 L454.38,376.00 L456.24,375.15 L458.10,375.13 L459.96,374.55 L461.82,374.81 L463.68,374.22 L465.54,373.87 L467.40,374.31 L469.26,374.02 L471.12,373.82 L472.98,374.61 L474.84,374.10 L476.70,374.21 L478.56,374.47 L480.42,374.34 L482.28,374.95 L484.14,376.15 L486.00,375.27 L487.86,375.85 L489.72,375.59 L491.58,375.95 L493.44,376.93 L495.30,376.78 L497.16,376.26 L499.02,376.56 L500.88,376.26 L502.74,376.30 L504.60,376.25 L506.46,376.26 L508.32,376.75 L510.18,376.85 L512.04,376.80 L513.90,376.52 L515.76,376.03 L517.62,376.53 L519.48,376.17 L521.34,376.88 L523.20,376.73 L525.06,376.80 L526.92,376.35 L528.78,375.75 L530.64,376.85 L532.50,376.96" fill="none" stroke="#000" stroke-width="1.0" stroke-linejoin="round" stroke-linecap="round" />
<g fill="#fff" stroke="#000" stroke-width="1.2"><circle cx="294.42" cy="386.15" r="1.9"/><circle cx="296.28" cy="386.00" r="1.9"/><circle cx="298.14" cy="386.56" r="1.9"/><circle cx="300.00" cy="385.56" r="1.9"/><circle cx="301.86" cy="385.76" r="1.9"/><circle cx="303.72" cy="385.89" r="1.9"/><circle cx="305.58" cy="385.62" r="1.9"/><circle cx="307.44" cy="385.83" r="1.9"/><circle cx="309.30" cy="385.30" r="1.9"/><circle cx="311.16" cy="385.98" r="1.9"/><circle cx="313.02" cy="385.14" r="1.9"/><circle cx="314.88" cy="385.54" r="1.9"/><circle cx="316.74" cy="384.83" r="1.9"/><circle cx="318.60" cy="385.03" r="1.9"/><circle cx="320.46" cy="383.08" r="1.9"/><circle cx="322.32" cy="382.28" r="1.9"/><circle cx="324.18" cy="378.99" r="1.9"/><circle cx="326.04" cy="374.06" r="1.9"/><circle cx="327.90" cy="365.67" r="1.9"/><circle cx="329.76" cy="351.18" r="1.9"/><circle cx="331.62" cy="332.07" r="1.9"/><circle cx="333.48" cy="308.21" r="1.9"/><circle cx="335.34" cy="282.07" r="1.9"/><circle cx="337.20" cy="256.09" r="1.9"/><circle cx="339.06" cy="238.40" r="1.9"/><circle cx="340.92" cy="230.76" r="1.9"/><circle cx="342.78" cy="236.95" r="1.9"/><circle cx="344.64" cy="254.26" r="1.9"/><circle cx="346.50" cy="277.38" r="1.9"/><circle cx="348.36" cy="299.88" r="1.9"/><circle cx="350.22" cy="318.18" r="1.9"/><circle cx="352.08" cy="329.18" r="1.9"/><circle cx="353.94" cy="331.69" r="1.9"/><circle cx="355.80" cy="326.37" r="1.9"/><circle cx="357.66" cy="318.68" r="1.9"/><circle cx="359.52" cy="309.48" r="1.9"/><circle cx="361.38" cy="303.25" r="1.9"/><circle cx="363.24" cy="302.43" r="1.9"/><circle cx="365.10" cy="306.93" r="1.9"/><circle cx="366.96" cy="316.86" r="1.9"/><circle cx="368.82" cy="329.36" r="1.9"/><circle cx="370.68" cy="342.93" r="1.9"/><circle cx="372.54" cy="354.76" r="1.9"/><circle cx="374.40" cy="363.90" r="1.9"/><circle cx="376.26" cy="369.29" r="1.9"/><circle cx="378.12" cy="373.71" r="1.9"/><circle cx="379.98" cy="376.26" r="1.9"/><circle cx="381.84" cy="377.94" r="1.9"/><circle cx="383.70" cy="377.97" r="1.9"/><circle cx="385.56" cy="378.02" r="1.9"/><circle cx="387.42" cy="378.16" r="1.9"/><circle cx="389.28" cy="378.43" r="1.9"/><circle cx="391.14" cy="378.42" r="1.9"/><circle cx="393.00" cy="379.09" r="1.9"/><circle cx="394.86" cy="379.25" r="1.9"/><circle cx="396.72" cy="379.17" r="1.9"/><circle cx="398.58" cy="379.41" r="1.9"/><circle cx="400.44" cy="378.80" r="1.9"/><circle cx="402.30" cy="379.17" r="1.9"/><circle cx="404.16" cy="378.90" r="1.9"/><circle cx="406.02" cy="379.10" r="1.9"/><circle cx="407.88" cy="379.60" r="1.9"/><circle cx="409.74" cy="379.12" r="1.9"/><circle cx="411.60" cy="378.41" r="1.9"/><circle cx="413.46" cy="379.07" r="1.9"/><circle cx="415.32" cy="378.91" r="1.9"/><circle cx="417.18" cy="378.60" r="1.9"/><circle cx="419.04" cy="378.89" r="1.9"/><circle cx="420.90" cy="379.60" r="1.9"/><circle cx="422.76" cy="379.88" r="1.9"/><circle cx="424.62" cy="379.00" r="1.9"/><circle cx="426.48" cy="379.57" r="1.9"/><circle cx="428.34" cy="379.60" r="1.9"/><circle cx="430.20" cy="378.61" r="1.9"/><circle cx="432.06" cy="378.99" r="1.9"/><circle cx="433.92" cy="378.89" r="1.9"/><circle cx="435.78" cy="378.85" r="1.9"/><circle cx="437.64" cy="377.99" r="1.9"/><circle cx="439.50" cy="378.31" r="1.9"/><circle cx="441.36" cy="378.65" r="1.9"/><circle cx="443.22" cy="378.47" r="1.9"/><circle cx="445.08" cy="378.39" r="1.9"/><circle cx="446.94" cy="377.17" r="1.9"/><circle cx="448.80" cy="377.68" r="1.9"/><circle cx="450.66" cy="376.79" r="1.9"/><circle cx="452.52" cy="375.56" r="1.9"/><circle cx="454.38" cy="376.00" r="1.9"/><circle cx="456.24" cy="375.15" r="1.9"/><circle cx="458.10" cy="375.13" r="1.9"/><circle cx="459.96" cy="374.55" r="1.9"/><circle cx="461.82" cy="374.81" r="1.9"/><circle cx="463.68" cy="374.22" r="1.9"/><circle cx="465.54" cy="373.87" r="1.9"/><circle cx="467.40" cy="374.31" r="1.9"/><circle cx="469.26" cy="374.02" r="1.9"/><circle cx="471.12" cy="373.82" r="1.9"/><circle cx="472.98" cy="374.61" r="1.9"/><circle cx="474.84" cy="374.10" r="1.9"/><circle cx="476.70" cy="374.21" r="1.9"/><circle cx="478.56" cy="374.47" r="1.9"/><circle cx="480.42" cy="374.34" r="1.9"/><circle cx="482.28" cy="374.95" r="1.9"/><circle cx="484.14" cy="376.15" r="1.9"/><circle cx="486.00" cy="375.27" r="1.9"/><circle cx="487.86" cy="375.85" r="1.9"/><circle cx="489.72" cy="375.59" r="1.9"/><circle cx="491.58" cy="375.95" r="1.9"/><circle cx="493.44" cy="376.93" r="1.9"/><circle cx="495.30" cy="376.78" r="1.9"/><circle cx="497.16" cy="376.26" r="1.9"/><circle cx="499.02" cy="376.56" r="1.9"/><circle cx="500.88" cy="376.26" r="1.9"/><circle cx="502.74" cy="376.30" r="1.9"/><circle cx="504.60" cy="376.25" r="1.9"/><circle cx="506.46" cy="376.26" r="1.9"/><circle cx="508.32" cy="376.75" r="1.9"/><circle cx="510.18" cy="376.85" r="1.9"/><circle cx="512.04" cy="376.80" r="1.9"/><circle cx="513.90" cy="376.52" r="1.9"/><circle cx="515.76" cy="376.03" r="1.9"/><circle cx="517.62" cy="376.53" r="1.9"/><circle cx="519.48" cy="376.17" r="1.9"/><circle cx="521.34" cy="376.88" r="1.9"/><circle cx="523.20" cy="376.73" r="1.9"/><circle cx="525.06" cy="376.80" r="1.9"/><circle cx="526.92" cy="376.35" r="1.9"/><circle cx="528.78" cy="375.75" r="1.9"/><circle cx="530.64" cy="376.85" r="1.9"/><circle cx="532.50" cy="376.96" r="1.9"/></g>
<g fill="#000"><path d="M292.52,386.05 A1.9,1.9 0 0 1 296.32,386.05 Z"/><path d="M294.38,385.90 A1.9,1.9 0 0 1 298.18,385.90 Z"/><path d="M296.24,386.46 A1.9,1.9 0 0 1 300.04,386.46 Z"/><path d="M298.10,385.46 A1.9,1.9 0 0 1 301.90,385.46 Z"/><path d="M299.96,385.66 A1.9,1.9 0 0 1 303.76,385.66 Z"/><path d="M301.82,385.79 A1.9,1.9 0 0 1 305.62,385.79 Z"/><path d="M303.68,385.52 A1.9,1.9 0 0 1 307.48,385.52 Z"/><path d="M305.54,385.73 A1.9,1.9 0 0 1 309.34,385.73 Z"/><path d="M307.40,385.20 A1.9,1.9 0 0 1 311.20,385.20 Z"/><path d="M309.26,385.88 A1.9,1.9 0 0 1 313.06,385.88 Z"/><path d="M311.12,385.04 A1.9,1.9 0 0 1 314.92,385.04 Z"/><path d="M312.98,385.44 A1.9,1.9 0 0 1 316.78,385.44 Z"/><path d="M314.84,384.73 A1.9,1.9 0 0 1 318.64,384.73 Z"/><path d="M316.70,384.93 A1.9,1.9 0 0 1 320.50,384.93 Z"/><path d="M318.56,382.98 A1.9,1.9 0 0 1 322.36,382.98 Z"/><path d="M320.42,382.18 A1.9,1.9 0 0 1 324.22,382.18 Z"/><path d="M322.28,378.89 A1.9,1.9 0 0 1 326.08,378.89 Z"/><path d="M324.14,373.96 A1.9,1.9 0 0 1 327.94,373.96 Z"/><path d="M326.00,365.57 A1.9,1.9 0 0 1 329.80,365.57 Z"/><path d="M327.86,351.08 A1.9,1.9 0 0 1 331.66,351.08 Z"/><path d="M329.72,331.97 A1.9,1.9 0 0 1 333.52,331.97 Z"/><path d="M331.58,308.11 A1.9,1.9 0 0 1 335.38,308.11 Z"/><path d="M333.44,281.97 A1.9,1.9 0 0 1 337.24,281.97 Z"/><path d="M335.30,255.99 A1.9,1.9 0 0 1 339.10,255.99 Z"/><path d="M337.16,238.30 A1.9,1.9 0 0 1 340.96,238.30 Z"/><path d="M339.02,230.66 A1.9,1.9 0 0 1 342.82,230.66 Z"/><path d="M340.88,236.85 A1.9,1.9 0 0 1 344.68,236.85 Z"/><path d="M342.74,254.16 A1.9,1.9 0 0 1 346.54,254.16 Z"/><path d="M344.60,277.28 A1.9,1.9 0 0 1 348.40,277.28 Z"/><path d="M346.46,299.78 A1.9,1.9 0 0 1 350.26,299.78 Z"/><path d="M348.32,318.08 A1.9,1.9 0 0 1 352.12,318.08 Z"/><path d="M350.18,329.08 A1.9,1.9 0 0 1 353.98,329.08 Z"/><path d="M352.04,331.59 A1.9,1.9 0 0 1 355.84,331.59 Z"/><path d="M353.90,326.27 A1.9,1.9 0 0 1 357.70,326.27 Z"/><path d="M355.76,318.58 A1.9,1.9 0 0 1 359.56,318.58 Z"/><path d="M357.62,309.38 A1.9,1.9 0 0 1 361.42,309.38 Z"/><path d="M359.48,303.15 A1.9,1.9 0 0 1 363.28,303.15 Z"/><path d="M361.34,302.33 A1.9,1.9 0 0 1 365.14,302.33 Z"/><path d="M363.20,306.83 A1.9,1.9 0 0 1 367.00,306.83 Z"/><path d="M365.06,316.76 A1.9,1.9 0 0 1 368.86,316.76 Z"/><path d="M366.92,329.26 A1.9,1.9 0 0 1 370.72,329.26 Z"/><path d="M368.78,342.83 A1.9,1.9 0 0 1 372.58,342.83 Z"/><path d="M370.64,354.66 A1.9,1.9 0 0 1 374.44,354.66 Z"/><path d="M372.50,363.80 A1.9,1.9 0 0 1 376.30,363.80 Z"/><path d="M374.36,369.19 A1.9,1.9 0 0 1 378.16,369.19 Z"/><path d="M376.22,373.61 A1.9,1.9 0 0 1 380.02,373.61 Z"/><path d="M378.08,376.16 A1.9,1.9 0 0 1 381.88,376.16 Z"/><path d="M379.94,377.84 A1.9,1.9 0 0 1 383.74,377.84 Z"/><path d="M381.80,377.87 A1.9,1.9 0 0 1 385.60,377.87 Z"/><path d="M383.66,377.92 A1.9,1.9 0 0 1 387.46,377.92 Z"/><path d="M385.52,378.06 A1.9,1.9 0 0 1 389.32,378.06 Z"/><path d="M387.38,378.33 A1.9,1.9 0 0 1 391.18,378.33 Z"/><path d="M389.24,378.32 A1.9,1.9 0 0 1 393.04,378.32 Z"/><path d="M391.10,378.99 A1.9,1.9 0 0 1 394.90,378.99 Z"/><path d="M392.96,379.15 A1.9,1.9 0 0 1 396.76,379.15 Z"/><path d="M394.82,379.07 A1.9,1.9 0 0 1 398.62,379.07 Z"/><path d="M396.68,379.31 A1.9,1.9 0 0 1 400.48,379.31 Z"/><path d="M398.54,378.70 A1.9,1.9 0 0 1 402.34,378.70 Z"/><path d="M400.40,379.07 A1.9,1.9 0 0 1 404.20,379.07 Z"/><path d="M402.26,378.80 A1.9,1.9 0 0 1 406.06,378.80 Z"/><path d="M404.12,379.00 A1.9,1.9 0 0 1 407.92,379.00 Z"/><path d="M405.98,379.50 A1.9,1.9 0 0 1 409.78,379.50 Z"/><path d="M407.84,379.02 A1.9,1.9 0 0 1 411.64,379.02 Z"/><path d="M409.70,378.31 A1.9,1.9 0 0 1 413.50,378.31 Z"/><path d="M411.56,378.97 A1.9,1.9 0 0 1 415.36,378.97 Z"/><path d="M413.42,378.81 A1.9,1.9 0 0 1 417.22,378.81 Z"/><path d="M415.28,378.50 A1.9,1.9 0 0 1 419.08,378.50 Z"/><path d="M417.14,378.79 A1.9,1.9 0 0 1 420.94,378.79 Z"/><path d="M419.00,379.50 A1.9,1.9 0 0 1 422.80,379.50 Z"/><path d="M420.86,379.78 A1.9,1.9 0 0 1 424.66,379.78 Z"/><path d="M422.72,378.90 A1.9,1.9 0 0 1 426.52,378.90 Z"/><path d="M424.58,379.47 A1.9,1.9 0 0 1 428.38,379.47 Z"/><path d="M426.44,379.50 A1.9,1.9 0 0 1 430.24,379.50 Z"/><path d="M428.30,378.51 A1.9,1.9 0 0 1 432.10,378.51 Z"/><path d="M430.16,378.89 A1.9,1.9 0 0 1 433.96,378.89 Z"/><path d="M432.02,378.79 A1.9,1.9 0 0 1 435.82,378.79 Z"/><path d="M433.88,378.75 A1.9,1.9 0 0 1 437.68,378.75 Z"/><path d="M435.74,377.89 A1.9,1.9 0 0 1 439.54,377.89 Z"/><path d="M437.60,378.21 A1.9,1.9 0 0 1 441.40,378.21 Z"/><path d="M439.46,378.55 A1.9,1.9 0 0 1 443.26,378.55 Z"/><path d="M441.32,378.37 A1.9,1.9 0 0 1 445.12,378.37 Z"/><path d="M443.18,378.29 A1.9,1.9 0 0 1 446.98,378.29 Z"/><path d="M445.04,377.07 A1.9,1.9 0 0 1 448.84,377.07 Z"/><path d="M446.90,377.58 A1.9,1.9 0 0 1 450.70,377.58 Z"/><path d="M448.76,376.69 A1.9,1.9 0 0 1 452.56,376.69 Z"/><path d="M450.62,375.46 A1.9,1.9 0 0 1 454.42,375.46 Z"/><path d="M452.48,375.90 A1.9,1.9 0 0 1 456.28,375.90 Z"/><path d="M454.34,375.05 A1.9,1.9 0 0 1 458.14,375.05 Z"/><path d="M456.20,375.03 A1.9,1.9 0 0 1 460.00,375.03 Z"/><path d="M458.06,374.45 A1.9,1.9 0 0 1 461.86,374.45 Z"/><path d="M459.92,374.71 A1.9,1.9 0 0 1 463.72,374.71 Z"/><path d="M461.78,374.12 A1.9,1.9 0 0 1 465.58,374.12 Z"/><path d="M463.64,373.77 A1.9,1.9 0 0 1 467.44,373.77 Z"/><path d="M465.50,374.21 A1.9,1.9 0 0 1 469.30,374.21 Z"/><path d="M467.36,373.92 A1.9,1.9 0 0 1 471.16,373.92 Z"/><path d="M469.22,373.72 A1.9,1.9 0 0 1 473.02,373.72 Z"/><path d="M471.08,374.51 A1.9,1.9 0 0 1 474.88,374.51 Z"/><path d="M472.94,374.00 A1.9,1.9 0 0 1 476.74,374.00 Z"/><path d="M474.80,374.11 A1.9,1.9 0 0 1 478.60,374.11 Z"/><path d="M476.66,374.37 A1.9,1.9 0 0 1 480.46,374.37 Z"/><path d="M478.52,374.24 A1.9,1.9 0 0 1 482.32,374.24 Z"/><path d="M480.38,374.85 A1.9,1.9 0 0 1 484.18,374.85 Z"/><path d="M482.24,376.05 A1.9,1.9 0 0 1 486.04,376.05 Z"/><path d="M484.10,375.17 A1.9,1.9 0 0 1 487.90,375.17 Z"/><path d="M485.96,375.75 A1.9,1.9 0 0 1 489.76,375.75 Z"/><path d="M487.82,375.49 A1.9,1.9 0 0 1 491.62,375.49 Z"/><path d="M489.68,375.85 A1.9,1.9 0 0 1 493.48,375.85 Z"/><path d="M491.54,376.83 A1.9,1.9 0 0 1 495.34,376.83 Z"/><path d="M493.40,376.68 A1.9,1.9 0 0 1 497.20,376.68 Z"/><path d="M495.26,376.16 A1.9,1.9 0 0 1 499.06,376.16 Z"/><path d="M497.12,376.46 A1.9,1.9 0 0 1 500.92,376.46 Z"/><path d="M498.98,376.16 A1.9,1.9 0 0 1 502.78,376.16 Z"/><path d="M500.84,376.20 A1.9,1.9 0 0 1 504.64,376.20 Z"/><path d="M502.70,376.15 A1.9,1.9 0 0 1 506.50,376.15 Z"/><path d="M504.56,376.16 A1.9,1.9 0 0 1 508.36,376.16 Z"/><path d="M506.42,376.65 A1.9,1.9 0 0 1 510.22,376.65 Z"/><path d="M508.28,376.75 A1.9,1.9 0 0 1 512.08,376.75 Z"/><path d="M510.14,376.70 A1.9,1.9 0 0 1 513.94,376.70 Z"/><path d="M512.00,376.42 A1.9,1.9 0 0 1 515.80,376.42 Z"/><path d="M513.86,375.93 A1.9,1.9 0 0 1 517.66,375.93 Z"/><path d="M515.72,376.43 A1.9,1.9 0 0 1 519.52,376.43 Z"/><path d="M517.58,376.07 A1.9,1.9 0 0 1 521.38,376.07 Z"/><path d="M519.44,376.78 A1.9,1.9 0 0 1 523.24,376.78 Z"/><path d="M521.30,376.63 A1.9,1.9 0 0 1 525.10,376.63 Z"/><path d="M523.16,376.70 A1.9,1.9 0 0 1 526.96,376.70 Z"/><path d="M525.02,376.25 A1.9,1.9 0 0 1 528.82,376.25 Z"/><path d="M526.88,375.65 A1.9,1.9 0 0 1 530.68,375.65 Z"/><path d="M528.74,376.75 A1.9,1.9 0 0 1 532.54,376.75 Z"/><path d="M530.60,376.86 A1.9,1.9 0 0 1 534.40,376.86 Z"/></g>
<path d="M295.00,387.30 L295.50,387.30 L296.00,387.30 L296.50,387.30 L297.00,387.30 L297.50,387.30 L298.00,387.30 L298.50,387.30 L299.00,387.30 L299.50,387.29 L300.00,387.29 L300.50,387.29 L301.00,387.29 L301.50,387.29 L302.00,387.29 L302.50,387.29 L303.00,387.29 L303.50,387.28 L304.00,387.28 L304.50,387.28 L305.00,387.28 L305.50,387.28 L306.00,387.27 L306.50,387.27 L307.00,387.27 L307.50,387.27 L308.00,387.27 L308.50,387.26 L309.00,387.26 L309.50,387.26 L310.00,387.25 L310.50,387.25 L311.00,387.25 L311.50,387.25 L312.00,387.24 L312.50,387.24 L313.00,387.24 L313.50,387.23 L314.00,387.23 L314.50,387.23 L315.00,387.22 L315.50,387.22 L316.00,387.22 L316.50,387.21 L317.00,387.21 L317.50,387.20 L318.00,387.20 L318.50,387.19 L319.00,387.18 L319.50,387.15 L320.00,387.12 L320.50,387.09 L321.00,387.05 L321.50,387.00 L322.00,386.94 L322.50,386.88 L323.00,386.82 L323.50,386.75 L324.00,386.67 L324.50,386.59 L325.00,386.50 L325.50,386.42 L326.00,386.32 L326.50,386.23 L327.00,386.13 L327.50,386.03 L328.00,385.92 L328.50,385.81 L329.00,385.70 L329.50,385.59 L330.00,385.48 L330.50,385.36 L331.00,385.25 L331.50,385.13 L332.00,385.01 L332.50,384.90 L333.00,384.78 L333.50,384.66 L334.00,384.54 L334.50,384.43 L335.00,384.31 L335.50,384.20 L336.00,384.08 L336.50,383.97 L337.00,383.86 L337.50,383.75 L338.00,383.65 L338.50,383.55 L339.00,383.45 L339.50,383.35 L340.00,383.26 L340.50,383.17 L341.00,383.09 L341.50,383.01 L342.00,382.94 L342.50,382.86 L343.00,382.80 L343.50,382.74 L344.00,382.67 L344.50,382.61 L345.00,382.55 L345.50,382.48 L346.00,382.42 L346.50,382.35 L347.00,382.28 L347.50,382.22 L348.00,382.15 L348.50,382.09 L349.00,382.02 L349.50,381.95 L350.00,381.89 L350.50,381.82 L351.00,381.76 L351.50,381.69 L352.00,381.63 L352.50,381.57 L353.00,381.50 L353.50,381.44 L354.00,381.38 L354.50,381.32 L355.00,381.26 L355.50,381.20 L356.00,381.15 L356.50,381.09 L357.00,381.03 L357.50,380.98 L358.00,380.93 L358.50,380.88 L359.00,380.83 L359.50,380.78 L360.00,380.74 L360.50,380.69 L361.00,380.65 L361.50,380.61 L362.00,380.57 L362.50,380.54 L363.00,380.51 L363.50,380.47 L364.00,380.45 L364.50,380.42 L365.00,380.39 L365.50,380.37 L366.00,380.35 L366.50,380.34 L367.00,380.32 L367.50,380.31 L368.00,380.31 L368.50,380.30 L369.00,380.30 L369.50,380.30 L370.00,380.30 L370.50,380.30 L371.00,380.30 L371.50,380.30 L372.00,380.30 L372.50,380.30 L373.00,380.30 L373.50,380.30 L374.00,380.30 L374.50,380.30 L375.00,380.30 L375.50,380.30 L376.00,380.30 L376.50,380.30 L377.00,380.30 L377.50,380.30 L378.00,380.30 L378.50,380.30 L379.00,380.30 L379.50,380.30 L380.00,380.30 L380.50,380.30 L381.00,380.30 L381.50,380.30 L382.00,380.30 L382.50,380.30 L383.00,380.30 L383.50,380.30 L384.00,380.30 L384.50,380.30 L385.00,380.30 L385.50,380.30 L386.00,380.30 L386.50,380.30 L387.00,380.30 L387.50,380.30 L388.00,380.30 L388.50,380.30 L389.00,380.30 L389.50,380.30 L390.00,380.30 L390.50,380.30 L391.00,380.30 L391.50,380.30 L392.00,380.30 L392.50,380.30 L393.00,380.30 L393.50,380.30 L394.00,380.30 L394.50,380.30 L395.00,380.30 L395.50,380.30 L396.00,380.30 L396.50,380.30 L397.00,380.30 L397.50,380.30 L398.00,380.30 L398.50,380.30 L399.00,380.30 L399.50,380.30 L400.00,380.30 L400.50,380.30 L401.00,380.30 L401.50,380.30 L402.00,380.30 L402.50,380.30 L403.00,380.30 L403.50,380.30 L404.00,380.30 L404.50,380.30 L405.00,380.30 L405.50,380.30 L406.00,380.30 L406.50,380.30 L407.00,380.30 L407.50,380.30 L408.00,380.30 L408.50,380.30 L409.00,380.30 L409.50,380.30 L410.00,380.30 L410.50,380.30 L411.00,380.30 L411.50,380.30 L412.00,380.30 L412.50,380.30 L413.00,380.30 L413.50,380.30 L414.00,380.30 L414.50,380.30 L415.00,380.30 L415.50,380.30 L416.00,380.30 L416.50,380.30 L417.00,380.30 L417.50,380.30 L418.00,380.30 L418.50,380.30 L419.00,380.30 L419.50,380.30 L420.00,380.30 L420.50,380.30 L421.00,380.30 L421.50,380.30 L422.00,380.30 L422.50,380.30 L423.00,380.30 L423.50,380.30 L424.00,380.30 L424.50,380.29 L425.00,380.29 L425.50,380.29 L426.00,380.29 L426.50,380.29 L427.00,380.29 L427.50,380.28 L428.00,380.28 L428.50,380.28 L429.00,380.28 L429.50,380.27 L430.00,380.27 L430.50,380.27 L431.00,380.27 L431.50,380.26 L432.00,380.26 L432.50,380.26 L433.00,380.25 L433.50,380.25 L434.00,380.25 L434.50,380.24 L435.00,380.24 L435.50,380.24 L436.00,380.23 L436.50,380.23 L437.00,380.22 L437.50,380.22 L438.00,380.22 L438.50,380.21 L439.00,380.21 L439.50,380.20 L440.00,380.20 L440.50,380.20 L441.00,380.19 L441.50,380.18 L442.00,380.17 L442.50,380.16 L443.00,380.15 L443.50,380.14 L444.00,380.13 L444.50,380.12 L445.00,380.10 L445.50,380.09 L446.00,380.07 L446.50,380.06 L447.00,380.04 L447.50,380.02 L448.00,380.00 L448.50,379.98 L449.00,379.96 L449.50,379.94 L450.00,379.92 L450.50,379.90 L451.00,379.88 L451.50,379.86 L452.00,379.83 L452.50,379.81 L453.00,379.79 L453.50,379.76 L454.00,379.74 L454.50,379.71 L455.00,379.69 L455.50,379.66 L456.00,379.64 L456.50,379.61 L457.00,379.59 L457.50,379.56 L458.00,379.54 L458.50,379.51 L459.00,379.49 L459.50,379.46 L460.00,379.44 L460.50,379.41 L461.00,379.39 L461.50,379.36 L462.00,379.34 L462.50,379.31 L463.00,379.29 L463.50,379.27 L464.00,379.24 L464.50,379.22 L465.00,379.20 L465.50,379.18 L466.00,379.16 L466.50,379.13 L467.00,379.11 L467.50,379.09 L468.00,379.06 L468.50,379.04 L469.00,379.01 L469.50,378.99 L470.00,378.96 L470.50,378.94 L471.00,378.91 L471.50,378.88 L472.00,378.86 L472.50,378.83 L473.00,378.81 L473.50,378.78 L474.00,378.75 L474.50,378.73 L475.00,378.70 L475.50,378.67 L476.00,378.65 L476.50,378.62 L477.00,378.59 L477.50,378.57 L478.00,378.54 L478.50,378.51 L479.00,378.49 L479.50,378.46 L480.00,378.43 L480.50,378.41 L481.00,378.38 L481.50,378.36 L482.00,378.33 L482.50,378.31 L483.00,378.29 L483.50,378.26 L484.00,378.24 L484.50,378.22 L485.00,378.19 L485.50,378.17 L486.00,378.15 L486.50,378.13 L487.00,378.11 L487.50,378.09 L488.00,378.07 L488.50,378.05 L489.00,378.03 L489.50,378.02 L490.00,378.00 L490.50,377.98 L491.00,377.97 L491.50,377.95 L492.00,377.94 L492.50,377.92 L493.00,377.90 L493.50,377.89 L494.00,377.87 L494.50,377.86 L495.00,377.84 L495.50,377.83 L496.00,377.81 L496.50,377.80 L497.00,377.78 L497.50,377.77 L498.00,377.75 L498.50,377.74 L499.00,377.73 L499.50,377.71 L500.00,377.70 L500.50,377.69 L501.00,377.67 L501.50,377.66 L502.00,377.65 L502.50,377.64 L503.00,377.63 L503.50,377.61 L504.00,377.60 L504.50,377.59 L505.00,377.58 L505.50,377.57 L506.00,377.56 L506.50,377.55 L507.00,377.54 L507.50,377.54 L508.00,377.53 L508.50,377.52 L509.00,377.51 L509.50,377.51 L510.00,377.50 L510.50,377.49 L511.00,377.49 L511.50,377.48 L512.00,377.48 L512.50,377.47 L513.00,377.46 L513.50,377.46 L514.00,377.45 L514.50,377.45 L515.00,377.44 L515.50,377.43 L516.00,377.43 L516.50,377.42 L517.00,377.42 L517.50,377.41 L518.00,377.41 L518.50,377.40 L519.00,377.40 L519.50,377.39 L520.00,377.39 L520.50,377.38 L521.00,377.38 L521.50,377.37 L522.00,377.37 L522.50,377.36 L523.00,377.36 L523.50,377.35 L524.00,377.35 L524.50,377.34 L525.00,377.34 L525.50,377.34 L526.00,377.33 L526.50,377.33 L527.00,377.33 L527.50,377.32 L528.00,377.32 L528.50,377.32 L529.00,377.32 L529.50,377.31 L530.00,377.31 L530.50,377.31 L531.00,377.31 L531.50,377.31 L532.00,377.30 L532.50,377.30 L533.00,377.30 L533.50,377.30 L534.00,377.30 L534.50,377.30" fill="none" stroke="#b4b4b4" stroke-width="1.5" stroke-linejoin="round" stroke-linecap="round" />
<path d="M322.00,383.48 L322.50,382.93 L323.00,382.29 L323.50,381.52 L324.00,380.62 L324.50,379.56 L325.00,378.33 L325.50,376.89 L326.00,375.22 L326.50,373.30 L327.00,371.11 L327.50,368.60 L328.00,365.77 L328.50,362.58 L329.00,359.02 L329.50,355.07 L330.00,350.72 L330.50,345.96 L331.00,340.80 L331.50,335.24 L332.00,329.31 L332.50,323.04 L333.00,316.45 L333.50,309.61 L334.00,302.57 L334.50,295.40 L335.00,288.18 L335.50,281.01 L336.00,273.96 L336.50,267.15 L337.00,260.68 L337.50,254.66 L338.00,249.19 L338.50,244.38 L339.00,240.31 L339.50,237.08 L340.00,234.76 L340.50,233.39 L341.00,233.01 L341.50,233.62 L342.00,235.21 L342.50,237.74 L343.00,241.15 L343.50,245.37 L344.00,250.29 L344.50,255.82 L345.00,261.86 L345.50,268.31 L346.00,275.04 L346.50,281.98 L347.00,289.00 L347.50,296.03 L348.00,302.97 L348.50,309.75 L349.00,316.31 L349.50,322.60 L350.00,328.56 L350.50,334.16 L351.00,339.37 L351.50,344.19 L352.00,348.61 L352.50,352.63 L353.00,356.24 L353.50,359.48 L354.00,362.36 L354.50,364.89 L355.00,367.11 L355.50,369.04 L356.00,370.70 L356.50,372.13 L357.00,373.34 L357.50,374.36 L358.00,375.23 L358.50,375.95 L359.00,376.54 L359.50,377.04 L360.00,377.44 L360.50,377.78 L361.00,378.05 L361.50,378.27 L362.00,378.45 L362.50,378.59 L363.00,378.71 L363.50,378.81 L364.00,378.89 L364.50,378.96 L365.00,379.01 L365.50,379.06 L366.00,379.11" fill="none" stroke="#008000" stroke-width="1.7" stroke-linejoin="round" stroke-linecap="round" />
<path d="M341.00,382.08 L341.50,381.91 L342.00,381.72 L342.50,381.52 L343.00,381.29 L343.50,381.03 L344.00,380.74 L344.50,380.40 L345.00,380.00 L345.50,379.54 L346.00,379.01 L346.50,378.40 L347.00,377.69 L347.50,376.88 L348.00,375.95 L348.50,374.89 L349.00,373.68 L349.50,372.31 L350.00,370.78 L350.50,369.06 L351.00,367.16 L351.50,365.06 L352.00,362.76 L352.50,360.26 L353.00,357.56 L353.50,354.68 L354.00,351.61 L354.50,348.38 L355.00,345.01 L355.50,341.52 L356.00,337.95 L356.50,334.32 L357.00,330.70 L357.50,327.10 L358.00,323.59 L358.50,320.22 L359.00,317.03 L359.50,314.08 L360.00,311.42 L360.50,309.10 L361.00,307.17 L361.50,305.66 L362.00,304.60 L362.50,304.03 L363.00,303.94 L363.50,304.36 L364.00,305.25 L364.50,306.60 L365.00,308.39 L365.50,310.57 L366.00,313.11 L366.50,315.94 L367.00,319.02 L367.50,322.30 L368.00,325.73 L368.50,329.25 L369.00,332.82 L369.50,336.39 L370.00,339.92 L370.50,343.37 L371.00,346.71 L371.50,349.91 L372.00,352.95 L372.50,355.81 L373.00,358.48 L373.50,360.96 L374.00,363.23 L374.50,365.31 L375.00,367.19 L375.50,368.87 L376.00,370.38 L376.50,371.71 L377.00,372.88 L377.50,373.91 L378.00,374.80 L378.50,375.57 L379.00,376.23 L379.50,376.80 L380.00,377.28 L380.50,377.68 L381.00,378.02 L381.50,378.31 L382.00,378.55 L382.50,378.75 L383.00,378.92" fill="none" stroke="#008000" stroke-width="1.7" stroke-linejoin="round" stroke-linecap="round" />
<path d="M452.00,378.75 L452.50,378.63 L453.00,378.52 L453.50,378.41 L454.00,378.29 L454.50,378.18 L455.00,378.07 L455.50,377.96 L456.00,377.86 L456.50,377.75 L457.00,377.65 L457.50,377.55 L458.00,377.45 L458.50,377.35 L459.00,377.26 L459.50,377.18 L460.00,377.09 L460.50,377.01 L461.00,376.94 L461.50,376.87 L462.00,376.80 L462.50,376.74 L463.00,376.68 L463.50,376.63 L464.00,376.59 L464.50,376.55 L465.00,376.51 L465.50,376.48 L466.00,376.46 L466.50,376.44 L467.00,376.42 L467.50,376.41 L468.00,376.40 L468.50,376.40 L469.00,376.40 L469.50,376.41 L470.00,376.42 L470.50,376.44 L471.00,376.46 L471.50,376.49 L472.00,376.51 L472.50,376.55 L473.00,376.58 L473.50,376.62 L474.00,376.66 L474.50,376.71 L475.00,376.76 L475.50,376.81 L476.00,376.86 L476.50,376.92 L477.00,376.97 L477.50,377.03 L478.00,377.09 L478.50,377.16 L479.00,377.22 L479.50,377.28 L480.00,377.35 L480.50,377.41 L481.00,377.48 L481.50,377.54 L482.00,377.61 L482.50,377.67 L483.00,377.74 L483.50,377.80 L484.00,377.86" fill="none" stroke="#8000ff" stroke-width="1.6" stroke-linejoin="round" stroke-linecap="round" />
<path d="M295.00,386.83 L295.50,386.82 L296.00,386.81 L296.50,386.80 L297.00,386.79 L297.50,386.77 L298.00,386.76 L298.50,386.75 L299.00,386.74 L299.50,386.72 L300.00,386.71 L300.50,386.70 L301.00,386.68 L301.50,386.67 L302.00,386.65 L302.50,386.63 L303.00,386.62 L303.50,386.60 L304.00,386.58 L304.50,386.56 L305.00,386.54 L305.50,386.52 L306.00,386.50 L306.50,386.47 L307.00,386.45 L307.50,386.43 L308.00,386.40 L308.50,386.37 L309.00,386.35 L309.50,386.32 L310.00,386.29 L310.50,386.26 L311.00,386.22 L311.50,386.19 L312.00,386.15 L312.50,386.11 L313.00,386.07 L313.50,386.03 L314.00,385.98 L314.50,385.93 L315.00,385.88 L315.50,385.82 L316.00,385.75 L316.50,385.68 L317.00,385.60 L317.50,385.50 L318.00,385.40 L318.50,385.27 L319.00,385.11 L319.50,384.92 L320.00,384.69 L320.50,384.41 L321.00,384.08 L321.50,383.69 L322.00,383.23 L322.50,382.68 L323.00,382.02 L323.50,381.25 L324.00,380.34 L324.50,379.28 L325.00,378.04 L325.50,376.59 L326.00,374.92 L326.50,372.99 L327.00,370.78 L327.50,368.27 L328.00,365.43 L328.50,362.23 L329.00,358.66 L329.50,354.70 L330.00,350.34 L330.50,345.57 L331.00,340.39 L331.50,334.83 L332.00,328.88 L332.50,322.59 L333.00,315.99 L333.50,309.14 L334.00,302.08 L334.50,294.90 L335.00,287.66 L335.50,280.46 L336.00,273.40 L336.50,266.56 L337.00,260.07 L337.50,254.02 L338.00,248.51 L338.50,243.66 L339.00,239.56 L339.50,236.28 L340.00,233.90 L340.50,232.46 L341.00,232.00 L341.50,232.52 L342.00,234.00 L342.50,236.39 L343.00,239.64 L343.50,243.66 L344.00,248.35 L344.50,253.61 L345.00,259.32 L345.50,265.37 L346.00,271.64 L346.50,278.03 L347.00,284.41 L347.50,290.69 L348.00,296.77 L348.50,302.55 L349.00,307.97 L349.50,312.95 L350.00,317.44 L350.50,321.39 L351.00,324.77 L351.50,327.56 L352.00,329.74 L352.50,331.32 L353.00,332.31 L353.50,332.72 L354.00,332.59 L354.50,331.95 L355.00,330.86 L355.50,329.35 L356.00,327.50 L356.50,325.36 L357.00,323.00 L357.50,320.49 L358.00,317.89 L358.50,315.29 L359.00,312.75 L359.50,310.34 L360.00,308.13 L360.50,306.19 L361.00,304.56 L361.50,303.31 L362.00,302.48 L362.50,302.08 L363.00,302.15 L363.50,302.69 L364.00,303.69 L364.50,305.14 L365.00,307.01 L365.50,309.27 L366.00,311.86 L366.50,314.75 L367.00,317.88 L367.50,321.21 L368.00,324.67 L368.50,328.24 L369.00,331.84 L369.50,335.44 L370.00,339.00 L370.50,342.48 L371.00,345.85 L371.50,349.08 L372.00,352.14 L372.50,355.03 L373.00,357.73 L373.50,360.22 L374.00,362.52 L374.50,364.61 L375.00,366.51 L375.50,368.22 L376.00,369.74 L376.50,371.09 L377.00,372.28 L377.50,373.32 L378.00,374.23 L378.50,375.01 L379.00,375.69 L379.50,376.26 L380.00,376.76 L380.50,377.18 L381.00,377.53 L381.50,377.83 L382.00,378.08 L382.50,378.29 L383.00,378.47 L383.50,378.62 L384.00,378.75 L384.50,378.85 L385.00,378.95 L385.50,379.02 L386.00,379.09 L386.50,379.15 L387.00,379.20 L387.50,379.25 L388.00,379.29 L388.50,379.32 L389.00,379.36 L389.50,379.39 L390.00,379.42 L390.50,379.44 L391.00,379.47 L391.50,379.49 L392.00,379.52 L392.50,379.54 L393.00,379.56 L393.50,379.58 L394.00,379.60 L394.50,379.61 L395.00,379.63 L395.50,379.65 L396.00,379.66 L396.50,379.68 L397.00,379.69 L397.50,379.71 L398.00,379.72 L398.50,379.73 L399.00,379.75 L399.50,379.76 L400.00,379.77 L400.50,379.78 L401.00,379.79 L401.50,379.80 L402.00,379.81 L402.50,379.82 L403.00,379.83 L403.50,379.84 L404.00,379.85 L404.50,379.86 L405.00,379.87 L405.50,379.88 L406.00,379.88 L406.50,379.89 L407.00,379.90 L407.50,379.91 L408.00,379.91 L408.50,379.92 L409.00,379.93 L409.50,379.93 L410.00,379.94 L410.50,379.94 L411.00,379.95 L411.50,379.96 L412.00,379.96 L412.50,379.97 L413.00,379.97 L413.50,379.98 L414.00,379.98 L414.50,379.98 L415.00,379.99 L415.50,379.99 L416.00,380.00 L416.50,380.00 L417.00,380.00 L417.50,380.00 L418.00,380.01 L418.50,380.01 L419.00,380.01 L419.50,380.01 L420.00,380.01 L420.50,380.01 L421.00,380.01 L421.50,380.01 L422.00,380.01 L422.50,380.01 L423.00,380.01 L423.50,380.01 L424.00,380.00 L424.50,380.00 L425.00,379.99 L425.50,379.98 L426.00,379.98 L426.50,379.97 L427.00,379.96 L427.50,379.95 L428.00,379.94 L428.50,379.93 L429.00,379.91 L429.50,379.90 L430.00,379.88 L430.50,379.87 L431.00,379.85 L431.50,379.83 L432.00,379.80 L432.50,379.78 L433.00,379.76 L433.50,379.73 L434.00,379.70 L434.50,379.67 L435.00,379.64 L435.50,379.60 L436.00,379.57 L436.50,379.53 L437.00,379.49 L437.50,379.44 L438.00,379.40 L438.50,379.35 L439.00,379.30 L439.50,379.25 L440.00,379.20 L440.50,379.14 L441.00,379.08 L441.50,379.01 L442.00,378.95 L442.50,378.87 L443.00,378.80 L443.50,378.72 L444.00,378.64 L444.50,378.56 L445.00,378.47 L445.50,378.38 L446.00,378.29 L446.50,378.19 L447.00,378.10 L447.50,378.00 L448.00,377.90 L448.50,377.79 L449.00,377.69 L449.50,377.58 L450.00,377.47 L450.50,377.36 L451.00,377.25 L451.50,377.14 L452.00,377.03 L452.50,376.91 L453.00,376.80 L453.50,376.69 L454.00,376.58 L454.50,376.47 L455.00,376.36 L455.50,376.25 L456.00,376.14 L456.50,376.04 L457.00,375.94 L457.50,375.84 L458.00,375.74 L458.50,375.65 L459.00,375.56 L459.50,375.47 L460.00,375.39 L460.50,375.31 L461.00,375.24 L461.50,375.17 L462.00,375.10 L462.50,375.04 L463.00,374.98 L463.50,374.93 L464.00,374.89 L464.50,374.85 L465.00,374.82 L465.50,374.79 L466.00,374.76 L466.50,374.74 L467.00,374.73 L467.50,374.72 L468.00,374.71 L468.50,374.71 L469.00,374.72 L469.50,374.72 L470.00,374.74 L470.50,374.75 L471.00,374.78 L471.50,374.80 L472.00,374.83 L472.50,374.86 L473.00,374.90 L473.50,374.94 L474.00,374.98 L474.50,375.03 L475.00,375.08 L475.50,375.13 L476.00,375.18 L476.50,375.24 L477.00,375.30 L477.50,375.36 L478.00,375.42 L478.50,375.48 L479.00,375.54 L479.50,375.61 L480.00,375.67 L480.50,375.74 L481.00,375.80 L481.50,375.87 L482.00,375.94 L482.50,376.00 L483.00,376.07 L483.50,376.13 L484.00,376.19 L484.50,376.26 L485.00,376.32 L485.50,376.38 L486.00,376.44 L486.50,376.49 L487.00,376.55 L487.50,376.60 L488.00,376.66 L488.50,376.71 L489.00,376.76 L489.50,376.81 L490.00,376.86 L490.50,376.90 L491.00,376.94 L491.50,376.99 L492.00,377.02 L492.50,377.06 L493.00,377.09 L493.50,377.13 L494.00,377.16 L494.50,377.18 L495.00,377.21 L495.50,377.23 L496.00,377.26 L496.50,377.28 L497.00,377.30 L497.50,377.31 L498.00,377.33 L498.50,377.34 L499.00,377.35 L499.50,377.37 L500.00,377.38 L500.50,377.38 L501.00,377.39 L501.50,377.40 L502.00,377.40 L502.50,377.41 L503.00,377.41 L503.50,377.41 L504.00,377.42 L504.50,377.42 L505.00,377.42 L505.50,377.42 L506.00,377.42 L506.50,377.42 L507.00,377.42 L507.50,377.42 L508.00,377.42 L508.50,377.41 L509.00,377.41 L509.50,377.41 L510.00,377.41 L510.50,377.41 L511.00,377.41 L511.50,377.40 L512.00,377.40 L512.50,377.40 L513.00,377.40 L513.50,377.39 L514.00,377.39 L514.50,377.38 L515.00,377.38 L515.50,377.38 L516.00,377.37 L516.50,377.37 L517.00,377.36 L517.50,377.36 L518.00,377.36 L518.50,377.35 L519.00,377.35 L519.50,377.34 L520.00,377.34 L520.50,377.33 L521.00,377.33 L521.50,377.33 L522.00,377.32 L522.50,377.32 L523.00,377.31 L523.50,377.31 L524.00,377.31 L524.50,377.30 L525.00,377.30 L525.50,377.30 L526.00,377.29 L526.50,377.29 L527.00,377.29 L527.50,377.28 L528.00,377.28 L528.50,377.28 L529.00,377.28 L529.50,377.27 L530.00,377.27 L530.50,377.27 L531.00,377.27 L531.50,377.27 L532.00,377.27 L532.50,377.27 L533.00,377.26 L533.50,377.26 L534.00,377.26 L534.50,377.26" fill="none" stroke="#ffff00" stroke-width="2.3" stroke-linejoin="round" stroke-linecap="round" />
</g>
<rect x="294.0" y="216.0" width="240.70000000000005" height="184.3" fill="none" stroke="#000" stroke-width="2"/>
<line x1="300.10" y1="400.3" x2="300.10" y2="402.40000000000003" stroke="#000" stroke-width="1.3"/>
<line x1="312.50" y1="400.3" x2="312.50" y2="404.2" stroke="#000" stroke-width="1.5"/>
<line x1="324.90" y1="400.3" x2="324.90" y2="402.40000000000003" stroke="#000" stroke-width="1.3"/>
<line x1="337.30" y1="400.3" x2="337.30" y2="402.40000000000003" stroke="#000" stroke-width="1.3"/>
<line x1="349.70" y1="400.3" x2="349.70" y2="402.40000000000003" stroke="#000" stroke-width="1.3"/>
<line x1="362.10" y1="400.3" x2="362.10" y2="402.40000000000003" stroke="#000" stroke-width="1.3"/>
<line x1="374.50" y1="400.3" x2="374.50" y2="402.40000000000003" stroke="#000" stroke-width="1.3"/>
<line x1="386.90" y1="400.3" x2="386.90" y2="404.2" stroke="#000" stroke-width="1.5"/>
<line x1="399.30" y1="400.3" x2="399.30" y2="402.40000000000003" stroke="#000" stroke-width="1.3"/>
<line x1="411.70" y1="400.3" x2="411.70" y2="402.40000000000003" stroke="#000" stroke-width="1.3"/>
<line x1="424.10" y1="400.3" x2="424.10" y2="402.40000000000003" stroke="#000" stroke-width="1.3"/>
<line x1="436.50" y1="400.3" x2="436.50" y2="402.40000000000003" stroke="#000" stroke-width="1.3"/>
<line x1="448.90" y1="400.3" x2="448.90" y2="402.40000000000003" stroke="#000" stroke-width="1.3"/>
<line x1="461.30" y1="400.3" x2="461.30" y2="404.2" stroke="#000" stroke-width="1.5"/>
<line x1="473.70" y1="400.3" x2="473.70" y2="402.40000000000003" stroke="#000" stroke-width="1.3"/>
<line x1="486.10" y1="400.3" x2="486.10" y2="402.40000000000003" stroke="#000" stroke-width="1.3"/>
<line x1="498.50" y1="400.3" x2="498.50" y2="402.40000000000003" stroke="#000" stroke-width="1.3"/>
<line x1="510.90" y1="400.3" x2="510.90" y2="402.40000000000003" stroke="#000" stroke-width="1.3"/>
<line x1="523.30" y1="400.3" x2="523.30" y2="402.40000000000003" stroke="#000" stroke-width="1.3"/>
<text x="312.5" y="415.5" font-size="11" fill="#000" text-anchor="middle" >160</text>
<text x="386.9" y="415.5" font-size="11" fill="#000" text-anchor="middle" >164</text>
<text x="461.3" y="415.5" font-size="11" fill="#000" text-anchor="middle" >168</text>
<text x="535.7" y="415.5" font-size="11" fill="#000" text-anchor="middle" >172</text>
<text transform="translate(36.4,31.1) scale(1,1.03)" font-size="18.1" fill="#000" text-anchor="start" >(a)</text>
<text x="126.9" y="20.7" font-size="10.4" fill="#000" text-anchor="start" >O<tspan dx="0.9"> 1s</tspan></text>
<text transform="translate(54.8,45.5) scale(1,1.05)" font-size="9.6" fill="#ff1493" text-anchor="start" >Contamination</text>
<text transform="translate(43.7,83.9) scale(1,1.12)" font-size="13.7" fill="#1010b0" text-anchor="start" >Mo-O</text>
<text transform="translate(171.9,90.6) scale(1,1.03)" font-size="14.4" fill="#808000" text-anchor="start" >Metal-peroxo</text>
<line x1="103.4" y1="53.4" x2="115.71" y2="66.78" stroke="#ff1493" stroke-width="2.0"/>
<polygon points="121.8,73.4 113.50,68.81 117.91,64.75" fill="#ff1493"/>
<line x1="65.3" y1="89.5" x2="82.07" y2="108.63" stroke="#1010b0" stroke-width="2.0"/>
<polygon points="88.0,115.4 80.00,110.44 84.14,106.82" fill="#1010b0"/>
<line x1="198.8" y1="105.5" x2="194.14" y2="117.14" stroke="#808000" stroke-width="2.0"/>
<polygon points="190.8,125.5 191.36,116.03 196.93,118.26" fill="#808000"/>
<line x1="189.2" y1="15.9" x2="210.5" y2="15.9" stroke="#000" stroke-width="1.2"/>
<circle cx="199.85" cy="15.9" r="2.1" fill="#fff" stroke="#000" stroke-width="1.1"/>
<path d="M197.80,15.50 A2.1,2.1 0 0 1 201.90,15.50 Z" fill="#000"/>
<text x="212.5" y="19.09" font-size="8.85" fill="#000" text-anchor="start" >Expert curve</text>
<line x1="189.2" y1="26.6" x2="210.5" y2="26.6" stroke="#ff7f00" stroke-width="2"/>
<text x="212.5" y="29.79" font-size="8.85" fill="#000" text-anchor="start" >Fitted curve</text>
<line x1="189.2" y1="37.5" x2="210.5" y2="37.5" stroke="#b4b4b4" stroke-width="2"/>
<text x="212.5" y="40.69" font-size="8.85" fill="#000" text-anchor="start" >Background</text>
<text x="199.4" y="181.2" font-size="8.8" fill="#111" text-anchor="start" >MoO<tspan font-size="6" dy="2">3</tspan><tspan dy="-2">:MoS</tspan><tspan font-size="6" dy="2">2</tspan><tspan dy="-2"> layer</tspan></text>
<text transform="translate(301.0,30.8) scale(1,1.03)" font-size="18.2" fill="#000" text-anchor="start" >(b)</text>
<text transform="translate(392.0,27) scale(1,0.97)" font-size="10.9" fill="#000" text-anchor="start" >S<tspan dx="0.6"> 2p</tspan></text>
<text transform="translate(368.8,72.5) scale(1,1.05)" font-size="13.3" fill="#008000" text-anchor="start" >Mo-S</text>
<text transform="translate(482.5,61.6) scale(1,1.04)" font-size="14.5" fill="#8000ff" text-anchor="start" >S-O</text>
<line x1="377.5" y1="80.2" x2="375.20" y2="85.45" stroke="#008000" stroke-width="2.0"/>
<polygon points="371.6,93.7 372.46,84.25 377.95,86.65" fill="#008000"/>
<line x1="496.3" y1="63.8" x2="486.48" y2="79.04" stroke="#8000ff" stroke-width="2.0"/>
<polygon points="481.6,86.6 483.96,77.41 489.00,80.66" fill="#8000ff"/>
<line x1="465" y1="13.5" x2="482.5" y2="13.5" stroke="#000" stroke-width="1.2"/>
<circle cx="473.75" cy="13.5" r="2.1" fill="#fff" stroke="#000" stroke-width="1.1"/>
<path d="M471.70,13.10 A2.1,2.1 0 0 1 475.80,13.10 Z" fill="#000"/>
<text x="483.6" y="16.06" font-size="7.1" fill="#000" text-anchor="start" >Expert curve</text>
<line x1="465" y1="23.2" x2="482.5" y2="23.2" stroke="#ffff00" stroke-width="2"/>
<text x="483.6" y="25.76" font-size="7.1" fill="#000" text-anchor="start" >Fitted curve</text>
<line x1="465" y1="32.4" x2="482.5" y2="32.4" stroke="#b4b4b4" stroke-width="2"/>
<text x="483.6" y="34.96" font-size="7.1" fill="#000" text-anchor="start" >background</text>
<text x="458.2" y="176.9" font-size="9.0" fill="#111" text-anchor="start" >MoO<tspan font-size="6" dy="2">3</tspan><tspan dy="-2">:MoS</tspan><tspan font-size="6" dy="2">2</tspan><tspan dy="-2"> layer</tspan></text>
<text transform="translate(37.5,240.5) scale(1,1.03)" font-size="18.2" fill="#000" text-anchor="start" >(c)</text>
<text x="132.2" y="231.2" font-size="10.6" fill="#000" text-anchor="start" >O<tspan dx="1.3"> 1s</tspan></text>
<text transform="translate(50.7,263.1) scale(1,1.08)" font-size="13.7" fill="#1010b0" text-anchor="start" >Mo-O</text>
<text x="181.0" y="272.9" font-size="10.9" fill="#ff1493" text-anchor="start" >Contamination</text>
<text x="178.0" y="310.8" font-size="14.6" fill="#808000" text-anchor="start" >Metal-peroxo</text>
<line x1="60" y1="267.9" x2="76.73" y2="292.46" stroke="#1010b0" stroke-width="2.0"/>
<polygon points="81.8,299.9 74.25,294.15 79.21,290.77" fill="#1010b0"/>
<line x1="172.6" y1="270.3" x2="158.07" y2="277.02" stroke="#ff1493" stroke-width="2.0"/>
<polygon points="149.9,280.8 156.81,274.30 159.33,279.74" fill="#ff1493"/>
<line x1="205.3" y1="326.5" x2="199.31" y2="343.42" stroke="#808000" stroke-width="2.0"/>
<polygon points="196.3,351.9 196.48,342.41 202.13,344.42" fill="#808000"/>
<line x1="176.5" y1="224.7" x2="194.7" y2="224.7" stroke="#000" stroke-width="1.2"/>
<circle cx="185.6" cy="224.7" r="2.1" fill="#fff" stroke="#000" stroke-width="1.1"/>
<path d="M183.55,224.30 A2.1,2.1 0 0 1 187.65,224.30 Z" fill="#000"/>
<text x="196" y="227.54" font-size="7.9" fill="#000" text-anchor="start" >Experimental curve</text>
<line x1="176.5" y1="235.2" x2="194.7" y2="235.2" stroke="#ff7f00" stroke-width="2"/>
<text x="196" y="238.04" font-size="7.9" fill="#000" text-anchor="start" >Fitted curve</text>
<line x1="176.5" y1="245.6" x2="194.7" y2="245.6" stroke="#b4b4b4" stroke-width="2"/>
<text x="196" y="248.44" font-size="7.9" fill="#000" text-anchor="start" >Background</text>
<text x="225.3" y="389.1" font-size="8.8" fill="#111" text-anchor="start" >MoS<tspan font-size="6" dy="2">2</tspan><tspan dy="-2"> layer</tspan></text>
<text transform="translate(301.3,239.2) scale(1,1.03)" font-size="18.2" fill="#000" text-anchor="start" >(d)</text>
<text transform="translate(392.0,233.7) scale(1,0.97)" font-size="10.9" fill="#000" text-anchor="start" >S<tspan dx="0.6"> 2p</tspan></text>
<text transform="translate(355.5,259.4) scale(1,1.05)" font-size="13.3" fill="#008000" text-anchor="start" >Mo-S</text>
<text transform="translate(462.9,340.9) scale(1,1.03)" font-size="14.5" fill="#8000ff" text-anchor="start" >S-O</text>
<line x1="371.4" y1="261.8" x2="361.62" y2="279.70" stroke="#008000" stroke-width="2.0"/>
<polygon points="357.3,287.6 358.76,278.14 364.47,281.26" fill="#008000"/>
<line x1="472.8" y1="346.5" x2="466.31" y2="353.48" stroke="#8000ff" stroke-width="2.0"/>
<polygon points="459.5,360.8 464.11,351.43 468.51,355.52" fill="#8000ff"/>
<line x1="429.5" y1="225.5" x2="448.6" y2="225.5" stroke="#000" stroke-width="1.2"/>
<circle cx="439.05" cy="225.5" r="2.1" fill="#fff" stroke="#000" stroke-width="1.1"/>
<path d="M437.00,225.10 A2.1,2.1 0 0 1 441.10,225.10 Z" fill="#000"/>
<text x="450.5" y="228.99" font-size="8.3" fill="#000" text-anchor="start" >Experimmental curve</text>
<line x1="429.5" y1="236.3" x2="448.6" y2="236.3" stroke="#ffff00" stroke-width="2"/>
<text x="450.5" y="239.79" font-size="8.3" fill="#000" text-anchor="start" >Fitted curve</text>
<line x1="429.5" y1="246.8" x2="448.6" y2="246.8" stroke="#b4b4b4" stroke-width="2"/>
<text x="450.5" y="250.29" font-size="8.3" fill="#000" text-anchor="start" >background</text>
<text x="484.9" y="393.5" font-size="8.8" fill="#111" text-anchor="start" >MoS<tspan font-size="6" dy="2">2</tspan><tspan dy="-2"> layer</tspan></text>
<text transform="translate(223.8,438.5) scale(1,0.97)" font-size="14.7" fill="#000" text-anchor="start" >Binding energy (eV)</text>
<text transform="translate(15,247.8) rotate(-90) scale(1,0.97)" font-size="14.9" fill="#000">Intensity (a.u)</text>
</svg>
</body></html>
